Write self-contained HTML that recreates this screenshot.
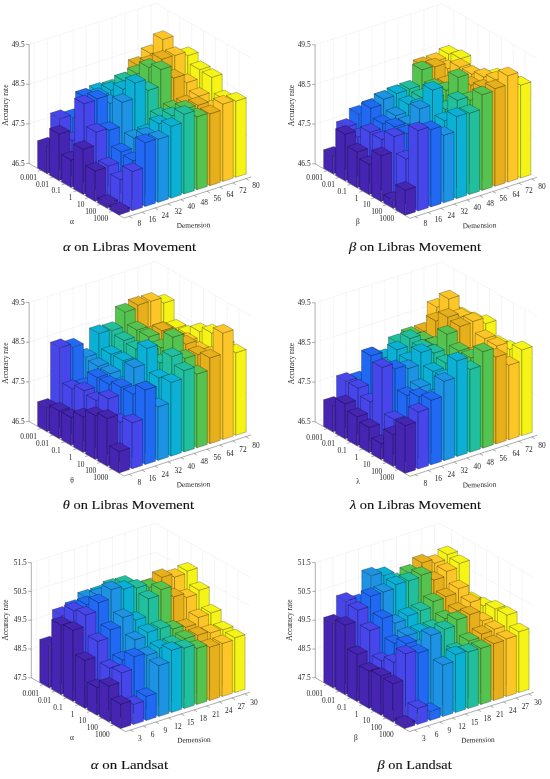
<!DOCTYPE html>
<html><head><meta charset="utf-8"><title>Parameter sensitivity</title>
<style>
html,body{margin:0;padding:0;background:#fff;}
body{width:550px;height:779px;overflow:hidden;position:relative;}
svg{position:absolute;left:0;top:0;}
.cap{position:absolute;font-family:"Liberation Serif","DejaVu Serif",serif;font-size:12.6px;color:#1a1a1a;white-space:nowrap;line-height:1;transform-origin:0 0;}
.cap i{font-style:italic;}
</style></head><body>
<svg width="550" height="779" viewBox="0 0 550 779" font-family='"Liberation Serif", "DejaVu Serif", serif'>
<g>
<line x1="29.1" y1="163.5" x2="156.1" y2="122.5" stroke="#ebebeb" stroke-width="0.5"/>
<line x1="156.1" y1="122.5" x2="251" y2="177" stroke="#ebebeb" stroke-width="0.5"/>
<line x1="29.1" y1="123.83" x2="156.1" y2="82.83" stroke="#ebebeb" stroke-width="0.5"/>
<line x1="156.1" y1="82.83" x2="251" y2="137.33" stroke="#ebebeb" stroke-width="0.5"/>
<line x1="29.1" y1="84.16" x2="156.1" y2="43.16" stroke="#ebebeb" stroke-width="0.5"/>
<line x1="156.1" y1="43.16" x2="251" y2="97.66" stroke="#ebebeb" stroke-width="0.5"/>
<line x1="29.1" y1="44.49" x2="156.1" y2="3.49" stroke="#ebebeb" stroke-width="0.5"/>
<line x1="156.1" y1="3.49" x2="251" y2="57.99" stroke="#ebebeb" stroke-width="0.5"/>
<line x1="34.28" y1="161.83" x2="34.28" y2="42.82" stroke="#ebebeb" stroke-width="0.5"/>
<line x1="47.24" y1="157.64" x2="47.24" y2="38.63" stroke="#ebebeb" stroke-width="0.5"/>
<line x1="60.2" y1="153.46" x2="60.2" y2="34.45" stroke="#ebebeb" stroke-width="0.5"/>
<line x1="73.16" y1="149.28" x2="73.16" y2="30.27" stroke="#ebebeb" stroke-width="0.5"/>
<line x1="86.12" y1="145.09" x2="86.12" y2="26.08" stroke="#ebebeb" stroke-width="0.5"/>
<line x1="99.08" y1="140.91" x2="99.08" y2="21.9" stroke="#ebebeb" stroke-width="0.5"/>
<line x1="112.04" y1="136.72" x2="112.04" y2="17.71" stroke="#ebebeb" stroke-width="0.5"/>
<line x1="125" y1="132.54" x2="125" y2="13.53" stroke="#ebebeb" stroke-width="0.5"/>
<line x1="137.96" y1="128.36" x2="137.96" y2="9.35" stroke="#ebebeb" stroke-width="0.5"/>
<line x1="150.92" y1="124.17" x2="150.92" y2="5.16" stroke="#ebebeb" stroke-width="0.5"/>
<line x1="167.96" y1="129.31" x2="167.96" y2="10.3" stroke="#ebebeb" stroke-width="0.5"/>
<line x1="179.82" y1="136.12" x2="179.82" y2="17.11" stroke="#ebebeb" stroke-width="0.5"/>
<line x1="191.69" y1="142.94" x2="191.69" y2="23.93" stroke="#ebebeb" stroke-width="0.5"/>
<line x1="203.55" y1="149.75" x2="203.55" y2="30.74" stroke="#ebebeb" stroke-width="0.5"/>
<line x1="215.41" y1="156.56" x2="215.41" y2="37.55" stroke="#ebebeb" stroke-width="0.5"/>
<line x1="227.28" y1="163.38" x2="227.28" y2="44.36" stroke="#ebebeb" stroke-width="0.5"/>
<line x1="239.14" y1="170.19" x2="239.14" y2="51.18" stroke="#ebebeb" stroke-width="0.5"/>
<line x1="34.28" y1="161.83" x2="129.18" y2="216.33" stroke="#ebebeb" stroke-width="0.5"/>
<line x1="47.24" y1="157.64" x2="142.14" y2="212.14" stroke="#ebebeb" stroke-width="0.5"/>
<line x1="60.2" y1="153.46" x2="155.1" y2="207.96" stroke="#ebebeb" stroke-width="0.5"/>
<line x1="73.16" y1="149.28" x2="168.06" y2="203.78" stroke="#ebebeb" stroke-width="0.5"/>
<line x1="86.12" y1="145.09" x2="181.02" y2="199.59" stroke="#ebebeb" stroke-width="0.5"/>
<line x1="99.08" y1="140.91" x2="193.98" y2="195.41" stroke="#ebebeb" stroke-width="0.5"/>
<line x1="112.04" y1="136.72" x2="206.94" y2="191.22" stroke="#ebebeb" stroke-width="0.5"/>
<line x1="125" y1="132.54" x2="219.9" y2="187.04" stroke="#ebebeb" stroke-width="0.5"/>
<line x1="137.96" y1="128.36" x2="232.86" y2="182.86" stroke="#ebebeb" stroke-width="0.5"/>
<line x1="150.92" y1="124.17" x2="245.82" y2="178.67" stroke="#ebebeb" stroke-width="0.5"/>
<line x1="40.96" y1="170.31" x2="167.96" y2="129.31" stroke="#ebebeb" stroke-width="0.5"/>
<line x1="52.83" y1="177.12" x2="179.82" y2="136.12" stroke="#ebebeb" stroke-width="0.5"/>
<line x1="64.69" y1="183.94" x2="191.69" y2="142.94" stroke="#ebebeb" stroke-width="0.5"/>
<line x1="76.55" y1="190.75" x2="203.55" y2="149.75" stroke="#ebebeb" stroke-width="0.5"/>
<line x1="88.41" y1="197.56" x2="215.41" y2="156.56" stroke="#ebebeb" stroke-width="0.5"/>
<line x1="100.28" y1="204.38" x2="227.28" y2="163.38" stroke="#ebebeb" stroke-width="0.5"/>
<line x1="112.14" y1="211.19" x2="239.14" y2="170.19" stroke="#ebebeb" stroke-width="0.5"/>
<line x1="29.1" y1="163.5" x2="29.1" y2="44.49" stroke="#6a6a6a" stroke-width="0.55"/>
<line x1="29.1" y1="163.5" x2="124" y2="218" stroke="#6a6a6a" stroke-width="0.55"/>
<line x1="124" y1="218" x2="251" y2="177" stroke="#6a6a6a" stroke-width="0.55"/>
<line x1="29.1" y1="163.5" x2="26.1" y2="163.5" stroke="#6a6a6a" stroke-width="0.55"/>
<line x1="29.1" y1="123.83" x2="26.1" y2="123.83" stroke="#6a6a6a" stroke-width="0.55"/>
<line x1="29.1" y1="84.16" x2="26.1" y2="84.16" stroke="#6a6a6a" stroke-width="0.55"/>
<line x1="29.1" y1="44.49" x2="26.1" y2="44.49" stroke="#6a6a6a" stroke-width="0.55"/>
<line x1="40.96" y1="170.31" x2="37.72" y2="171.36" stroke="#6a6a6a" stroke-width="0.55"/>
<line x1="52.83" y1="177.12" x2="49.59" y2="178.17" stroke="#6a6a6a" stroke-width="0.55"/>
<line x1="64.69" y1="183.94" x2="61.45" y2="184.98" stroke="#6a6a6a" stroke-width="0.55"/>
<line x1="76.55" y1="190.75" x2="73.31" y2="191.8" stroke="#6a6a6a" stroke-width="0.55"/>
<line x1="88.41" y1="197.56" x2="85.17" y2="198.61" stroke="#6a6a6a" stroke-width="0.55"/>
<line x1="100.28" y1="204.38" x2="97.04" y2="205.42" stroke="#6a6a6a" stroke-width="0.55"/>
<line x1="112.14" y1="211.19" x2="108.9" y2="212.23" stroke="#6a6a6a" stroke-width="0.55"/>
<line x1="129.18" y1="216.33" x2="132.15" y2="218.03" stroke="#6a6a6a" stroke-width="0.55"/>
<line x1="142.14" y1="212.14" x2="145.11" y2="213.85" stroke="#6a6a6a" stroke-width="0.55"/>
<line x1="155.1" y1="207.96" x2="158.07" y2="209.66" stroke="#6a6a6a" stroke-width="0.55"/>
<line x1="168.06" y1="203.78" x2="171.03" y2="205.48" stroke="#6a6a6a" stroke-width="0.55"/>
<line x1="181.02" y1="199.59" x2="183.99" y2="201.29" stroke="#6a6a6a" stroke-width="0.55"/>
<line x1="193.98" y1="195.41" x2="196.95" y2="197.11" stroke="#6a6a6a" stroke-width="0.55"/>
<line x1="206.94" y1="191.22" x2="209.9" y2="192.93" stroke="#6a6a6a" stroke-width="0.55"/>
<line x1="219.9" y1="187.04" x2="222.86" y2="188.74" stroke="#6a6a6a" stroke-width="0.55"/>
<line x1="232.86" y1="182.86" x2="235.82" y2="184.56" stroke="#6a6a6a" stroke-width="0.55"/>
<line x1="245.82" y1="178.67" x2="248.78" y2="180.38" stroke="#6a6a6a" stroke-width="0.55"/>
<polygon points="154.19,130.4 163.8,135.92 163.8,52.61 154.19,47.09" fill="#f6f417" stroke="rgba(0,0,0,0.55)" stroke-width="0.45" stroke-linejoin="round"/>
<polygon points="163.8,135.92 174.16,132.57 174.16,49.26 163.8,52.61" fill="#f6f417" stroke="rgba(0,0,0,0.55)" stroke-width="0.45" stroke-linejoin="round"/>
<polygon points="154.19,47.09 163.8,52.61 174.16,49.26 164.56,43.75" fill="#f6f417" stroke="rgba(0,0,0,0.55)" stroke-width="0.45" stroke-linejoin="round"/>
<polygon points="166.2,137.3 175.8,142.81 175.8,61.49 166.2,55.97" fill="#f6f417" stroke="rgba(0,0,0,0.55)" stroke-width="0.45" stroke-linejoin="round"/>
<polygon points="175.8,142.81 186.17,139.46 186.17,58.14 175.8,61.49" fill="#f6f417" stroke="rgba(0,0,0,0.55)" stroke-width="0.45" stroke-linejoin="round"/>
<polygon points="166.2,55.97 175.8,61.49 186.17,58.14 176.57,52.63" fill="#f6f417" stroke="rgba(0,0,0,0.55)" stroke-width="0.45" stroke-linejoin="round"/>
<polygon points="178.2,144.19 187.81,149.71 187.81,55.69 178.2,50.17" fill="#f6f417" stroke="rgba(0,0,0,0.55)" stroke-width="0.45" stroke-linejoin="round"/>
<polygon points="187.81,149.71 198.17,146.36 198.17,52.34 187.81,55.69" fill="#f6f417" stroke="rgba(0,0,0,0.55)" stroke-width="0.45" stroke-linejoin="round"/>
<polygon points="178.2,50.17 187.81,55.69 198.17,52.34 188.57,46.83" fill="#f6f417" stroke="rgba(0,0,0,0.55)" stroke-width="0.45" stroke-linejoin="round"/>
<polygon points="190.21,151.08 199.81,156.6 199.81,69.72 190.21,64.21" fill="#f6f417" stroke="rgba(0,0,0,0.55)" stroke-width="0.45" stroke-linejoin="round"/>
<polygon points="199.81,156.6 210.18,153.25 210.18,66.38 199.81,69.72" fill="#f6f417" stroke="rgba(0,0,0,0.55)" stroke-width="0.45" stroke-linejoin="round"/>
<polygon points="190.21,64.21 199.81,69.72 210.18,66.38 200.58,60.86" fill="#f6f417" stroke="rgba(0,0,0,0.55)" stroke-width="0.45" stroke-linejoin="round"/>
<polygon points="202.21,157.98 211.82,163.49 211.82,77.41 202.21,71.89" fill="#f6f417" stroke="rgba(0,0,0,0.55)" stroke-width="0.45" stroke-linejoin="round"/>
<polygon points="211.82,163.49 222.18,160.15 222.18,74.06 211.82,77.41" fill="#f6f417" stroke="rgba(0,0,0,0.55)" stroke-width="0.45" stroke-linejoin="round"/>
<polygon points="202.21,71.89 211.82,77.41 222.18,74.06 212.58,68.55" fill="#f6f417" stroke="rgba(0,0,0,0.55)" stroke-width="0.45" stroke-linejoin="round"/>
<polygon points="214.22,164.87 223.82,170.39 223.82,98.98 214.22,93.47" fill="#f6f417" stroke="rgba(0,0,0,0.55)" stroke-width="0.45" stroke-linejoin="round"/>
<polygon points="223.82,170.39 234.19,167.04 234.19,95.64 223.82,98.98" fill="#f6f417" stroke="rgba(0,0,0,0.55)" stroke-width="0.45" stroke-linejoin="round"/>
<polygon points="214.22,93.47 223.82,98.98 234.19,95.64 224.58,90.12" fill="#f6f417" stroke="rgba(0,0,0,0.55)" stroke-width="0.45" stroke-linejoin="round"/>
<polygon points="226.22,171.77 235.83,177.28 235.83,101.12 226.22,95.6" fill="#f6f417" stroke="rgba(0,0,0,0.55)" stroke-width="0.45" stroke-linejoin="round"/>
<polygon points="235.83,177.28 246.19,173.94 246.19,97.77 235.83,101.12" fill="#f6f417" stroke="rgba(0,0,0,0.55)" stroke-width="0.45" stroke-linejoin="round"/>
<polygon points="226.22,95.6 235.83,101.12 246.19,97.77 236.59,92.25" fill="#f6f417" stroke="rgba(0,0,0,0.55)" stroke-width="0.45" stroke-linejoin="round"/>
<polygon points="141.23,134.59 150.84,140.1 150.84,53.62 141.23,48.1" fill="#fdc628" stroke="rgba(0,0,0,0.55)" stroke-width="0.45" stroke-linejoin="round"/>
<polygon points="150.84,140.1 161.21,136.75 161.21,50.27 150.84,53.62" fill="#fdc628" stroke="rgba(0,0,0,0.55)" stroke-width="0.45" stroke-linejoin="round"/>
<polygon points="141.23,48.1 150.84,53.62 161.21,50.27 151.6,44.76" fill="#fdc628" stroke="rgba(0,0,0,0.55)" stroke-width="0.45" stroke-linejoin="round"/>
<polygon points="153.24,141.48 162.84,147 162.84,39.49 153.24,33.97" fill="#fdc628" stroke="rgba(0,0,0,0.55)" stroke-width="0.45" stroke-linejoin="round"/>
<polygon points="162.84,147 173.21,143.65 173.21,36.14 162.84,39.49" fill="#fdc628" stroke="rgba(0,0,0,0.55)" stroke-width="0.45" stroke-linejoin="round"/>
<polygon points="153.24,33.97 162.84,39.49 173.21,36.14 163.61,30.63" fill="#fdc628" stroke="rgba(0,0,0,0.55)" stroke-width="0.45" stroke-linejoin="round"/>
<polygon points="165.24,148.37 174.85,153.89 174.85,55.51 165.24,49.99" fill="#fdc628" stroke="rgba(0,0,0,0.55)" stroke-width="0.45" stroke-linejoin="round"/>
<polygon points="174.85,153.89 185.21,150.54 185.21,52.16 174.85,55.51" fill="#fdc628" stroke="rgba(0,0,0,0.55)" stroke-width="0.45" stroke-linejoin="round"/>
<polygon points="165.24,49.99 174.85,55.51 185.21,52.16 175.61,46.65" fill="#fdc628" stroke="rgba(0,0,0,0.55)" stroke-width="0.45" stroke-linejoin="round"/>
<polygon points="177.25,155.27 186.85,160.78 186.85,82.63 177.25,77.12" fill="#fdc628" stroke="rgba(0,0,0,0.55)" stroke-width="0.45" stroke-linejoin="round"/>
<polygon points="186.85,160.78 197.22,157.44 197.22,79.29 186.85,82.63" fill="#fdc628" stroke="rgba(0,0,0,0.55)" stroke-width="0.45" stroke-linejoin="round"/>
<polygon points="177.25,77.12 186.85,82.63 197.22,79.29 187.62,73.77" fill="#fdc628" stroke="rgba(0,0,0,0.55)" stroke-width="0.45" stroke-linejoin="round"/>
<polygon points="189.25,162.16 198.86,167.68 198.86,96.27 189.25,90.76" fill="#fdc628" stroke="rgba(0,0,0,0.55)" stroke-width="0.45" stroke-linejoin="round"/>
<polygon points="198.86,167.68 209.22,164.33 209.22,92.92 198.86,96.27" fill="#fdc628" stroke="rgba(0,0,0,0.55)" stroke-width="0.45" stroke-linejoin="round"/>
<polygon points="189.25,90.76 198.86,96.27 209.22,92.92 199.62,87.41" fill="#fdc628" stroke="rgba(0,0,0,0.55)" stroke-width="0.45" stroke-linejoin="round"/>
<polygon points="201.26,169.06 210.86,174.57 210.86,109.12 201.26,103.6" fill="#fdc628" stroke="rgba(0,0,0,0.55)" stroke-width="0.45" stroke-linejoin="round"/>
<polygon points="210.86,174.57 221.23,171.23 221.23,105.77 210.86,109.12" fill="#fdc628" stroke="rgba(0,0,0,0.55)" stroke-width="0.45" stroke-linejoin="round"/>
<polygon points="201.26,103.6 210.86,109.12 221.23,105.77 211.63,100.25" fill="#fdc628" stroke="rgba(0,0,0,0.55)" stroke-width="0.45" stroke-linejoin="round"/>
<polygon points="213.26,175.95 222.87,181.47 222.87,104.11 213.26,98.59" fill="#fdc628" stroke="rgba(0,0,0,0.55)" stroke-width="0.45" stroke-linejoin="round"/>
<polygon points="222.87,181.47 233.23,178.12 233.23,100.76 222.87,104.11" fill="#fdc628" stroke="rgba(0,0,0,0.55)" stroke-width="0.45" stroke-linejoin="round"/>
<polygon points="213.26,98.59 222.87,104.11 233.23,100.76 223.63,95.25" fill="#fdc628" stroke="rgba(0,0,0,0.55)" stroke-width="0.45" stroke-linejoin="round"/>
<polygon points="128.27,138.77 137.88,144.28 137.88,65.34 128.27,59.83" fill="#e6af1c" stroke="rgba(0,0,0,0.55)" stroke-width="0.45" stroke-linejoin="round"/>
<polygon points="137.88,144.28 148.25,140.94 148.25,61.99 137.88,65.34" fill="#e6af1c" stroke="rgba(0,0,0,0.55)" stroke-width="0.45" stroke-linejoin="round"/>
<polygon points="128.27,59.83 137.88,65.34 148.25,61.99 138.64,56.48" fill="#e6af1c" stroke="rgba(0,0,0,0.55)" stroke-width="0.45" stroke-linejoin="round"/>
<polygon points="140.28,145.66 149.88,151.18 149.88,63.9 140.28,58.39" fill="#e6af1c" stroke="rgba(0,0,0,0.55)" stroke-width="0.45" stroke-linejoin="round"/>
<polygon points="149.88,151.18 160.25,147.83 160.25,60.56 149.88,63.9" fill="#e6af1c" stroke="rgba(0,0,0,0.55)" stroke-width="0.45" stroke-linejoin="round"/>
<polygon points="140.28,58.39 149.88,63.9 160.25,60.56 150.65,55.04" fill="#e6af1c" stroke="rgba(0,0,0,0.55)" stroke-width="0.45" stroke-linejoin="round"/>
<polygon points="152.28,152.56 161.89,158.07 161.89,59.29 152.28,53.78" fill="#e6af1c" stroke="rgba(0,0,0,0.55)" stroke-width="0.45" stroke-linejoin="round"/>
<polygon points="161.89,158.07 172.26,154.73 172.26,55.95 161.89,59.29" fill="#e6af1c" stroke="rgba(0,0,0,0.55)" stroke-width="0.45" stroke-linejoin="round"/>
<polygon points="152.28,53.78 161.89,59.29 172.26,55.95 162.65,50.43" fill="#e6af1c" stroke="rgba(0,0,0,0.55)" stroke-width="0.45" stroke-linejoin="round"/>
<polygon points="164.29,159.45 173.89,164.97 173.89,78.09 164.29,72.57" fill="#e6af1c" stroke="rgba(0,0,0,0.55)" stroke-width="0.45" stroke-linejoin="round"/>
<polygon points="173.89,164.97 184.26,161.62 184.26,74.74 173.89,78.09" fill="#e6af1c" stroke="rgba(0,0,0,0.55)" stroke-width="0.45" stroke-linejoin="round"/>
<polygon points="164.29,72.57 173.89,78.09 184.26,74.74 174.66,69.23" fill="#e6af1c" stroke="rgba(0,0,0,0.55)" stroke-width="0.45" stroke-linejoin="round"/>
<polygon points="176.29,166.35 185.9,171.86 185.9,104.03 176.29,98.51" fill="#e6af1c" stroke="rgba(0,0,0,0.55)" stroke-width="0.45" stroke-linejoin="round"/>
<polygon points="185.9,171.86 196.27,168.51 196.27,100.68 185.9,104.03" fill="#e6af1c" stroke="rgba(0,0,0,0.55)" stroke-width="0.45" stroke-linejoin="round"/>
<polygon points="176.29,98.51 185.9,104.03 196.27,100.68 186.66,95.16" fill="#e6af1c" stroke="rgba(0,0,0,0.55)" stroke-width="0.45" stroke-linejoin="round"/>
<polygon points="188.3,173.24 197.9,178.76 197.9,105.37 188.3,99.85" fill="#e6af1c" stroke="rgba(0,0,0,0.55)" stroke-width="0.45" stroke-linejoin="round"/>
<polygon points="197.9,178.76 208.27,175.41 208.27,102.02 197.9,105.37" fill="#e6af1c" stroke="rgba(0,0,0,0.55)" stroke-width="0.45" stroke-linejoin="round"/>
<polygon points="188.3,99.85 197.9,105.37 208.27,102.02 198.67,96.5" fill="#e6af1c" stroke="rgba(0,0,0,0.55)" stroke-width="0.45" stroke-linejoin="round"/>
<polygon points="200.3,180.13 209.91,185.65 209.91,113.85 200.3,108.33" fill="#e6af1c" stroke="rgba(0,0,0,0.55)" stroke-width="0.45" stroke-linejoin="round"/>
<polygon points="209.91,185.65 220.28,182.3 220.28,110.5 209.91,113.85" fill="#e6af1c" stroke="rgba(0,0,0,0.55)" stroke-width="0.45" stroke-linejoin="round"/>
<polygon points="200.3,108.33 209.91,113.85 220.28,110.5 210.67,104.98" fill="#e6af1c" stroke="rgba(0,0,0,0.55)" stroke-width="0.45" stroke-linejoin="round"/>
<polygon points="115.32,142.95 124.92,148.47 124.92,81.03 115.32,75.51" fill="#55c350" stroke="rgba(0,0,0,0.55)" stroke-width="0.45" stroke-linejoin="round"/>
<polygon points="124.92,148.47 135.29,145.12 135.29,77.68 124.92,81.03" fill="#55c350" stroke="rgba(0,0,0,0.55)" stroke-width="0.45" stroke-linejoin="round"/>
<polygon points="115.32,75.51 124.92,81.03 135.29,77.68 125.68,72.17" fill="#55c350" stroke="rgba(0,0,0,0.55)" stroke-width="0.45" stroke-linejoin="round"/>
<polygon points="127.32,149.85 136.92,155.36 136.92,73.64 127.32,68.13" fill="#55c350" stroke="rgba(0,0,0,0.55)" stroke-width="0.45" stroke-linejoin="round"/>
<polygon points="136.92,155.36 147.29,152.02 147.29,70.3 136.92,73.64" fill="#55c350" stroke="rgba(0,0,0,0.55)" stroke-width="0.45" stroke-linejoin="round"/>
<polygon points="127.32,68.13 136.92,73.64 147.29,70.3 137.69,64.78" fill="#55c350" stroke="rgba(0,0,0,0.55)" stroke-width="0.45" stroke-linejoin="round"/>
<polygon points="139.33,156.74 148.93,162.26 148.93,67.45 139.33,61.93" fill="#55c350" stroke="rgba(0,0,0,0.55)" stroke-width="0.45" stroke-linejoin="round"/>
<polygon points="148.93,162.26 159.3,158.91 159.3,64.1 148.93,67.45" fill="#55c350" stroke="rgba(0,0,0,0.55)" stroke-width="0.45" stroke-linejoin="round"/>
<polygon points="139.33,61.93 148.93,67.45 159.3,64.1 149.69,58.58" fill="#55c350" stroke="rgba(0,0,0,0.55)" stroke-width="0.45" stroke-linejoin="round"/>
<polygon points="151.33,163.64 160.93,169.15 160.93,69.58 151.33,64.06" fill="#55c350" stroke="rgba(0,0,0,0.55)" stroke-width="0.45" stroke-linejoin="round"/>
<polygon points="160.93,169.15 171.3,165.8 171.3,66.23 160.93,69.58" fill="#55c350" stroke="rgba(0,0,0,0.55)" stroke-width="0.45" stroke-linejoin="round"/>
<polygon points="151.33,64.06 160.93,69.58 171.3,66.23 161.7,60.72" fill="#55c350" stroke="rgba(0,0,0,0.55)" stroke-width="0.45" stroke-linejoin="round"/>
<polygon points="163.34,170.53 172.94,176.05 172.94,109 163.34,103.49" fill="#55c350" stroke="rgba(0,0,0,0.55)" stroke-width="0.45" stroke-linejoin="round"/>
<polygon points="172.94,176.05 183.31,172.7 183.31,105.66 172.94,109" fill="#55c350" stroke="rgba(0,0,0,0.55)" stroke-width="0.45" stroke-linejoin="round"/>
<polygon points="163.34,103.49 172.94,109 183.31,105.66 173.7,100.14" fill="#55c350" stroke="rgba(0,0,0,0.55)" stroke-width="0.45" stroke-linejoin="round"/>
<polygon points="175.34,177.42 184.94,182.94 184.94,109.15 175.34,103.64" fill="#55c350" stroke="rgba(0,0,0,0.55)" stroke-width="0.45" stroke-linejoin="round"/>
<polygon points="184.94,182.94 195.31,179.59 195.31,105.81 184.94,109.15" fill="#55c350" stroke="rgba(0,0,0,0.55)" stroke-width="0.45" stroke-linejoin="round"/>
<polygon points="175.34,103.64 184.94,109.15 195.31,105.81 185.71,100.29" fill="#55c350" stroke="rgba(0,0,0,0.55)" stroke-width="0.45" stroke-linejoin="round"/>
<polygon points="187.34,184.32 196.95,189.83 196.95,116.84 187.34,111.33" fill="#55c350" stroke="rgba(0,0,0,0.55)" stroke-width="0.45" stroke-linejoin="round"/>
<polygon points="196.95,189.83 207.32,186.49 207.32,113.49 196.95,116.84" fill="#55c350" stroke="rgba(0,0,0,0.55)" stroke-width="0.45" stroke-linejoin="round"/>
<polygon points="187.34,111.33 196.95,116.84 207.32,113.49 197.71,107.98" fill="#55c350" stroke="rgba(0,0,0,0.55)" stroke-width="0.45" stroke-linejoin="round"/>
<polygon points="102.36,147.14 111.96,152.65 111.96,87.99 102.36,82.47" fill="#22bf9e" stroke="rgba(0,0,0,0.55)" stroke-width="0.45" stroke-linejoin="round"/>
<polygon points="111.96,152.65 122.33,149.3 122.33,84.64 111.96,87.99" fill="#22bf9e" stroke="rgba(0,0,0,0.55)" stroke-width="0.45" stroke-linejoin="round"/>
<polygon points="102.36,82.47 111.96,87.99 122.33,84.64 112.72,79.13" fill="#22bf9e" stroke="rgba(0,0,0,0.55)" stroke-width="0.45" stroke-linejoin="round"/>
<polygon points="114.36,154.03 123.97,159.55 123.97,81 114.36,75.48" fill="#22bf9e" stroke="rgba(0,0,0,0.55)" stroke-width="0.45" stroke-linejoin="round"/>
<polygon points="123.97,159.55 134.33,156.2 134.33,77.65 123.97,81" fill="#22bf9e" stroke="rgba(0,0,0,0.55)" stroke-width="0.45" stroke-linejoin="round"/>
<polygon points="114.36,75.48 123.97,81 134.33,77.65 124.73,72.14" fill="#22bf9e" stroke="rgba(0,0,0,0.55)" stroke-width="0.45" stroke-linejoin="round"/>
<polygon points="126.37,160.92 135.97,166.44 135.97,87.1 126.37,81.58" fill="#22bf9e" stroke="rgba(0,0,0,0.55)" stroke-width="0.45" stroke-linejoin="round"/>
<polygon points="135.97,166.44 146.34,163.09 146.34,83.75 135.97,87.1" fill="#22bf9e" stroke="rgba(0,0,0,0.55)" stroke-width="0.45" stroke-linejoin="round"/>
<polygon points="126.37,81.58 135.97,87.1 146.34,83.75 136.73,78.24" fill="#22bf9e" stroke="rgba(0,0,0,0.55)" stroke-width="0.45" stroke-linejoin="round"/>
<polygon points="138.37,167.82 147.97,173.33 147.97,90.42 138.37,84.91" fill="#22bf9e" stroke="rgba(0,0,0,0.55)" stroke-width="0.45" stroke-linejoin="round"/>
<polygon points="147.97,173.33 158.34,169.99 158.34,87.08 147.97,90.42" fill="#22bf9e" stroke="rgba(0,0,0,0.55)" stroke-width="0.45" stroke-linejoin="round"/>
<polygon points="138.37,84.91 147.97,90.42 158.34,87.08 148.74,81.56" fill="#22bf9e" stroke="rgba(0,0,0,0.55)" stroke-width="0.45" stroke-linejoin="round"/>
<polygon points="150.38,174.71 159.98,180.23 159.98,116.36 150.38,110.84" fill="#22bf9e" stroke="rgba(0,0,0,0.55)" stroke-width="0.45" stroke-linejoin="round"/>
<polygon points="159.98,180.23 170.35,176.88 170.35,113.01 159.98,116.36" fill="#22bf9e" stroke="rgba(0,0,0,0.55)" stroke-width="0.45" stroke-linejoin="round"/>
<polygon points="150.38,110.84 159.98,116.36 170.35,113.01 160.74,107.5" fill="#22bf9e" stroke="rgba(0,0,0,0.55)" stroke-width="0.45" stroke-linejoin="round"/>
<polygon points="162.38,181.61 171.98,187.12 171.98,115.72 162.38,110.2" fill="#22bf9e" stroke="rgba(0,0,0,0.55)" stroke-width="0.45" stroke-linejoin="round"/>
<polygon points="171.98,187.12 182.35,183.78 182.35,112.37 171.98,115.72" fill="#22bf9e" stroke="rgba(0,0,0,0.55)" stroke-width="0.45" stroke-linejoin="round"/>
<polygon points="162.38,110.2 171.98,115.72 182.35,112.37 172.75,106.85" fill="#22bf9e" stroke="rgba(0,0,0,0.55)" stroke-width="0.45" stroke-linejoin="round"/>
<polygon points="174.39,188.5 183.99,194.02 183.99,114.28 174.39,108.77" fill="#22bf9e" stroke="rgba(0,0,0,0.55)" stroke-width="0.45" stroke-linejoin="round"/>
<polygon points="183.99,194.02 194.36,190.67 194.36,110.93 183.99,114.28" fill="#22bf9e" stroke="rgba(0,0,0,0.55)" stroke-width="0.45" stroke-linejoin="round"/>
<polygon points="174.39,108.77 183.99,114.28 194.36,110.93 184.75,105.42" fill="#22bf9e" stroke="rgba(0,0,0,0.55)" stroke-width="0.45" stroke-linejoin="round"/>
<polygon points="89.4,151.32 99,156.84 99,91.38 89.4,85.86" fill="#0bb0d4" stroke="rgba(0,0,0,0.55)" stroke-width="0.45" stroke-linejoin="round"/>
<polygon points="99,156.84 109.37,153.49 109.37,88.03 99,91.38" fill="#0bb0d4" stroke="rgba(0,0,0,0.55)" stroke-width="0.45" stroke-linejoin="round"/>
<polygon points="89.4,85.86 99,91.38 109.37,88.03 99.76,82.52" fill="#0bb0d4" stroke="rgba(0,0,0,0.55)" stroke-width="0.45" stroke-linejoin="round"/>
<polygon points="101.4,158.21 111.01,163.73 111.01,90.34 101.4,84.82" fill="#0bb0d4" stroke="rgba(0,0,0,0.55)" stroke-width="0.45" stroke-linejoin="round"/>
<polygon points="111.01,163.73 121.37,160.38 121.37,86.99 111.01,90.34" fill="#0bb0d4" stroke="rgba(0,0,0,0.55)" stroke-width="0.45" stroke-linejoin="round"/>
<polygon points="101.4,84.82 111.01,90.34 121.37,86.99 111.77,81.48" fill="#0bb0d4" stroke="rgba(0,0,0,0.55)" stroke-width="0.45" stroke-linejoin="round"/>
<polygon points="113.41,165.11 123.01,170.62 123.01,89.3 113.41,83.79" fill="#0bb0d4" stroke="rgba(0,0,0,0.55)" stroke-width="0.45" stroke-linejoin="round"/>
<polygon points="123.01,170.62 133.38,167.28 133.38,85.95 123.01,89.3" fill="#0bb0d4" stroke="rgba(0,0,0,0.55)" stroke-width="0.45" stroke-linejoin="round"/>
<polygon points="113.41,83.79 123.01,89.3 133.38,85.95 123.77,80.44" fill="#0bb0d4" stroke="rgba(0,0,0,0.55)" stroke-width="0.45" stroke-linejoin="round"/>
<polygon points="125.41,172 135.02,177.52 135.02,83.1 125.41,77.59" fill="#0bb0d4" stroke="rgba(0,0,0,0.55)" stroke-width="0.45" stroke-linejoin="round"/>
<polygon points="135.02,177.52 145.38,174.17 145.38,79.76 135.02,83.1" fill="#0bb0d4" stroke="rgba(0,0,0,0.55)" stroke-width="0.45" stroke-linejoin="round"/>
<polygon points="125.41,77.59 135.02,83.1 145.38,79.76 135.78,74.24" fill="#0bb0d4" stroke="rgba(0,0,0,0.55)" stroke-width="0.45" stroke-linejoin="round"/>
<polygon points="137.42,178.9 147.02,184.41 147.02,132.84 137.42,127.33" fill="#0bb0d4" stroke="rgba(0,0,0,0.55)" stroke-width="0.45" stroke-linejoin="round"/>
<polygon points="147.02,184.41 157.39,181.07 157.39,129.49 147.02,132.84" fill="#0bb0d4" stroke="rgba(0,0,0,0.55)" stroke-width="0.45" stroke-linejoin="round"/>
<polygon points="137.42,127.33 147.02,132.84 157.39,129.49 147.78,123.98" fill="#0bb0d4" stroke="rgba(0,0,0,0.55)" stroke-width="0.45" stroke-linejoin="round"/>
<polygon points="149.42,185.79 159.03,191.31 159.03,123.87 149.42,118.35" fill="#0bb0d4" stroke="rgba(0,0,0,0.55)" stroke-width="0.45" stroke-linejoin="round"/>
<polygon points="159.03,191.31 169.39,187.96 169.39,120.52 159.03,123.87" fill="#0bb0d4" stroke="rgba(0,0,0,0.55)" stroke-width="0.45" stroke-linejoin="round"/>
<polygon points="149.42,118.35 159.03,123.87 169.39,120.52 159.79,115.01" fill="#0bb0d4" stroke="rgba(0,0,0,0.55)" stroke-width="0.45" stroke-linejoin="round"/>
<polygon points="161.43,192.69 171.03,198.2 171.03,126.4 161.43,120.88" fill="#0bb0d4" stroke="rgba(0,0,0,0.55)" stroke-width="0.45" stroke-linejoin="round"/>
<polygon points="171.03,198.2 181.4,194.85 181.4,123.05 171.03,126.4" fill="#0bb0d4" stroke="rgba(0,0,0,0.55)" stroke-width="0.45" stroke-linejoin="round"/>
<polygon points="161.43,120.88 171.03,126.4 181.4,123.05 171.79,117.54" fill="#0bb0d4" stroke="rgba(0,0,0,0.55)" stroke-width="0.45" stroke-linejoin="round"/>
<polygon points="76.44,155.5 86.04,161.02 86.04,97.55 76.44,92.03" fill="#1e93e4" stroke="rgba(0,0,0,0.55)" stroke-width="0.45" stroke-linejoin="round"/>
<polygon points="86.04,161.02 96.41,157.67 96.41,94.2 86.04,97.55" fill="#1e93e4" stroke="rgba(0,0,0,0.55)" stroke-width="0.45" stroke-linejoin="round"/>
<polygon points="76.44,92.03 86.04,97.55 96.41,94.2 86.81,88.68" fill="#1e93e4" stroke="rgba(0,0,0,0.55)" stroke-width="0.45" stroke-linejoin="round"/>
<polygon points="88.44,162.4 98.05,167.91 98.05,96.51 88.44,90.99" fill="#1e93e4" stroke="rgba(0,0,0,0.55)" stroke-width="0.45" stroke-linejoin="round"/>
<polygon points="98.05,167.91 108.41,164.57 108.41,93.16 98.05,96.51" fill="#1e93e4" stroke="rgba(0,0,0,0.55)" stroke-width="0.45" stroke-linejoin="round"/>
<polygon points="88.44,90.99 98.05,96.51 108.41,93.16 98.81,87.65" fill="#1e93e4" stroke="rgba(0,0,0,0.55)" stroke-width="0.45" stroke-linejoin="round"/>
<polygon points="100.45,169.29 110.05,174.81 110.05,103.4 100.45,97.89" fill="#1e93e4" stroke="rgba(0,0,0,0.55)" stroke-width="0.45" stroke-linejoin="round"/>
<polygon points="110.05,174.81 120.42,171.46 120.42,100.05 110.05,103.4" fill="#1e93e4" stroke="rgba(0,0,0,0.55)" stroke-width="0.45" stroke-linejoin="round"/>
<polygon points="100.45,97.89 110.05,103.4 120.42,100.05 110.82,94.54" fill="#1e93e4" stroke="rgba(0,0,0,0.55)" stroke-width="0.45" stroke-linejoin="round"/>
<polygon points="112.45,176.19 122.06,181.7 122.06,102.36 112.45,96.85" fill="#1e93e4" stroke="rgba(0,0,0,0.55)" stroke-width="0.45" stroke-linejoin="round"/>
<polygon points="122.06,181.7 132.42,178.35 132.42,99.01 122.06,102.36" fill="#1e93e4" stroke="rgba(0,0,0,0.55)" stroke-width="0.45" stroke-linejoin="round"/>
<polygon points="112.45,96.85 122.06,102.36 132.42,99.01 122.82,93.5" fill="#1e93e4" stroke="rgba(0,0,0,0.55)" stroke-width="0.45" stroke-linejoin="round"/>
<polygon points="124.46,183.08 134.06,188.6 134.06,138.22 124.46,132.7" fill="#1e93e4" stroke="rgba(0,0,0,0.55)" stroke-width="0.45" stroke-linejoin="round"/>
<polygon points="134.06,188.6 144.43,185.25 144.43,134.87 134.06,138.22" fill="#1e93e4" stroke="rgba(0,0,0,0.55)" stroke-width="0.45" stroke-linejoin="round"/>
<polygon points="124.46,132.7 134.06,138.22 144.43,134.87 134.82,129.35" fill="#1e93e4" stroke="rgba(0,0,0,0.55)" stroke-width="0.45" stroke-linejoin="round"/>
<polygon points="136.46,189.98 146.07,195.49 146.07,135.99 136.46,130.47" fill="#1e93e4" stroke="rgba(0,0,0,0.55)" stroke-width="0.45" stroke-linejoin="round"/>
<polygon points="146.07,195.49 156.43,192.14 156.43,132.64 146.07,135.99" fill="#1e93e4" stroke="rgba(0,0,0,0.55)" stroke-width="0.45" stroke-linejoin="round"/>
<polygon points="136.46,130.47 146.07,135.99 156.43,132.64 146.83,127.12" fill="#1e93e4" stroke="rgba(0,0,0,0.55)" stroke-width="0.45" stroke-linejoin="round"/>
<polygon points="148.47,196.87 158.07,202.38 158.07,139.31 148.47,133.79" fill="#1e93e4" stroke="rgba(0,0,0,0.55)" stroke-width="0.45" stroke-linejoin="round"/>
<polygon points="158.07,202.38 168.44,199.04 168.44,135.96 158.07,139.31" fill="#1e93e4" stroke="rgba(0,0,0,0.55)" stroke-width="0.45" stroke-linejoin="round"/>
<polygon points="148.47,133.79 158.07,139.31 168.44,135.96 158.83,130.45" fill="#1e93e4" stroke="rgba(0,0,0,0.55)" stroke-width="0.45" stroke-linejoin="round"/>
<polygon points="63.48,159.69 73.08,165.2 73.08,117.6 63.48,112.08" fill="#2168f3" stroke="rgba(0,0,0,0.55)" stroke-width="0.45" stroke-linejoin="round"/>
<polygon points="73.08,165.2 83.45,161.86 83.45,114.25 73.08,117.6" fill="#2168f3" stroke="rgba(0,0,0,0.55)" stroke-width="0.45" stroke-linejoin="round"/>
<polygon points="63.48,112.08 73.08,117.6 83.45,114.25 73.85,108.74" fill="#2168f3" stroke="rgba(0,0,0,0.55)" stroke-width="0.45" stroke-linejoin="round"/>
<polygon points="75.48,166.58 85.09,172.1 85.09,97.12 75.48,91.61" fill="#2168f3" stroke="rgba(0,0,0,0.55)" stroke-width="0.45" stroke-linejoin="round"/>
<polygon points="85.09,172.1 95.46,168.75 95.46,93.77 85.09,97.12" fill="#2168f3" stroke="rgba(0,0,0,0.55)" stroke-width="0.45" stroke-linejoin="round"/>
<polygon points="75.48,91.61 85.09,97.12 95.46,93.77 85.85,88.26" fill="#2168f3" stroke="rgba(0,0,0,0.55)" stroke-width="0.45" stroke-linejoin="round"/>
<polygon points="87.49,173.48 97.09,178.99 97.09,98.86 87.49,93.34" fill="#2168f3" stroke="rgba(0,0,0,0.55)" stroke-width="0.45" stroke-linejoin="round"/>
<polygon points="97.09,178.99 107.46,175.64 107.46,95.51 97.09,98.86" fill="#2168f3" stroke="rgba(0,0,0,0.55)" stroke-width="0.45" stroke-linejoin="round"/>
<polygon points="87.49,93.34 97.09,98.86 107.46,95.51 97.86,90" fill="#2168f3" stroke="rgba(0,0,0,0.55)" stroke-width="0.45" stroke-linejoin="round"/>
<polygon points="99.49,180.37 109.1,185.89 109.1,130.35 99.49,124.83" fill="#2168f3" stroke="rgba(0,0,0,0.55)" stroke-width="0.45" stroke-linejoin="round"/>
<polygon points="109.1,185.89 119.46,182.54 119.46,127 109.1,130.35" fill="#2168f3" stroke="rgba(0,0,0,0.55)" stroke-width="0.45" stroke-linejoin="round"/>
<polygon points="99.49,124.83 109.1,130.35 119.46,127 109.86,121.49" fill="#2168f3" stroke="rgba(0,0,0,0.55)" stroke-width="0.45" stroke-linejoin="round"/>
<polygon points="111.5,187.26 121.1,192.78 121.1,151.92 111.5,146.4" fill="#2168f3" stroke="rgba(0,0,0,0.55)" stroke-width="0.45" stroke-linejoin="round"/>
<polygon points="121.1,192.78 131.47,189.43 131.47,148.57 121.1,151.92" fill="#2168f3" stroke="rgba(0,0,0,0.55)" stroke-width="0.45" stroke-linejoin="round"/>
<polygon points="111.5,146.4 121.1,151.92 131.47,148.57 121.87,143.06" fill="#2168f3" stroke="rgba(0,0,0,0.55)" stroke-width="0.45" stroke-linejoin="round"/>
<polygon points="123.5,194.16 133.11,199.67 133.11,160.8 123.5,155.28" fill="#2168f3" stroke="rgba(0,0,0,0.55)" stroke-width="0.45" stroke-linejoin="round"/>
<polygon points="133.11,199.67 143.47,196.33 143.47,157.45 133.11,160.8" fill="#2168f3" stroke="rgba(0,0,0,0.55)" stroke-width="0.45" stroke-linejoin="round"/>
<polygon points="123.5,155.28 133.11,160.8 143.47,157.45 133.87,151.94" fill="#2168f3" stroke="rgba(0,0,0,0.55)" stroke-width="0.45" stroke-linejoin="round"/>
<polygon points="135.51,201.05 145.11,206.57 145.11,142.7 135.51,137.18" fill="#2168f3" stroke="rgba(0,0,0,0.55)" stroke-width="0.45" stroke-linejoin="round"/>
<polygon points="145.11,206.57 155.48,203.22 155.48,139.35 145.11,142.7" fill="#2168f3" stroke="rgba(0,0,0,0.55)" stroke-width="0.45" stroke-linejoin="round"/>
<polygon points="135.51,137.18 145.11,142.7 155.48,139.35 145.88,133.84" fill="#2168f3" stroke="rgba(0,0,0,0.55)" stroke-width="0.45" stroke-linejoin="round"/>
<polygon points="50.52,163.87 60.12,169.39 60.12,118.61 50.52,113.09" fill="#4746ea" stroke="rgba(0,0,0,0.55)" stroke-width="0.45" stroke-linejoin="round"/>
<polygon points="60.12,169.39 70.49,166.04 70.49,115.26 60.12,118.61" fill="#4746ea" stroke="rgba(0,0,0,0.55)" stroke-width="0.45" stroke-linejoin="round"/>
<polygon points="50.52,113.09 60.12,118.61 70.49,115.26 60.89,109.75" fill="#4746ea" stroke="rgba(0,0,0,0.55)" stroke-width="0.45" stroke-linejoin="round"/>
<polygon points="62.52,170.77 72.13,176.28 72.13,140.58 62.52,135.06" fill="#4746ea" stroke="rgba(0,0,0,0.55)" stroke-width="0.45" stroke-linejoin="round"/>
<polygon points="72.13,176.28 82.5,172.93 82.5,137.23 72.13,140.58" fill="#4746ea" stroke="rgba(0,0,0,0.55)" stroke-width="0.45" stroke-linejoin="round"/>
<polygon points="62.52,135.06 72.13,140.58 82.5,137.23 72.89,131.72" fill="#4746ea" stroke="rgba(0,0,0,0.55)" stroke-width="0.45" stroke-linejoin="round"/>
<polygon points="74.53,177.66 84.13,183.18 84.13,103.84 74.53,98.32" fill="#4746ea" stroke="rgba(0,0,0,0.55)" stroke-width="0.45" stroke-linejoin="round"/>
<polygon points="84.13,183.18 94.5,179.83 94.5,100.49 84.13,103.84" fill="#4746ea" stroke="rgba(0,0,0,0.55)" stroke-width="0.45" stroke-linejoin="round"/>
<polygon points="74.53,98.32 84.13,103.84 94.5,100.49 84.9,94.97" fill="#4746ea" stroke="rgba(0,0,0,0.55)" stroke-width="0.45" stroke-linejoin="round"/>
<polygon points="86.53,184.55 96.14,190.07 96.14,132.15 86.53,126.64" fill="#4746ea" stroke="rgba(0,0,0,0.55)" stroke-width="0.45" stroke-linejoin="round"/>
<polygon points="96.14,190.07 106.51,186.72 106.51,128.8 96.14,132.15" fill="#4746ea" stroke="rgba(0,0,0,0.55)" stroke-width="0.45" stroke-linejoin="round"/>
<polygon points="86.53,126.64 96.14,132.15 106.51,128.8 96.9,123.29" fill="#4746ea" stroke="rgba(0,0,0,0.55)" stroke-width="0.45" stroke-linejoin="round"/>
<polygon points="98.54,191.45 108.14,196.96 108.14,166.02 98.54,160.51" fill="#4746ea" stroke="rgba(0,0,0,0.55)" stroke-width="0.45" stroke-linejoin="round"/>
<polygon points="108.14,196.96 118.51,193.62 118.51,162.67 108.14,166.02" fill="#4746ea" stroke="rgba(0,0,0,0.55)" stroke-width="0.45" stroke-linejoin="round"/>
<polygon points="98.54,160.51 108.14,166.02 118.51,162.67 108.91,157.16" fill="#4746ea" stroke="rgba(0,0,0,0.55)" stroke-width="0.45" stroke-linejoin="round"/>
<polygon points="110.54,198.34 120.15,203.86 120.15,179.66 110.54,174.14" fill="#4746ea" stroke="rgba(0,0,0,0.55)" stroke-width="0.45" stroke-linejoin="round"/>
<polygon points="120.15,203.86 130.52,200.51 130.52,176.31 120.15,179.66" fill="#4746ea" stroke="rgba(0,0,0,0.55)" stroke-width="0.45" stroke-linejoin="round"/>
<polygon points="110.54,174.14 120.15,179.66 130.52,176.31 120.91,170.8" fill="#4746ea" stroke="rgba(0,0,0,0.55)" stroke-width="0.45" stroke-linejoin="round"/>
<polygon points="122.55,205.24 132.15,210.75 132.15,171.48 122.55,165.96" fill="#4746ea" stroke="rgba(0,0,0,0.55)" stroke-width="0.45" stroke-linejoin="round"/>
<polygon points="132.15,210.75 142.52,207.41 142.52,168.13 132.15,171.48" fill="#4746ea" stroke="rgba(0,0,0,0.55)" stroke-width="0.45" stroke-linejoin="round"/>
<polygon points="122.55,165.96 132.15,171.48 142.52,168.13 132.92,162.62" fill="#4746ea" stroke="rgba(0,0,0,0.55)" stroke-width="0.45" stroke-linejoin="round"/>
<polygon points="37.56,168.05 47.16,173.57 47.16,146.2 37.56,140.68" fill="#4525b2" stroke="rgba(0,0,0,0.55)" stroke-width="0.45" stroke-linejoin="round"/>
<polygon points="47.16,173.57 57.53,170.22 57.53,142.85 47.16,146.2" fill="#4525b2" stroke="rgba(0,0,0,0.55)" stroke-width="0.45" stroke-linejoin="round"/>
<polygon points="37.56,140.68 47.16,146.2 57.53,142.85 47.93,137.34" fill="#4525b2" stroke="rgba(0,0,0,0.55)" stroke-width="0.45" stroke-linejoin="round"/>
<polygon points="49.57,174.95 59.17,180.46 59.17,134.05 49.57,128.54" fill="#4525b2" stroke="rgba(0,0,0,0.55)" stroke-width="0.45" stroke-linejoin="round"/>
<polygon points="59.17,180.46 69.54,177.12 69.54,130.7 59.17,134.05" fill="#4525b2" stroke="rgba(0,0,0,0.55)" stroke-width="0.45" stroke-linejoin="round"/>
<polygon points="49.57,128.54 59.17,134.05 69.54,130.7 59.93,125.19" fill="#4525b2" stroke="rgba(0,0,0,0.55)" stroke-width="0.45" stroke-linejoin="round"/>
<polygon points="61.57,181.84 71.17,187.36 71.17,159.99 61.57,154.47" fill="#4525b2" stroke="rgba(0,0,0,0.55)" stroke-width="0.45" stroke-linejoin="round"/>
<polygon points="71.17,187.36 81.54,184.01 81.54,156.64 71.17,159.99" fill="#4525b2" stroke="rgba(0,0,0,0.55)" stroke-width="0.45" stroke-linejoin="round"/>
<polygon points="61.57,154.47 71.17,159.99 81.54,156.64 71.94,151.12" fill="#4525b2" stroke="rgba(0,0,0,0.55)" stroke-width="0.45" stroke-linejoin="round"/>
<polygon points="73.58,188.74 83.18,194.25 83.18,149.43 73.58,143.91" fill="#4525b2" stroke="rgba(0,0,0,0.55)" stroke-width="0.45" stroke-linejoin="round"/>
<polygon points="83.18,194.25 93.55,190.91 93.55,146.08 83.18,149.43" fill="#4525b2" stroke="rgba(0,0,0,0.55)" stroke-width="0.45" stroke-linejoin="round"/>
<polygon points="73.58,143.91 83.18,149.43 93.55,146.08 83.94,140.56" fill="#4525b2" stroke="rgba(0,0,0,0.55)" stroke-width="0.45" stroke-linejoin="round"/>
<polygon points="85.58,195.63 95.18,201.15 95.18,171 85.58,165.48" fill="#4525b2" stroke="rgba(0,0,0,0.55)" stroke-width="0.45" stroke-linejoin="round"/>
<polygon points="95.18,201.15 105.55,197.8 105.55,167.65 95.18,171" fill="#4525b2" stroke="rgba(0,0,0,0.55)" stroke-width="0.45" stroke-linejoin="round"/>
<polygon points="85.58,165.48 95.18,171 105.55,167.65 95.95,162.14" fill="#4525b2" stroke="rgba(0,0,0,0.55)" stroke-width="0.45" stroke-linejoin="round"/>
<polygon points="97.58,202.53 107.19,208.04 107.19,203.28 97.58,197.77" fill="#4525b2" stroke="rgba(0,0,0,0.55)" stroke-width="0.45" stroke-linejoin="round"/>
<polygon points="107.19,208.04 117.56,204.69 117.56,199.93 107.19,203.28" fill="#4525b2" stroke="rgba(0,0,0,0.55)" stroke-width="0.45" stroke-linejoin="round"/>
<polygon points="97.58,197.77 107.19,203.28 117.56,199.93 107.95,194.42" fill="#4525b2" stroke="rgba(0,0,0,0.55)" stroke-width="0.45" stroke-linejoin="round"/>
<polygon points="109.59,209.42 119.19,214.94 119.19,210.97 109.59,205.45" fill="#4525b2" stroke="rgba(0,0,0,0.55)" stroke-width="0.45" stroke-linejoin="round"/>
<polygon points="119.19,214.94 129.56,211.59 129.56,207.62 119.19,210.97" fill="#4525b2" stroke="rgba(0,0,0,0.55)" stroke-width="0.45" stroke-linejoin="round"/>
<polygon points="109.59,205.45 119.19,210.97 129.56,207.62 119.96,202.11" fill="#4525b2" stroke="rgba(0,0,0,0.55)" stroke-width="0.45" stroke-linejoin="round"/>
<text x="24.6" y="165.7" font-size="7.4" text-anchor="end" fill="#262626">46.5</text>
<text x="24.6" y="126.03" font-size="7.4" text-anchor="end" fill="#262626">47.5</text>
<text x="24.6" y="86.36" font-size="7.4" text-anchor="end" fill="#262626">48.5</text>
<text x="24.6" y="46.69" font-size="7.4" text-anchor="end" fill="#262626">49.5</text>
<text x="36.96" y="179.81" font-size="7.4" text-anchor="end" fill="#262626">0.001</text>
<text x="48.83" y="186.62" font-size="7.4" text-anchor="end" fill="#262626">0.01</text>
<text x="60.69" y="193.44" font-size="7.4" text-anchor="end" fill="#262626">0.1</text>
<text x="72.55" y="200.25" font-size="7.4" text-anchor="end" fill="#262626">1</text>
<text x="84.41" y="207.06" font-size="7.4" text-anchor="end" fill="#262626">10</text>
<text x="96.28" y="213.88" font-size="7.4" text-anchor="end" fill="#262626">100</text>
<text x="108.14" y="220.69" font-size="7.4" text-anchor="end" fill="#262626">1000</text>
<text x="139.38" y="226.13" font-size="7.4" text-anchor="middle" fill="#262626">8</text>
<text x="152.34" y="221.94" font-size="7.4" text-anchor="middle" fill="#262626">16</text>
<text x="165.3" y="217.76" font-size="7.4" text-anchor="middle" fill="#262626">24</text>
<text x="178.26" y="213.58" font-size="7.4" text-anchor="middle" fill="#262626">32</text>
<text x="191.22" y="209.39" font-size="7.4" text-anchor="middle" fill="#262626">40</text>
<text x="204.18" y="205.21" font-size="7.4" text-anchor="middle" fill="#262626">48</text>
<text x="217.14" y="201.02" font-size="7.4" text-anchor="middle" fill="#262626">56</text>
<text x="230.1" y="196.84" font-size="7.4" text-anchor="middle" fill="#262626">64</text>
<text x="243.06" y="192.66" font-size="7.4" text-anchor="middle" fill="#262626">72</text>
<text x="256.02" y="188.47" font-size="7.4" text-anchor="middle" fill="#262626">80</text>
<text x="7.6" y="105.2" font-size="7.4" text-anchor="middle" fill="#262626" transform="rotate(-90 7.6 105.2)">Accuracy rate</text>
<text x="193.6" y="227.6" font-size="7.4" text-anchor="middle" fill="#262626" transform="rotate(-1.5 193.6 227.6)">Demension</text>
<text x="72" y="223.5" font-size="7.4" text-anchor="middle" fill="#262626">α</text>
</g>
<g>
<line x1="315.1" y1="163.8" x2="442.1" y2="122.8" stroke="#ebebeb" stroke-width="0.5"/>
<line x1="442.1" y1="122.8" x2="537" y2="177.3" stroke="#ebebeb" stroke-width="0.5"/>
<line x1="315.1" y1="124.13" x2="442.1" y2="83.13" stroke="#ebebeb" stroke-width="0.5"/>
<line x1="442.1" y1="83.13" x2="537" y2="137.63" stroke="#ebebeb" stroke-width="0.5"/>
<line x1="315.1" y1="84.46" x2="442.1" y2="43.46" stroke="#ebebeb" stroke-width="0.5"/>
<line x1="442.1" y1="43.46" x2="537" y2="97.96" stroke="#ebebeb" stroke-width="0.5"/>
<line x1="315.1" y1="44.79" x2="442.1" y2="3.79" stroke="#ebebeb" stroke-width="0.5"/>
<line x1="442.1" y1="3.79" x2="537" y2="58.29" stroke="#ebebeb" stroke-width="0.5"/>
<line x1="320.28" y1="162.13" x2="320.28" y2="43.12" stroke="#ebebeb" stroke-width="0.5"/>
<line x1="333.24" y1="157.94" x2="333.24" y2="38.93" stroke="#ebebeb" stroke-width="0.5"/>
<line x1="346.2" y1="153.76" x2="346.2" y2="34.75" stroke="#ebebeb" stroke-width="0.5"/>
<line x1="359.16" y1="149.58" x2="359.16" y2="30.57" stroke="#ebebeb" stroke-width="0.5"/>
<line x1="372.12" y1="145.39" x2="372.12" y2="26.38" stroke="#ebebeb" stroke-width="0.5"/>
<line x1="385.08" y1="141.21" x2="385.08" y2="22.2" stroke="#ebebeb" stroke-width="0.5"/>
<line x1="398.04" y1="137.02" x2="398.04" y2="18.01" stroke="#ebebeb" stroke-width="0.5"/>
<line x1="411" y1="132.84" x2="411" y2="13.83" stroke="#ebebeb" stroke-width="0.5"/>
<line x1="423.96" y1="128.66" x2="423.96" y2="9.65" stroke="#ebebeb" stroke-width="0.5"/>
<line x1="436.92" y1="124.47" x2="436.92" y2="5.46" stroke="#ebebeb" stroke-width="0.5"/>
<line x1="453.96" y1="129.61" x2="453.96" y2="10.6" stroke="#ebebeb" stroke-width="0.5"/>
<line x1="465.83" y1="136.43" x2="465.83" y2="17.42" stroke="#ebebeb" stroke-width="0.5"/>
<line x1="477.69" y1="143.24" x2="477.69" y2="24.23" stroke="#ebebeb" stroke-width="0.5"/>
<line x1="489.55" y1="150.05" x2="489.55" y2="31.04" stroke="#ebebeb" stroke-width="0.5"/>
<line x1="501.41" y1="156.86" x2="501.41" y2="37.85" stroke="#ebebeb" stroke-width="0.5"/>
<line x1="513.28" y1="163.68" x2="513.28" y2="44.67" stroke="#ebebeb" stroke-width="0.5"/>
<line x1="525.14" y1="170.49" x2="525.14" y2="51.48" stroke="#ebebeb" stroke-width="0.5"/>
<line x1="320.28" y1="162.13" x2="415.18" y2="216.63" stroke="#ebebeb" stroke-width="0.5"/>
<line x1="333.24" y1="157.94" x2="428.14" y2="212.44" stroke="#ebebeb" stroke-width="0.5"/>
<line x1="346.2" y1="153.76" x2="441.1" y2="208.26" stroke="#ebebeb" stroke-width="0.5"/>
<line x1="359.16" y1="149.58" x2="454.06" y2="204.08" stroke="#ebebeb" stroke-width="0.5"/>
<line x1="372.12" y1="145.39" x2="467.02" y2="199.89" stroke="#ebebeb" stroke-width="0.5"/>
<line x1="385.08" y1="141.21" x2="479.98" y2="195.71" stroke="#ebebeb" stroke-width="0.5"/>
<line x1="398.04" y1="137.02" x2="492.94" y2="191.52" stroke="#ebebeb" stroke-width="0.5"/>
<line x1="411" y1="132.84" x2="505.9" y2="187.34" stroke="#ebebeb" stroke-width="0.5"/>
<line x1="423.96" y1="128.66" x2="518.86" y2="183.16" stroke="#ebebeb" stroke-width="0.5"/>
<line x1="436.92" y1="124.47" x2="531.82" y2="178.97" stroke="#ebebeb" stroke-width="0.5"/>
<line x1="326.96" y1="170.61" x2="453.96" y2="129.61" stroke="#ebebeb" stroke-width="0.5"/>
<line x1="338.83" y1="177.43" x2="465.83" y2="136.43" stroke="#ebebeb" stroke-width="0.5"/>
<line x1="350.69" y1="184.24" x2="477.69" y2="143.24" stroke="#ebebeb" stroke-width="0.5"/>
<line x1="362.55" y1="191.05" x2="489.55" y2="150.05" stroke="#ebebeb" stroke-width="0.5"/>
<line x1="374.41" y1="197.86" x2="501.41" y2="156.86" stroke="#ebebeb" stroke-width="0.5"/>
<line x1="386.28" y1="204.68" x2="513.28" y2="163.68" stroke="#ebebeb" stroke-width="0.5"/>
<line x1="398.14" y1="211.49" x2="525.14" y2="170.49" stroke="#ebebeb" stroke-width="0.5"/>
<line x1="315.1" y1="163.8" x2="315.1" y2="44.79" stroke="#6a6a6a" stroke-width="0.55"/>
<line x1="315.1" y1="163.8" x2="410" y2="218.3" stroke="#6a6a6a" stroke-width="0.55"/>
<line x1="410" y1="218.3" x2="537" y2="177.3" stroke="#6a6a6a" stroke-width="0.55"/>
<line x1="315.1" y1="163.8" x2="312.1" y2="163.8" stroke="#6a6a6a" stroke-width="0.55"/>
<line x1="315.1" y1="124.13" x2="312.1" y2="124.13" stroke="#6a6a6a" stroke-width="0.55"/>
<line x1="315.1" y1="84.46" x2="312.1" y2="84.46" stroke="#6a6a6a" stroke-width="0.55"/>
<line x1="315.1" y1="44.79" x2="312.1" y2="44.79" stroke="#6a6a6a" stroke-width="0.55"/>
<line x1="326.96" y1="170.61" x2="323.72" y2="171.66" stroke="#6a6a6a" stroke-width="0.55"/>
<line x1="338.83" y1="177.43" x2="335.59" y2="178.47" stroke="#6a6a6a" stroke-width="0.55"/>
<line x1="350.69" y1="184.24" x2="347.45" y2="185.28" stroke="#6a6a6a" stroke-width="0.55"/>
<line x1="362.55" y1="191.05" x2="359.31" y2="192.1" stroke="#6a6a6a" stroke-width="0.55"/>
<line x1="374.41" y1="197.86" x2="371.17" y2="198.91" stroke="#6a6a6a" stroke-width="0.55"/>
<line x1="386.28" y1="204.68" x2="383.04" y2="205.72" stroke="#6a6a6a" stroke-width="0.55"/>
<line x1="398.14" y1="211.49" x2="394.9" y2="212.53" stroke="#6a6a6a" stroke-width="0.55"/>
<line x1="415.18" y1="216.63" x2="418.15" y2="218.33" stroke="#6a6a6a" stroke-width="0.55"/>
<line x1="428.14" y1="212.44" x2="431.11" y2="214.15" stroke="#6a6a6a" stroke-width="0.55"/>
<line x1="441.1" y1="208.26" x2="444.07" y2="209.96" stroke="#6a6a6a" stroke-width="0.55"/>
<line x1="454.06" y1="204.08" x2="457.03" y2="205.78" stroke="#6a6a6a" stroke-width="0.55"/>
<line x1="467.02" y1="199.89" x2="469.99" y2="201.59" stroke="#6a6a6a" stroke-width="0.55"/>
<line x1="479.98" y1="195.71" x2="482.95" y2="197.41" stroke="#6a6a6a" stroke-width="0.55"/>
<line x1="492.94" y1="191.52" x2="495.9" y2="193.23" stroke="#6a6a6a" stroke-width="0.55"/>
<line x1="505.9" y1="187.34" x2="508.86" y2="189.04" stroke="#6a6a6a" stroke-width="0.55"/>
<line x1="518.86" y1="183.16" x2="521.82" y2="184.86" stroke="#6a6a6a" stroke-width="0.55"/>
<line x1="531.82" y1="178.97" x2="534.78" y2="180.68" stroke="#6a6a6a" stroke-width="0.55"/>
<polygon points="438.97,131.1 448.57,136.61 448.57,54.1 438.97,48.58" fill="#f6f417" stroke="rgba(0,0,0,0.55)" stroke-width="0.45" stroke-linejoin="round"/>
<polygon points="448.57,136.61 458.82,133.3 458.82,50.79 448.57,54.1" fill="#f6f417" stroke="rgba(0,0,0,0.55)" stroke-width="0.45" stroke-linejoin="round"/>
<polygon points="438.97,48.58 448.57,54.1 458.82,50.79 449.22,45.27" fill="#f6f417" stroke="rgba(0,0,0,0.55)" stroke-width="0.45" stroke-linejoin="round"/>
<polygon points="450.97,137.99 460.58,143.51 460.58,58.61 450.97,53.1" fill="#f6f417" stroke="rgba(0,0,0,0.55)" stroke-width="0.45" stroke-linejoin="round"/>
<polygon points="460.58,143.51 470.83,140.2 470.83,55.3 460.58,58.61" fill="#f6f417" stroke="rgba(0,0,0,0.55)" stroke-width="0.45" stroke-linejoin="round"/>
<polygon points="450.97,53.1 460.58,58.61 470.83,55.3 461.23,49.79" fill="#f6f417" stroke="rgba(0,0,0,0.55)" stroke-width="0.45" stroke-linejoin="round"/>
<polygon points="462.98,144.89 472.58,150.4 472.58,75.03 462.98,69.51" fill="#f6f417" stroke="rgba(0,0,0,0.55)" stroke-width="0.45" stroke-linejoin="round"/>
<polygon points="472.58,150.4 482.83,147.09 482.83,71.72 472.58,75.03" fill="#f6f417" stroke="rgba(0,0,0,0.55)" stroke-width="0.45" stroke-linejoin="round"/>
<polygon points="462.98,69.51 472.58,75.03 482.83,71.72 473.23,66.2" fill="#f6f417" stroke="rgba(0,0,0,0.55)" stroke-width="0.45" stroke-linejoin="round"/>
<polygon points="474.98,151.78 484.59,157.3 484.59,77.96 474.98,72.44" fill="#f6f417" stroke="rgba(0,0,0,0.55)" stroke-width="0.45" stroke-linejoin="round"/>
<polygon points="484.59,157.3 494.84,153.99 494.84,74.65 484.59,77.96" fill="#f6f417" stroke="rgba(0,0,0,0.55)" stroke-width="0.45" stroke-linejoin="round"/>
<polygon points="474.98,72.44 484.59,77.96 494.84,74.65 485.24,69.13" fill="#f6f417" stroke="rgba(0,0,0,0.55)" stroke-width="0.45" stroke-linejoin="round"/>
<polygon points="486.99,158.67 496.59,164.19 496.59,76.92 486.99,71.4" fill="#f6f417" stroke="rgba(0,0,0,0.55)" stroke-width="0.45" stroke-linejoin="round"/>
<polygon points="496.59,164.19 506.84,160.88 506.84,73.61 496.59,76.92" fill="#f6f417" stroke="rgba(0,0,0,0.55)" stroke-width="0.45" stroke-linejoin="round"/>
<polygon points="486.99,71.4 496.59,76.92 506.84,73.61 497.24,68.09" fill="#f6f417" stroke="rgba(0,0,0,0.55)" stroke-width="0.45" stroke-linejoin="round"/>
<polygon points="498.99,165.57 508.6,171.08 508.6,79.84 498.99,74.33" fill="#f6f417" stroke="rgba(0,0,0,0.55)" stroke-width="0.45" stroke-linejoin="round"/>
<polygon points="508.6,171.08 518.85,167.77 518.85,76.53 508.6,79.84" fill="#f6f417" stroke="rgba(0,0,0,0.55)" stroke-width="0.45" stroke-linejoin="round"/>
<polygon points="498.99,74.33 508.6,79.84 518.85,76.53 509.24,71.02" fill="#f6f417" stroke="rgba(0,0,0,0.55)" stroke-width="0.45" stroke-linejoin="round"/>
<polygon points="511,172.46 520.6,177.98 520.6,85.15 511,79.64" fill="#f6f417" stroke="rgba(0,0,0,0.55)" stroke-width="0.45" stroke-linejoin="round"/>
<polygon points="520.6,177.98 530.85,174.67 530.85,81.84 520.6,85.15" fill="#f6f417" stroke="rgba(0,0,0,0.55)" stroke-width="0.45" stroke-linejoin="round"/>
<polygon points="511,79.64 520.6,85.15 530.85,81.84 521.25,76.33" fill="#f6f417" stroke="rgba(0,0,0,0.55)" stroke-width="0.45" stroke-linejoin="round"/>
<polygon points="426.15,135.24 435.75,140.75 435.75,61.41 426.15,55.9" fill="#fdc628" stroke="rgba(0,0,0,0.55)" stroke-width="0.45" stroke-linejoin="round"/>
<polygon points="435.75,140.75 446.01,137.44 446.01,58.1 435.75,61.41" fill="#fdc628" stroke="rgba(0,0,0,0.55)" stroke-width="0.45" stroke-linejoin="round"/>
<polygon points="426.15,55.9 435.75,61.41 446.01,58.1 436.4,52.59" fill="#fdc628" stroke="rgba(0,0,0,0.55)" stroke-width="0.45" stroke-linejoin="round"/>
<polygon points="438.16,142.13 447.76,147.64 447.76,68.7 438.16,63.19" fill="#fdc628" stroke="rgba(0,0,0,0.55)" stroke-width="0.45" stroke-linejoin="round"/>
<polygon points="447.76,147.64 458.01,144.33 458.01,65.39 447.76,68.7" fill="#fdc628" stroke="rgba(0,0,0,0.55)" stroke-width="0.45" stroke-linejoin="round"/>
<polygon points="438.16,63.19 447.76,68.7 458.01,65.39 448.41,59.88" fill="#fdc628" stroke="rgba(0,0,0,0.55)" stroke-width="0.45" stroke-linejoin="round"/>
<polygon points="450.16,149.02 459.76,154.54 459.76,67.27 450.16,61.75" fill="#fdc628" stroke="rgba(0,0,0,0.55)" stroke-width="0.45" stroke-linejoin="round"/>
<polygon points="459.76,154.54 470.02,151.23 470.02,63.95 459.76,67.27" fill="#fdc628" stroke="rgba(0,0,0,0.55)" stroke-width="0.45" stroke-linejoin="round"/>
<polygon points="450.16,61.75 459.76,67.27 470.02,63.95 460.41,58.44" fill="#fdc628" stroke="rgba(0,0,0,0.55)" stroke-width="0.45" stroke-linejoin="round"/>
<polygon points="462.17,155.92 471.77,161.43 471.77,74.16 462.17,68.64" fill="#fdc628" stroke="rgba(0,0,0,0.55)" stroke-width="0.45" stroke-linejoin="round"/>
<polygon points="471.77,161.43 482.02,158.12 482.02,70.85 471.77,74.16" fill="#fdc628" stroke="rgba(0,0,0,0.55)" stroke-width="0.45" stroke-linejoin="round"/>
<polygon points="462.17,68.64 471.77,74.16 482.02,70.85 472.42,65.33" fill="#fdc628" stroke="rgba(0,0,0,0.55)" stroke-width="0.45" stroke-linejoin="round"/>
<polygon points="474.17,162.81 483.77,168.33 483.77,77.09 474.17,71.57" fill="#fdc628" stroke="rgba(0,0,0,0.55)" stroke-width="0.45" stroke-linejoin="round"/>
<polygon points="483.77,168.33 494.03,165.02 494.03,73.78 483.77,77.09" fill="#fdc628" stroke="rgba(0,0,0,0.55)" stroke-width="0.45" stroke-linejoin="round"/>
<polygon points="474.17,71.57 483.77,77.09 494.03,73.78 484.42,68.26" fill="#fdc628" stroke="rgba(0,0,0,0.55)" stroke-width="0.45" stroke-linejoin="round"/>
<polygon points="486.17,169.71 495.78,175.22 495.78,80.01 486.17,74.5" fill="#fdc628" stroke="rgba(0,0,0,0.55)" stroke-width="0.45" stroke-linejoin="round"/>
<polygon points="495.78,175.22 506.03,171.91 506.03,76.7 495.78,80.01" fill="#fdc628" stroke="rgba(0,0,0,0.55)" stroke-width="0.45" stroke-linejoin="round"/>
<polygon points="486.17,74.5 495.78,80.01 506.03,76.7 496.43,71.19" fill="#fdc628" stroke="rgba(0,0,0,0.55)" stroke-width="0.45" stroke-linejoin="round"/>
<polygon points="498.18,176.6 507.78,182.12 507.78,75.8 498.18,70.29" fill="#fdc628" stroke="rgba(0,0,0,0.55)" stroke-width="0.45" stroke-linejoin="round"/>
<polygon points="507.78,182.12 518.04,178.81 518.04,72.49 507.78,75.8" fill="#fdc628" stroke="rgba(0,0,0,0.55)" stroke-width="0.45" stroke-linejoin="round"/>
<polygon points="498.18,70.29 507.78,75.8 518.04,72.49 508.43,66.97" fill="#fdc628" stroke="rgba(0,0,0,0.55)" stroke-width="0.45" stroke-linejoin="round"/>
<polygon points="413.33,139.37 422.94,144.89 422.94,65.55 413.33,60.03" fill="#e6af1c" stroke="rgba(0,0,0,0.55)" stroke-width="0.45" stroke-linejoin="round"/>
<polygon points="422.94,144.89 433.19,141.58 433.19,62.24 422.94,65.55" fill="#e6af1c" stroke="rgba(0,0,0,0.55)" stroke-width="0.45" stroke-linejoin="round"/>
<polygon points="413.33,60.03 422.94,65.55 433.19,62.24 423.59,56.72" fill="#e6af1c" stroke="rgba(0,0,0,0.55)" stroke-width="0.45" stroke-linejoin="round"/>
<polygon points="425.34,146.27 434.94,151.78 434.94,66.89 425.34,61.37" fill="#e6af1c" stroke="rgba(0,0,0,0.55)" stroke-width="0.45" stroke-linejoin="round"/>
<polygon points="434.94,151.78 445.2,148.47 445.2,63.58 434.94,66.89" fill="#e6af1c" stroke="rgba(0,0,0,0.55)" stroke-width="0.45" stroke-linejoin="round"/>
<polygon points="425.34,61.37 434.94,66.89 445.2,63.58 435.59,58.06" fill="#e6af1c" stroke="rgba(0,0,0,0.55)" stroke-width="0.45" stroke-linejoin="round"/>
<polygon points="437.34,153.16 446.95,158.68 446.95,84.1 437.34,78.58" fill="#e6af1c" stroke="rgba(0,0,0,0.55)" stroke-width="0.45" stroke-linejoin="round"/>
<polygon points="446.95,158.68 457.2,155.37 457.2,80.79 446.95,84.1" fill="#e6af1c" stroke="rgba(0,0,0,0.55)" stroke-width="0.45" stroke-linejoin="round"/>
<polygon points="437.34,78.58 446.95,84.1 457.2,80.79 447.6,75.27" fill="#e6af1c" stroke="rgba(0,0,0,0.55)" stroke-width="0.45" stroke-linejoin="round"/>
<polygon points="449.35,160.06 458.95,165.57 458.95,82.26 449.35,76.75" fill="#e6af1c" stroke="rgba(0,0,0,0.55)" stroke-width="0.45" stroke-linejoin="round"/>
<polygon points="458.95,165.57 469.21,162.26 469.21,78.95 458.95,82.26" fill="#e6af1c" stroke="rgba(0,0,0,0.55)" stroke-width="0.45" stroke-linejoin="round"/>
<polygon points="449.35,76.75 458.95,82.26 469.21,78.95 459.6,73.44" fill="#e6af1c" stroke="rgba(0,0,0,0.55)" stroke-width="0.45" stroke-linejoin="round"/>
<polygon points="461.35,166.95 470.96,172.47 470.96,85.19 461.35,79.68" fill="#e6af1c" stroke="rgba(0,0,0,0.55)" stroke-width="0.45" stroke-linejoin="round"/>
<polygon points="470.96,172.47 481.21,169.16 481.21,81.88 470.96,85.19" fill="#e6af1c" stroke="rgba(0,0,0,0.55)" stroke-width="0.45" stroke-linejoin="round"/>
<polygon points="461.35,79.68 470.96,85.19 481.21,81.88 471.61,76.37" fill="#e6af1c" stroke="rgba(0,0,0,0.55)" stroke-width="0.45" stroke-linejoin="round"/>
<polygon points="473.36,173.84 482.96,179.36 482.96,88.12 473.36,82.6" fill="#e6af1c" stroke="rgba(0,0,0,0.55)" stroke-width="0.45" stroke-linejoin="round"/>
<polygon points="482.96,179.36 493.22,176.05 493.22,84.81 482.96,88.12" fill="#e6af1c" stroke="rgba(0,0,0,0.55)" stroke-width="0.45" stroke-linejoin="round"/>
<polygon points="473.36,82.6 482.96,88.12 493.22,84.81 483.61,79.29" fill="#e6af1c" stroke="rgba(0,0,0,0.55)" stroke-width="0.45" stroke-linejoin="round"/>
<polygon points="485.36,180.74 494.97,186.25 494.97,88.67 485.36,83.15" fill="#e6af1c" stroke="rgba(0,0,0,0.55)" stroke-width="0.45" stroke-linejoin="round"/>
<polygon points="494.97,186.25 505.22,182.94 505.22,85.36 494.97,88.67" fill="#e6af1c" stroke="rgba(0,0,0,0.55)" stroke-width="0.45" stroke-linejoin="round"/>
<polygon points="485.36,83.15 494.97,88.67 505.22,85.36 495.62,79.84" fill="#e6af1c" stroke="rgba(0,0,0,0.55)" stroke-width="0.45" stroke-linejoin="round"/>
<polygon points="400.52,143.51 410.12,149.03 410.12,91.5 400.52,85.99" fill="#55c350" stroke="rgba(0,0,0,0.55)" stroke-width="0.45" stroke-linejoin="round"/>
<polygon points="410.12,149.03 420.37,145.72 420.37,88.19 410.12,91.5" fill="#55c350" stroke="rgba(0,0,0,0.55)" stroke-width="0.45" stroke-linejoin="round"/>
<polygon points="400.52,85.99 410.12,91.5 420.37,88.19 410.77,82.68" fill="#55c350" stroke="rgba(0,0,0,0.55)" stroke-width="0.45" stroke-linejoin="round"/>
<polygon points="412.52,150.4 422.13,155.92 422.13,69.84 412.52,64.32" fill="#55c350" stroke="rgba(0,0,0,0.55)" stroke-width="0.45" stroke-linejoin="round"/>
<polygon points="422.13,155.92 432.38,152.61 432.38,66.53 422.13,69.84" fill="#55c350" stroke="rgba(0,0,0,0.55)" stroke-width="0.45" stroke-linejoin="round"/>
<polygon points="412.52,64.32 422.13,69.84 432.38,66.53 422.78,61.01" fill="#55c350" stroke="rgba(0,0,0,0.55)" stroke-width="0.45" stroke-linejoin="round"/>
<polygon points="424.53,157.3 434.13,162.81 434.13,87.44 424.53,81.93" fill="#55c350" stroke="rgba(0,0,0,0.55)" stroke-width="0.45" stroke-linejoin="round"/>
<polygon points="434.13,162.81 444.38,159.5 444.38,84.13 434.13,87.44" fill="#55c350" stroke="rgba(0,0,0,0.55)" stroke-width="0.45" stroke-linejoin="round"/>
<polygon points="424.53,81.93 434.13,87.44 444.38,84.13 434.78,78.62" fill="#55c350" stroke="rgba(0,0,0,0.55)" stroke-width="0.45" stroke-linejoin="round"/>
<polygon points="436.53,164.19 446.14,169.71 446.14,90.37 436.53,84.85" fill="#55c350" stroke="rgba(0,0,0,0.55)" stroke-width="0.45" stroke-linejoin="round"/>
<polygon points="446.14,169.71 456.39,166.4 456.39,87.06 446.14,90.37" fill="#55c350" stroke="rgba(0,0,0,0.55)" stroke-width="0.45" stroke-linejoin="round"/>
<polygon points="436.53,84.85 446.14,90.37 456.39,87.06 446.79,81.54" fill="#55c350" stroke="rgba(0,0,0,0.55)" stroke-width="0.45" stroke-linejoin="round"/>
<polygon points="448.54,171.09 458.14,176.6 458.14,77.43 448.54,71.91" fill="#55c350" stroke="rgba(0,0,0,0.55)" stroke-width="0.45" stroke-linejoin="round"/>
<polygon points="458.14,176.6 468.39,173.29 468.39,74.12 458.14,77.43" fill="#55c350" stroke="rgba(0,0,0,0.55)" stroke-width="0.45" stroke-linejoin="round"/>
<polygon points="448.54,71.91 458.14,77.43 468.39,74.12 458.79,68.6" fill="#55c350" stroke="rgba(0,0,0,0.55)" stroke-width="0.45" stroke-linejoin="round"/>
<polygon points="460.54,177.98 470.15,183.5 470.15,100.19 460.54,94.67" fill="#55c350" stroke="rgba(0,0,0,0.55)" stroke-width="0.45" stroke-linejoin="round"/>
<polygon points="470.15,183.5 480.4,180.19 480.4,96.88 470.15,100.19" fill="#55c350" stroke="rgba(0,0,0,0.55)" stroke-width="0.45" stroke-linejoin="round"/>
<polygon points="460.54,94.67 470.15,100.19 480.4,96.88 470.79,91.36" fill="#55c350" stroke="rgba(0,0,0,0.55)" stroke-width="0.45" stroke-linejoin="round"/>
<polygon points="472.55,184.88 482.15,190.39 482.15,94.79 472.55,89.27" fill="#55c350" stroke="rgba(0,0,0,0.55)" stroke-width="0.45" stroke-linejoin="round"/>
<polygon points="482.15,190.39 492.4,187.08 492.4,91.48 482.15,94.79" fill="#55c350" stroke="rgba(0,0,0,0.55)" stroke-width="0.45" stroke-linejoin="round"/>
<polygon points="472.55,89.27 482.15,94.79 492.4,91.48 482.8,85.96" fill="#55c350" stroke="rgba(0,0,0,0.55)" stroke-width="0.45" stroke-linejoin="round"/>
<polygon points="387.7,147.65 397.3,153.16 397.3,93.66 387.7,88.14" fill="#22bf9e" stroke="rgba(0,0,0,0.55)" stroke-width="0.45" stroke-linejoin="round"/>
<polygon points="397.3,153.16 407.56,149.85 407.56,90.35 397.3,93.66" fill="#22bf9e" stroke="rgba(0,0,0,0.55)" stroke-width="0.45" stroke-linejoin="round"/>
<polygon points="387.7,88.14 397.3,93.66 407.56,90.35 397.95,84.83" fill="#22bf9e" stroke="rgba(0,0,0,0.55)" stroke-width="0.45" stroke-linejoin="round"/>
<polygon points="399.71,154.54 409.31,160.06 409.31,89.05 399.71,83.53" fill="#22bf9e" stroke="rgba(0,0,0,0.55)" stroke-width="0.45" stroke-linejoin="round"/>
<polygon points="409.31,160.06 419.56,156.75 419.56,85.74 409.31,89.05" fill="#22bf9e" stroke="rgba(0,0,0,0.55)" stroke-width="0.45" stroke-linejoin="round"/>
<polygon points="399.71,83.53 409.31,89.05 419.56,85.74 409.96,80.22" fill="#22bf9e" stroke="rgba(0,0,0,0.55)" stroke-width="0.45" stroke-linejoin="round"/>
<polygon points="411.71,161.44 421.31,166.95 421.31,97.53 411.71,92.01" fill="#22bf9e" stroke="rgba(0,0,0,0.55)" stroke-width="0.45" stroke-linejoin="round"/>
<polygon points="421.31,166.95 431.57,163.64 431.57,94.22 421.31,97.53" fill="#22bf9e" stroke="rgba(0,0,0,0.55)" stroke-width="0.45" stroke-linejoin="round"/>
<polygon points="411.71,92.01 421.31,97.53 431.57,94.22 421.96,88.7" fill="#22bf9e" stroke="rgba(0,0,0,0.55)" stroke-width="0.45" stroke-linejoin="round"/>
<polygon points="423.72,168.33 433.32,173.85 433.32,98.47 423.72,92.96" fill="#22bf9e" stroke="rgba(0,0,0,0.55)" stroke-width="0.45" stroke-linejoin="round"/>
<polygon points="433.32,173.85 443.57,170.54 443.57,95.16 433.32,98.47" fill="#22bf9e" stroke="rgba(0,0,0,0.55)" stroke-width="0.45" stroke-linejoin="round"/>
<polygon points="423.72,92.96 433.32,98.47 443.57,95.16 433.97,89.65" fill="#22bf9e" stroke="rgba(0,0,0,0.55)" stroke-width="0.45" stroke-linejoin="round"/>
<polygon points="435.72,175.23 445.32,180.74 445.32,109.33 435.72,103.82" fill="#22bf9e" stroke="rgba(0,0,0,0.55)" stroke-width="0.45" stroke-linejoin="round"/>
<polygon points="445.32,180.74 455.58,177.43 455.58,106.02 445.32,109.33" fill="#22bf9e" stroke="rgba(0,0,0,0.55)" stroke-width="0.45" stroke-linejoin="round"/>
<polygon points="435.72,103.82 445.32,109.33 455.58,106.02 445.97,100.51" fill="#22bf9e" stroke="rgba(0,0,0,0.55)" stroke-width="0.45" stroke-linejoin="round"/>
<polygon points="447.72,182.12 457.33,187.63 457.33,100.36 447.72,94.85" fill="#22bf9e" stroke="rgba(0,0,0,0.55)" stroke-width="0.45" stroke-linejoin="round"/>
<polygon points="457.33,187.63 467.58,184.32 467.58,97.05 457.33,100.36" fill="#22bf9e" stroke="rgba(0,0,0,0.55)" stroke-width="0.45" stroke-linejoin="round"/>
<polygon points="447.72,94.85 457.33,100.36 467.58,97.05 457.98,91.54" fill="#22bf9e" stroke="rgba(0,0,0,0.55)" stroke-width="0.45" stroke-linejoin="round"/>
<polygon points="459.73,189.01 469.33,194.53 469.33,113.21 459.73,107.69" fill="#22bf9e" stroke="rgba(0,0,0,0.55)" stroke-width="0.45" stroke-linejoin="round"/>
<polygon points="469.33,194.53 479.59,191.22 479.59,109.9 469.33,113.21" fill="#22bf9e" stroke="rgba(0,0,0,0.55)" stroke-width="0.45" stroke-linejoin="round"/>
<polygon points="459.73,107.69 469.33,113.21 479.59,109.9 469.98,104.38" fill="#22bf9e" stroke="rgba(0,0,0,0.55)" stroke-width="0.45" stroke-linejoin="round"/>
<polygon points="374.88,151.79 384.49,157.3 384.49,99.38 374.88,93.87" fill="#0bb0d4" stroke="rgba(0,0,0,0.55)" stroke-width="0.45" stroke-linejoin="round"/>
<polygon points="384.49,157.3 394.74,153.99 394.74,96.07 384.49,99.38" fill="#0bb0d4" stroke="rgba(0,0,0,0.55)" stroke-width="0.45" stroke-linejoin="round"/>
<polygon points="374.88,93.87 384.49,99.38 394.74,96.07 385.14,90.56" fill="#0bb0d4" stroke="rgba(0,0,0,0.55)" stroke-width="0.45" stroke-linejoin="round"/>
<polygon points="386.89,158.68 396.49,164.2 396.49,93.58 386.89,88.07" fill="#0bb0d4" stroke="rgba(0,0,0,0.55)" stroke-width="0.45" stroke-linejoin="round"/>
<polygon points="396.49,164.2 406.75,160.89 406.75,90.27 396.49,93.58" fill="#0bb0d4" stroke="rgba(0,0,0,0.55)" stroke-width="0.45" stroke-linejoin="round"/>
<polygon points="386.89,88.07 396.49,93.58 406.75,90.27 397.14,84.76" fill="#0bb0d4" stroke="rgba(0,0,0,0.55)" stroke-width="0.45" stroke-linejoin="round"/>
<polygon points="398.89,165.57 408.5,171.09 408.5,104.44 398.89,98.93" fill="#0bb0d4" stroke="rgba(0,0,0,0.55)" stroke-width="0.45" stroke-linejoin="round"/>
<polygon points="408.5,171.09 418.75,167.78 418.75,101.13 408.5,104.44" fill="#0bb0d4" stroke="rgba(0,0,0,0.55)" stroke-width="0.45" stroke-linejoin="round"/>
<polygon points="398.89,98.93 408.5,104.44 418.75,101.13 409.15,95.62" fill="#0bb0d4" stroke="rgba(0,0,0,0.55)" stroke-width="0.45" stroke-linejoin="round"/>
<polygon points="410.9,172.47 420.5,177.98 420.5,106.58 410.9,101.06" fill="#0bb0d4" stroke="rgba(0,0,0,0.55)" stroke-width="0.45" stroke-linejoin="round"/>
<polygon points="420.5,177.98 430.76,174.67 430.76,103.27 420.5,106.58" fill="#0bb0d4" stroke="rgba(0,0,0,0.55)" stroke-width="0.45" stroke-linejoin="round"/>
<polygon points="410.9,101.06 420.5,106.58 430.76,103.27 421.15,97.75" fill="#0bb0d4" stroke="rgba(0,0,0,0.55)" stroke-width="0.45" stroke-linejoin="round"/>
<polygon points="422.9,179.36 432.51,184.88 432.51,90.07 422.9,84.55" fill="#0bb0d4" stroke="rgba(0,0,0,0.55)" stroke-width="0.45" stroke-linejoin="round"/>
<polygon points="432.51,184.88 442.76,181.57 442.76,86.76 432.51,90.07" fill="#0bb0d4" stroke="rgba(0,0,0,0.55)" stroke-width="0.45" stroke-linejoin="round"/>
<polygon points="422.9,84.55 432.51,90.07 442.76,86.76 433.16,81.24" fill="#0bb0d4" stroke="rgba(0,0,0,0.55)" stroke-width="0.45" stroke-linejoin="round"/>
<polygon points="434.91,186.26 444.51,191.77 444.51,120.76 434.91,115.25" fill="#0bb0d4" stroke="rgba(0,0,0,0.55)" stroke-width="0.45" stroke-linejoin="round"/>
<polygon points="444.51,191.77 454.77,188.46 454.77,117.45 444.51,120.76" fill="#0bb0d4" stroke="rgba(0,0,0,0.55)" stroke-width="0.45" stroke-linejoin="round"/>
<polygon points="434.91,115.25 444.51,120.76 454.77,117.45 445.16,111.94" fill="#0bb0d4" stroke="rgba(0,0,0,0.55)" stroke-width="0.45" stroke-linejoin="round"/>
<polygon points="446.91,193.15 456.52,198.67 456.52,116.55 446.91,111.03" fill="#0bb0d4" stroke="rgba(0,0,0,0.55)" stroke-width="0.45" stroke-linejoin="round"/>
<polygon points="456.52,198.67 466.77,195.36 466.77,113.24 456.52,116.55" fill="#0bb0d4" stroke="rgba(0,0,0,0.55)" stroke-width="0.45" stroke-linejoin="round"/>
<polygon points="446.91,111.03 456.52,116.55 466.77,113.24 457.17,107.72" fill="#0bb0d4" stroke="rgba(0,0,0,0.55)" stroke-width="0.45" stroke-linejoin="round"/>
<polygon points="362.07,155.92 371.67,161.44 371.67,107.09 362.07,101.58" fill="#1e93e4" stroke="rgba(0,0,0,0.55)" stroke-width="0.45" stroke-linejoin="round"/>
<polygon points="371.67,161.44 381.92,158.13 381.92,103.78 371.67,107.09" fill="#1e93e4" stroke="rgba(0,0,0,0.55)" stroke-width="0.45" stroke-linejoin="round"/>
<polygon points="362.07,101.58 371.67,107.09 381.92,103.78 372.32,98.27" fill="#1e93e4" stroke="rgba(0,0,0,0.55)" stroke-width="0.45" stroke-linejoin="round"/>
<polygon points="374.07,162.82 383.68,168.33 383.68,99.31 374.07,93.79" fill="#1e93e4" stroke="rgba(0,0,0,0.55)" stroke-width="0.45" stroke-linejoin="round"/>
<polygon points="383.68,168.33 393.93,165.02 393.93,96 383.68,99.31" fill="#1e93e4" stroke="rgba(0,0,0,0.55)" stroke-width="0.45" stroke-linejoin="round"/>
<polygon points="374.07,93.79 383.68,99.31 393.93,96 384.33,90.48" fill="#1e93e4" stroke="rgba(0,0,0,0.55)" stroke-width="0.45" stroke-linejoin="round"/>
<polygon points="386.08,169.71 395.68,175.23 395.68,115.72 386.08,110.21" fill="#1e93e4" stroke="rgba(0,0,0,0.55)" stroke-width="0.45" stroke-linejoin="round"/>
<polygon points="395.68,175.23 405.93,171.92 405.93,112.41 395.68,115.72" fill="#1e93e4" stroke="rgba(0,0,0,0.55)" stroke-width="0.45" stroke-linejoin="round"/>
<polygon points="386.08,110.21 395.68,115.72 405.93,112.41 396.33,106.9" fill="#1e93e4" stroke="rgba(0,0,0,0.55)" stroke-width="0.45" stroke-linejoin="round"/>
<polygon points="398.08,176.61 407.69,182.12 407.69,124.2 398.08,118.69" fill="#1e93e4" stroke="rgba(0,0,0,0.55)" stroke-width="0.45" stroke-linejoin="round"/>
<polygon points="407.69,182.12 417.94,178.81 417.94,120.89 407.69,124.2" fill="#1e93e4" stroke="rgba(0,0,0,0.55)" stroke-width="0.45" stroke-linejoin="round"/>
<polygon points="398.08,118.69 407.69,124.2 417.94,120.89 408.34,115.38" fill="#1e93e4" stroke="rgba(0,0,0,0.55)" stroke-width="0.45" stroke-linejoin="round"/>
<polygon points="410.09,183.5 419.69,189.02 419.69,108.88 410.09,103.37" fill="#1e93e4" stroke="rgba(0,0,0,0.55)" stroke-width="0.45" stroke-linejoin="round"/>
<polygon points="419.69,189.02 429.94,185.71 429.94,105.57 419.69,108.88" fill="#1e93e4" stroke="rgba(0,0,0,0.55)" stroke-width="0.45" stroke-linejoin="round"/>
<polygon points="410.09,103.37 419.69,108.88 429.94,105.57 420.34,100.06" fill="#1e93e4" stroke="rgba(0,0,0,0.55)" stroke-width="0.45" stroke-linejoin="round"/>
<polygon points="422.09,190.39 431.7,195.91 431.7,132.44 422.09,126.92" fill="#1e93e4" stroke="rgba(0,0,0,0.55)" stroke-width="0.45" stroke-linejoin="round"/>
<polygon points="431.7,195.91 441.95,192.6 441.95,129.13 431.7,132.44" fill="#1e93e4" stroke="rgba(0,0,0,0.55)" stroke-width="0.45" stroke-linejoin="round"/>
<polygon points="422.09,126.92 431.7,132.44 441.95,129.13 432.35,123.61" fill="#1e93e4" stroke="rgba(0,0,0,0.55)" stroke-width="0.45" stroke-linejoin="round"/>
<polygon points="434.1,197.29 443.7,202.8 443.7,135.37 434.1,129.85" fill="#1e93e4" stroke="rgba(0,0,0,0.55)" stroke-width="0.45" stroke-linejoin="round"/>
<polygon points="443.7,202.8 453.95,199.49 453.95,132.06 443.7,135.37" fill="#1e93e4" stroke="rgba(0,0,0,0.55)" stroke-width="0.45" stroke-linejoin="round"/>
<polygon points="434.1,129.85 443.7,135.37 453.95,132.06 444.35,126.54" fill="#1e93e4" stroke="rgba(0,0,0,0.55)" stroke-width="0.45" stroke-linejoin="round"/>
<polygon points="349.25,160.06 358.85,165.58 358.85,114.01 349.25,108.49" fill="#2168f3" stroke="rgba(0,0,0,0.55)" stroke-width="0.45" stroke-linejoin="round"/>
<polygon points="358.85,165.58 369.11,162.27 369.11,110.7 358.85,114.01" fill="#2168f3" stroke="rgba(0,0,0,0.55)" stroke-width="0.45" stroke-linejoin="round"/>
<polygon points="349.25,108.49 358.85,114.01 369.11,110.7 359.5,105.18" fill="#2168f3" stroke="rgba(0,0,0,0.55)" stroke-width="0.45" stroke-linejoin="round"/>
<polygon points="361.26,166.96 370.86,172.47 370.86,108.21 361.26,102.69" fill="#2168f3" stroke="rgba(0,0,0,0.55)" stroke-width="0.45" stroke-linejoin="round"/>
<polygon points="370.86,172.47 381.11,169.16 381.11,104.9 370.86,108.21" fill="#2168f3" stroke="rgba(0,0,0,0.55)" stroke-width="0.45" stroke-linejoin="round"/>
<polygon points="361.26,102.69 370.86,108.21 381.11,104.9 371.51,99.38" fill="#2168f3" stroke="rgba(0,0,0,0.55)" stroke-width="0.45" stroke-linejoin="round"/>
<polygon points="373.26,173.85 382.86,179.36 382.86,123.83 373.26,118.31" fill="#2168f3" stroke="rgba(0,0,0,0.55)" stroke-width="0.45" stroke-linejoin="round"/>
<polygon points="382.86,179.36 393.12,176.05 393.12,120.52 382.86,123.83" fill="#2168f3" stroke="rgba(0,0,0,0.55)" stroke-width="0.45" stroke-linejoin="round"/>
<polygon points="373.26,118.31 382.86,123.83 393.12,120.52 383.51,115" fill="#2168f3" stroke="rgba(0,0,0,0.55)" stroke-width="0.45" stroke-linejoin="round"/>
<polygon points="385.27,180.74 394.87,186.26 394.87,126.75 385.27,121.24" fill="#2168f3" stroke="rgba(0,0,0,0.55)" stroke-width="0.45" stroke-linejoin="round"/>
<polygon points="394.87,186.26 405.12,182.95 405.12,123.44 394.87,126.75" fill="#2168f3" stroke="rgba(0,0,0,0.55)" stroke-width="0.45" stroke-linejoin="round"/>
<polygon points="385.27,121.24 394.87,126.75 405.12,123.44 395.52,117.93" fill="#2168f3" stroke="rgba(0,0,0,0.55)" stroke-width="0.45" stroke-linejoin="round"/>
<polygon points="397.27,187.64 406.87,193.15 406.87,133.65 397.27,128.13" fill="#2168f3" stroke="rgba(0,0,0,0.55)" stroke-width="0.45" stroke-linejoin="round"/>
<polygon points="406.87,193.15 417.13,189.84 417.13,130.34 406.87,133.65" fill="#2168f3" stroke="rgba(0,0,0,0.55)" stroke-width="0.45" stroke-linejoin="round"/>
<polygon points="397.27,128.13 406.87,133.65 417.13,130.34 407.52,124.82" fill="#2168f3" stroke="rgba(0,0,0,0.55)" stroke-width="0.45" stroke-linejoin="round"/>
<polygon points="409.28,194.53 418.88,200.05 418.88,136.58 409.28,131.06" fill="#2168f3" stroke="rgba(0,0,0,0.55)" stroke-width="0.45" stroke-linejoin="round"/>
<polygon points="418.88,200.05 429.13,196.74 429.13,133.27 418.88,136.58" fill="#2168f3" stroke="rgba(0,0,0,0.55)" stroke-width="0.45" stroke-linejoin="round"/>
<polygon points="409.28,131.06 418.88,136.58 429.13,133.27 419.53,127.75" fill="#2168f3" stroke="rgba(0,0,0,0.55)" stroke-width="0.45" stroke-linejoin="round"/>
<polygon points="421.28,201.43 430.88,206.94 430.88,129.59 421.28,124.07" fill="#2168f3" stroke="rgba(0,0,0,0.55)" stroke-width="0.45" stroke-linejoin="round"/>
<polygon points="430.88,206.94 441.14,203.63 441.14,126.28 430.88,129.59" fill="#2168f3" stroke="rgba(0,0,0,0.55)" stroke-width="0.45" stroke-linejoin="round"/>
<polygon points="421.28,124.07 430.88,129.59 441.14,126.28 431.53,120.76" fill="#2168f3" stroke="rgba(0,0,0,0.55)" stroke-width="0.45" stroke-linejoin="round"/>
<polygon points="336.43,164.2 346.04,169.71 346.04,127.27 336.43,121.75" fill="#4746ea" stroke="rgba(0,0,0,0.55)" stroke-width="0.45" stroke-linejoin="round"/>
<polygon points="346.04,169.71 356.29,166.4 356.29,123.96 346.04,127.27" fill="#4746ea" stroke="rgba(0,0,0,0.55)" stroke-width="0.45" stroke-linejoin="round"/>
<polygon points="336.43,121.75 346.04,127.27 356.29,123.96 346.69,118.44" fill="#4746ea" stroke="rgba(0,0,0,0.55)" stroke-width="0.45" stroke-linejoin="round"/>
<polygon points="348.44,171.09 358.04,176.61 358.04,136.94 348.44,131.42" fill="#4746ea" stroke="rgba(0,0,0,0.55)" stroke-width="0.45" stroke-linejoin="round"/>
<polygon points="358.04,176.61 368.3,173.3 368.3,133.63 358.04,136.94" fill="#4746ea" stroke="rgba(0,0,0,0.55)" stroke-width="0.45" stroke-linejoin="round"/>
<polygon points="348.44,131.42 358.04,136.94 368.3,133.63 358.69,128.11" fill="#4746ea" stroke="rgba(0,0,0,0.55)" stroke-width="0.45" stroke-linejoin="round"/>
<polygon points="360.44,177.99 370.05,183.5 370.05,132.33 360.44,126.81" fill="#4746ea" stroke="rgba(0,0,0,0.55)" stroke-width="0.45" stroke-linejoin="round"/>
<polygon points="370.05,183.5 380.3,180.19 380.3,129.02 370.05,132.33" fill="#4746ea" stroke="rgba(0,0,0,0.55)" stroke-width="0.45" stroke-linejoin="round"/>
<polygon points="360.44,126.81 370.05,132.33 380.3,129.02 370.7,123.5" fill="#4746ea" stroke="rgba(0,0,0,0.55)" stroke-width="0.45" stroke-linejoin="round"/>
<polygon points="372.45,184.88 382.05,190.4 382.05,139.62 372.45,134.1" fill="#4746ea" stroke="rgba(0,0,0,0.55)" stroke-width="0.45" stroke-linejoin="round"/>
<polygon points="382.05,190.4 392.31,187.09 392.31,136.31 382.05,139.62" fill="#4746ea" stroke="rgba(0,0,0,0.55)" stroke-width="0.45" stroke-linejoin="round"/>
<polygon points="372.45,134.1 382.05,139.62 392.31,136.31 382.7,130.79" fill="#4746ea" stroke="rgba(0,0,0,0.55)" stroke-width="0.45" stroke-linejoin="round"/>
<polygon points="384.45,191.78 394.06,197.29 394.06,136.6 384.45,131.08" fill="#4746ea" stroke="rgba(0,0,0,0.55)" stroke-width="0.45" stroke-linejoin="round"/>
<polygon points="394.06,197.29 404.31,193.98 404.31,133.29 394.06,136.6" fill="#4746ea" stroke="rgba(0,0,0,0.55)" stroke-width="0.45" stroke-linejoin="round"/>
<polygon points="384.45,131.08 394.06,136.6 404.31,133.29 394.71,127.77" fill="#4746ea" stroke="rgba(0,0,0,0.55)" stroke-width="0.45" stroke-linejoin="round"/>
<polygon points="396.46,198.67 406.06,204.19 406.06,158.96 396.46,153.45" fill="#4746ea" stroke="rgba(0,0,0,0.55)" stroke-width="0.45" stroke-linejoin="round"/>
<polygon points="406.06,204.19 416.32,200.88 416.32,155.65 406.06,158.96" fill="#4746ea" stroke="rgba(0,0,0,0.55)" stroke-width="0.45" stroke-linejoin="round"/>
<polygon points="396.46,153.45 406.06,158.96 416.32,155.65 406.71,150.14" fill="#4746ea" stroke="rgba(0,0,0,0.55)" stroke-width="0.45" stroke-linejoin="round"/>
<polygon points="408.46,205.56 418.07,211.08 418.07,130.55 408.46,125.03" fill="#4746ea" stroke="rgba(0,0,0,0.55)" stroke-width="0.45" stroke-linejoin="round"/>
<polygon points="418.07,211.08 428.32,207.77 428.32,127.24 418.07,130.55" fill="#4746ea" stroke="rgba(0,0,0,0.55)" stroke-width="0.45" stroke-linejoin="round"/>
<polygon points="408.46,125.03 418.07,130.55 428.32,127.24 418.72,121.72" fill="#4746ea" stroke="rgba(0,0,0,0.55)" stroke-width="0.45" stroke-linejoin="round"/>
<polygon points="323.62,168.34 333.22,173.85 333.22,155.21 323.62,149.69" fill="#4525b2" stroke="rgba(0,0,0,0.55)" stroke-width="0.45" stroke-linejoin="round"/>
<polygon points="333.22,173.85 343.47,170.54 343.47,151.9 333.22,155.21" fill="#4525b2" stroke="rgba(0,0,0,0.55)" stroke-width="0.45" stroke-linejoin="round"/>
<polygon points="323.62,149.69 333.22,155.21 343.47,151.9 333.87,146.38" fill="#4525b2" stroke="rgba(0,0,0,0.55)" stroke-width="0.45" stroke-linejoin="round"/>
<polygon points="335.62,175.23 345.23,180.75 345.23,134.33 335.62,128.82" fill="#4525b2" stroke="rgba(0,0,0,0.55)" stroke-width="0.45" stroke-linejoin="round"/>
<polygon points="345.23,180.75 355.48,177.44 355.48,131.02 345.23,134.33" fill="#4525b2" stroke="rgba(0,0,0,0.55)" stroke-width="0.45" stroke-linejoin="round"/>
<polygon points="335.62,128.82 345.23,134.33 355.48,131.02 345.88,125.51" fill="#4525b2" stroke="rgba(0,0,0,0.55)" stroke-width="0.45" stroke-linejoin="round"/>
<polygon points="347.63,182.12 357.23,187.64 357.23,151.94 347.63,146.42" fill="#4525b2" stroke="rgba(0,0,0,0.55)" stroke-width="0.45" stroke-linejoin="round"/>
<polygon points="357.23,187.64 367.48,184.33 367.48,148.63 357.23,151.94" fill="#4525b2" stroke="rgba(0,0,0,0.55)" stroke-width="0.45" stroke-linejoin="round"/>
<polygon points="347.63,146.42 357.23,151.94 367.48,148.63 357.88,143.11" fill="#4525b2" stroke="rgba(0,0,0,0.55)" stroke-width="0.45" stroke-linejoin="round"/>
<polygon points="359.63,189.02 369.24,194.53 369.24,164.39 359.63,158.87" fill="#4525b2" stroke="rgba(0,0,0,0.55)" stroke-width="0.45" stroke-linejoin="round"/>
<polygon points="369.24,194.53 379.49,191.22 379.49,161.08 369.24,164.39" fill="#4525b2" stroke="rgba(0,0,0,0.55)" stroke-width="0.45" stroke-linejoin="round"/>
<polygon points="359.63,158.87 369.24,164.39 379.49,161.08 369.89,155.56" fill="#4525b2" stroke="rgba(0,0,0,0.55)" stroke-width="0.45" stroke-linejoin="round"/>
<polygon points="371.64,195.91 381.24,201.43 381.24,155.81 371.64,150.29" fill="#4525b2" stroke="rgba(0,0,0,0.55)" stroke-width="0.45" stroke-linejoin="round"/>
<polygon points="381.24,201.43 391.49,198.12 391.49,152.5 381.24,155.81" fill="#4525b2" stroke="rgba(0,0,0,0.55)" stroke-width="0.45" stroke-linejoin="round"/>
<polygon points="371.64,150.29 381.24,155.81 391.49,152.5 381.89,146.98" fill="#4525b2" stroke="rgba(0,0,0,0.55)" stroke-width="0.45" stroke-linejoin="round"/>
<polygon points="383.64,202.81 393.25,208.32 393.25,200.39 383.64,194.87" fill="#4525b2" stroke="rgba(0,0,0,0.55)" stroke-width="0.45" stroke-linejoin="round"/>
<polygon points="393.25,208.32 403.5,205.01 403.5,197.08 393.25,200.39" fill="#4525b2" stroke="rgba(0,0,0,0.55)" stroke-width="0.45" stroke-linejoin="round"/>
<polygon points="383.64,194.87 393.25,200.39 403.5,197.08 393.9,191.56" fill="#4525b2" stroke="rgba(0,0,0,0.55)" stroke-width="0.45" stroke-linejoin="round"/>
<polygon points="395.65,209.7 405.25,215.22 405.25,190.23 395.65,184.71" fill="#4525b2" stroke="rgba(0,0,0,0.55)" stroke-width="0.45" stroke-linejoin="round"/>
<polygon points="405.25,215.22 415.5,211.91 415.5,186.92 405.25,190.23" fill="#4525b2" stroke="rgba(0,0,0,0.55)" stroke-width="0.45" stroke-linejoin="round"/>
<polygon points="395.65,184.71 405.25,190.23 415.5,186.92 405.9,181.4" fill="#4525b2" stroke="rgba(0,0,0,0.55)" stroke-width="0.45" stroke-linejoin="round"/>
<text x="310.6" y="166" font-size="7.4" text-anchor="end" fill="#262626">46.5</text>
<text x="310.6" y="126.33" font-size="7.4" text-anchor="end" fill="#262626">47.5</text>
<text x="310.6" y="86.66" font-size="7.4" text-anchor="end" fill="#262626">48.5</text>
<text x="310.6" y="46.99" font-size="7.4" text-anchor="end" fill="#262626">49.5</text>
<text x="322.96" y="180.11" font-size="7.4" text-anchor="end" fill="#262626">0.001</text>
<text x="334.83" y="186.93" font-size="7.4" text-anchor="end" fill="#262626">0.01</text>
<text x="346.69" y="193.74" font-size="7.4" text-anchor="end" fill="#262626">0.1</text>
<text x="358.55" y="200.55" font-size="7.4" text-anchor="end" fill="#262626">1</text>
<text x="370.41" y="207.36" font-size="7.4" text-anchor="end" fill="#262626">10</text>
<text x="382.28" y="214.18" font-size="7.4" text-anchor="end" fill="#262626">100</text>
<text x="394.14" y="220.99" font-size="7.4" text-anchor="end" fill="#262626">1000</text>
<text x="425.38" y="226.43" font-size="7.4" text-anchor="middle" fill="#262626">8</text>
<text x="438.34" y="222.24" font-size="7.4" text-anchor="middle" fill="#262626">16</text>
<text x="451.3" y="218.06" font-size="7.4" text-anchor="middle" fill="#262626">24</text>
<text x="464.26" y="213.88" font-size="7.4" text-anchor="middle" fill="#262626">32</text>
<text x="477.22" y="209.69" font-size="7.4" text-anchor="middle" fill="#262626">40</text>
<text x="490.18" y="205.51" font-size="7.4" text-anchor="middle" fill="#262626">48</text>
<text x="503.14" y="201.32" font-size="7.4" text-anchor="middle" fill="#262626">56</text>
<text x="516.1" y="197.14" font-size="7.4" text-anchor="middle" fill="#262626">64</text>
<text x="529.06" y="192.96" font-size="7.4" text-anchor="middle" fill="#262626">72</text>
<text x="542.02" y="188.77" font-size="7.4" text-anchor="middle" fill="#262626">80</text>
<text x="293.6" y="105.5" font-size="7.4" text-anchor="middle" fill="#262626" transform="rotate(-90 293.6 105.5)">Accuracy rate</text>
<text x="479.6" y="227.9" font-size="7.4" text-anchor="middle" fill="#262626" transform="rotate(-1.5 479.6 227.9)">Demension</text>
<text x="358" y="223.8" font-size="7.4" text-anchor="middle" fill="#262626">β</text>
</g>
<g>
<line x1="29.1" y1="421.5" x2="156.1" y2="380.5" stroke="#ebebeb" stroke-width="0.5"/>
<line x1="156.1" y1="380.5" x2="251" y2="435" stroke="#ebebeb" stroke-width="0.5"/>
<line x1="29.1" y1="381.83" x2="156.1" y2="340.83" stroke="#ebebeb" stroke-width="0.5"/>
<line x1="156.1" y1="340.83" x2="251" y2="395.33" stroke="#ebebeb" stroke-width="0.5"/>
<line x1="29.1" y1="342.16" x2="156.1" y2="301.16" stroke="#ebebeb" stroke-width="0.5"/>
<line x1="156.1" y1="301.16" x2="251" y2="355.66" stroke="#ebebeb" stroke-width="0.5"/>
<line x1="29.1" y1="302.49" x2="156.1" y2="261.49" stroke="#ebebeb" stroke-width="0.5"/>
<line x1="156.1" y1="261.49" x2="251" y2="315.99" stroke="#ebebeb" stroke-width="0.5"/>
<line x1="34.28" y1="419.83" x2="34.28" y2="300.82" stroke="#ebebeb" stroke-width="0.5"/>
<line x1="47.24" y1="415.64" x2="47.24" y2="296.63" stroke="#ebebeb" stroke-width="0.5"/>
<line x1="60.2" y1="411.46" x2="60.2" y2="292.45" stroke="#ebebeb" stroke-width="0.5"/>
<line x1="73.16" y1="407.28" x2="73.16" y2="288.27" stroke="#ebebeb" stroke-width="0.5"/>
<line x1="86.12" y1="403.09" x2="86.12" y2="284.08" stroke="#ebebeb" stroke-width="0.5"/>
<line x1="99.08" y1="398.91" x2="99.08" y2="279.9" stroke="#ebebeb" stroke-width="0.5"/>
<line x1="112.04" y1="394.72" x2="112.04" y2="275.71" stroke="#ebebeb" stroke-width="0.5"/>
<line x1="125" y1="390.54" x2="125" y2="271.53" stroke="#ebebeb" stroke-width="0.5"/>
<line x1="137.96" y1="386.36" x2="137.96" y2="267.35" stroke="#ebebeb" stroke-width="0.5"/>
<line x1="150.92" y1="382.17" x2="150.92" y2="263.16" stroke="#ebebeb" stroke-width="0.5"/>
<line x1="167.96" y1="387.31" x2="167.96" y2="268.3" stroke="#ebebeb" stroke-width="0.5"/>
<line x1="179.82" y1="394.12" x2="179.82" y2="275.12" stroke="#ebebeb" stroke-width="0.5"/>
<line x1="191.69" y1="400.94" x2="191.69" y2="281.93" stroke="#ebebeb" stroke-width="0.5"/>
<line x1="203.55" y1="407.75" x2="203.55" y2="288.74" stroke="#ebebeb" stroke-width="0.5"/>
<line x1="215.41" y1="414.56" x2="215.41" y2="295.55" stroke="#ebebeb" stroke-width="0.5"/>
<line x1="227.28" y1="421.38" x2="227.28" y2="302.37" stroke="#ebebeb" stroke-width="0.5"/>
<line x1="239.14" y1="428.19" x2="239.14" y2="309.18" stroke="#ebebeb" stroke-width="0.5"/>
<line x1="34.28" y1="419.83" x2="129.18" y2="474.33" stroke="#ebebeb" stroke-width="0.5"/>
<line x1="47.24" y1="415.64" x2="142.14" y2="470.14" stroke="#ebebeb" stroke-width="0.5"/>
<line x1="60.2" y1="411.46" x2="155.1" y2="465.96" stroke="#ebebeb" stroke-width="0.5"/>
<line x1="73.16" y1="407.28" x2="168.06" y2="461.78" stroke="#ebebeb" stroke-width="0.5"/>
<line x1="86.12" y1="403.09" x2="181.02" y2="457.59" stroke="#ebebeb" stroke-width="0.5"/>
<line x1="99.08" y1="398.91" x2="193.98" y2="453.41" stroke="#ebebeb" stroke-width="0.5"/>
<line x1="112.04" y1="394.72" x2="206.94" y2="449.22" stroke="#ebebeb" stroke-width="0.5"/>
<line x1="125" y1="390.54" x2="219.9" y2="445.04" stroke="#ebebeb" stroke-width="0.5"/>
<line x1="137.96" y1="386.36" x2="232.86" y2="440.86" stroke="#ebebeb" stroke-width="0.5"/>
<line x1="150.92" y1="382.17" x2="245.82" y2="436.67" stroke="#ebebeb" stroke-width="0.5"/>
<line x1="40.96" y1="428.31" x2="167.96" y2="387.31" stroke="#ebebeb" stroke-width="0.5"/>
<line x1="52.83" y1="435.12" x2="179.82" y2="394.12" stroke="#ebebeb" stroke-width="0.5"/>
<line x1="64.69" y1="441.94" x2="191.69" y2="400.94" stroke="#ebebeb" stroke-width="0.5"/>
<line x1="76.55" y1="448.75" x2="203.55" y2="407.75" stroke="#ebebeb" stroke-width="0.5"/>
<line x1="88.41" y1="455.56" x2="215.41" y2="414.56" stroke="#ebebeb" stroke-width="0.5"/>
<line x1="100.28" y1="462.38" x2="227.28" y2="421.38" stroke="#ebebeb" stroke-width="0.5"/>
<line x1="112.14" y1="469.19" x2="239.14" y2="428.19" stroke="#ebebeb" stroke-width="0.5"/>
<line x1="29.1" y1="421.5" x2="29.1" y2="302.49" stroke="#6a6a6a" stroke-width="0.55"/>
<line x1="29.1" y1="421.5" x2="124" y2="476" stroke="#6a6a6a" stroke-width="0.55"/>
<line x1="124" y1="476" x2="251" y2="435" stroke="#6a6a6a" stroke-width="0.55"/>
<line x1="29.1" y1="421.5" x2="26.1" y2="421.5" stroke="#6a6a6a" stroke-width="0.55"/>
<line x1="29.1" y1="381.83" x2="26.1" y2="381.83" stroke="#6a6a6a" stroke-width="0.55"/>
<line x1="29.1" y1="342.16" x2="26.1" y2="342.16" stroke="#6a6a6a" stroke-width="0.55"/>
<line x1="29.1" y1="302.49" x2="26.1" y2="302.49" stroke="#6a6a6a" stroke-width="0.55"/>
<line x1="40.96" y1="428.31" x2="37.72" y2="429.36" stroke="#6a6a6a" stroke-width="0.55"/>
<line x1="52.83" y1="435.12" x2="49.59" y2="436.17" stroke="#6a6a6a" stroke-width="0.55"/>
<line x1="64.69" y1="441.94" x2="61.45" y2="442.98" stroke="#6a6a6a" stroke-width="0.55"/>
<line x1="76.55" y1="448.75" x2="73.31" y2="449.8" stroke="#6a6a6a" stroke-width="0.55"/>
<line x1="88.41" y1="455.56" x2="85.17" y2="456.61" stroke="#6a6a6a" stroke-width="0.55"/>
<line x1="100.28" y1="462.38" x2="97.04" y2="463.42" stroke="#6a6a6a" stroke-width="0.55"/>
<line x1="112.14" y1="469.19" x2="108.9" y2="470.23" stroke="#6a6a6a" stroke-width="0.55"/>
<line x1="129.18" y1="474.33" x2="132.15" y2="476.03" stroke="#6a6a6a" stroke-width="0.55"/>
<line x1="142.14" y1="470.14" x2="145.11" y2="471.85" stroke="#6a6a6a" stroke-width="0.55"/>
<line x1="155.1" y1="465.96" x2="158.07" y2="467.66" stroke="#6a6a6a" stroke-width="0.55"/>
<line x1="168.06" y1="461.78" x2="171.03" y2="463.48" stroke="#6a6a6a" stroke-width="0.55"/>
<line x1="181.02" y1="457.59" x2="183.99" y2="459.29" stroke="#6a6a6a" stroke-width="0.55"/>
<line x1="193.98" y1="453.41" x2="196.95" y2="455.11" stroke="#6a6a6a" stroke-width="0.55"/>
<line x1="206.94" y1="449.22" x2="209.9" y2="450.93" stroke="#6a6a6a" stroke-width="0.55"/>
<line x1="219.9" y1="445.04" x2="222.86" y2="446.74" stroke="#6a6a6a" stroke-width="0.55"/>
<line x1="232.86" y1="440.86" x2="235.82" y2="442.56" stroke="#6a6a6a" stroke-width="0.55"/>
<line x1="245.82" y1="436.67" x2="248.78" y2="438.38" stroke="#6a6a6a" stroke-width="0.55"/>
<polygon points="154.19,388.4 163.8,393.92 163.8,303.07 154.19,297.56" fill="#f6f417" stroke="rgba(0,0,0,0.55)" stroke-width="0.45" stroke-linejoin="round"/>
<polygon points="163.8,393.92 174.16,390.57 174.16,299.73 163.8,303.07" fill="#f6f417" stroke="rgba(0,0,0,0.55)" stroke-width="0.45" stroke-linejoin="round"/>
<polygon points="154.19,297.56 163.8,303.07 174.16,299.73 164.56,294.21" fill="#f6f417" stroke="rgba(0,0,0,0.55)" stroke-width="0.45" stroke-linejoin="round"/>
<polygon points="166.2,395.3 175.8,400.81 175.8,328.22 166.2,322.7" fill="#f6f417" stroke="rgba(0,0,0,0.55)" stroke-width="0.45" stroke-linejoin="round"/>
<polygon points="175.8,400.81 186.17,397.46 186.17,324.87 175.8,328.22" fill="#f6f417" stroke="rgba(0,0,0,0.55)" stroke-width="0.45" stroke-linejoin="round"/>
<polygon points="166.2,322.7 175.8,328.22 186.17,324.87 176.57,319.35" fill="#f6f417" stroke="rgba(0,0,0,0.55)" stroke-width="0.45" stroke-linejoin="round"/>
<polygon points="178.2,402.19 187.81,407.71 187.81,334.32 178.2,328.8" fill="#f6f417" stroke="rgba(0,0,0,0.55)" stroke-width="0.45" stroke-linejoin="round"/>
<polygon points="187.81,407.71 198.17,404.36 198.17,330.97 187.81,334.32" fill="#f6f417" stroke="rgba(0,0,0,0.55)" stroke-width="0.45" stroke-linejoin="round"/>
<polygon points="178.2,328.8 187.81,334.32 198.17,330.97 188.57,325.45" fill="#f6f417" stroke="rgba(0,0,0,0.55)" stroke-width="0.45" stroke-linejoin="round"/>
<polygon points="190.21,409.08 199.81,414.6 199.81,331.69 190.21,326.17" fill="#f6f417" stroke="rgba(0,0,0,0.55)" stroke-width="0.45" stroke-linejoin="round"/>
<polygon points="199.81,414.6 210.18,411.25 210.18,328.34 199.81,331.69" fill="#f6f417" stroke="rgba(0,0,0,0.55)" stroke-width="0.45" stroke-linejoin="round"/>
<polygon points="190.21,326.17 199.81,331.69 210.18,328.34 200.58,322.83" fill="#f6f417" stroke="rgba(0,0,0,0.55)" stroke-width="0.45" stroke-linejoin="round"/>
<polygon points="202.21,415.98 211.82,421.49 211.82,333.03 202.21,327.51" fill="#f6f417" stroke="rgba(0,0,0,0.55)" stroke-width="0.45" stroke-linejoin="round"/>
<polygon points="211.82,421.49 222.18,418.15 222.18,329.68 211.82,333.03" fill="#f6f417" stroke="rgba(0,0,0,0.55)" stroke-width="0.45" stroke-linejoin="round"/>
<polygon points="202.21,327.51 211.82,333.03 222.18,329.68 212.58,324.17" fill="#f6f417" stroke="rgba(0,0,0,0.55)" stroke-width="0.45" stroke-linejoin="round"/>
<polygon points="214.22,422.87 223.82,428.39 223.82,345.08 214.22,339.57" fill="#f6f417" stroke="rgba(0,0,0,0.55)" stroke-width="0.45" stroke-linejoin="round"/>
<polygon points="223.82,428.39 234.19,425.04 234.19,341.73 223.82,345.08" fill="#f6f417" stroke="rgba(0,0,0,0.55)" stroke-width="0.45" stroke-linejoin="round"/>
<polygon points="214.22,339.57 223.82,345.08 234.19,341.73 224.58,336.22" fill="#f6f417" stroke="rgba(0,0,0,0.55)" stroke-width="0.45" stroke-linejoin="round"/>
<polygon points="226.22,429.77 235.83,435.28 235.83,352.77 226.22,347.25" fill="#f6f417" stroke="rgba(0,0,0,0.55)" stroke-width="0.45" stroke-linejoin="round"/>
<polygon points="235.83,435.28 246.19,431.94 246.19,349.42 235.83,352.77" fill="#f6f417" stroke="rgba(0,0,0,0.55)" stroke-width="0.45" stroke-linejoin="round"/>
<polygon points="226.22,347.25 235.83,352.77 246.19,349.42 236.59,343.91" fill="#f6f417" stroke="rgba(0,0,0,0.55)" stroke-width="0.45" stroke-linejoin="round"/>
<polygon points="141.23,392.59 150.84,398.1 150.84,301.31 141.23,295.79" fill="#fdc628" stroke="rgba(0,0,0,0.55)" stroke-width="0.45" stroke-linejoin="round"/>
<polygon points="150.84,398.1 161.21,394.75 161.21,297.96 150.84,301.31" fill="#fdc628" stroke="rgba(0,0,0,0.55)" stroke-width="0.45" stroke-linejoin="round"/>
<polygon points="141.23,295.79 150.84,301.31 161.21,297.96 151.6,292.44" fill="#fdc628" stroke="rgba(0,0,0,0.55)" stroke-width="0.45" stroke-linejoin="round"/>
<polygon points="153.24,399.48 162.84,405 162.84,330.42 153.24,324.9" fill="#fdc628" stroke="rgba(0,0,0,0.55)" stroke-width="0.45" stroke-linejoin="round"/>
<polygon points="162.84,405 173.21,401.65 173.21,327.07 162.84,330.42" fill="#fdc628" stroke="rgba(0,0,0,0.55)" stroke-width="0.45" stroke-linejoin="round"/>
<polygon points="153.24,324.9 162.84,330.42 173.21,327.07 163.61,321.55" fill="#fdc628" stroke="rgba(0,0,0,0.55)" stroke-width="0.45" stroke-linejoin="round"/>
<polygon points="165.24,406.37 174.85,411.89 174.85,338.5 165.24,332.98" fill="#fdc628" stroke="rgba(0,0,0,0.55)" stroke-width="0.45" stroke-linejoin="round"/>
<polygon points="174.85,411.89 185.21,408.54 185.21,335.15 174.85,338.5" fill="#fdc628" stroke="rgba(0,0,0,0.55)" stroke-width="0.45" stroke-linejoin="round"/>
<polygon points="165.24,332.98 174.85,338.5 185.21,335.15 175.61,329.64" fill="#fdc628" stroke="rgba(0,0,0,0.55)" stroke-width="0.45" stroke-linejoin="round"/>
<polygon points="177.25,413.27 186.85,418.78 186.85,341.43 177.25,335.91" fill="#fdc628" stroke="rgba(0,0,0,0.55)" stroke-width="0.45" stroke-linejoin="round"/>
<polygon points="186.85,418.78 197.22,415.44 197.22,338.08 186.85,341.43" fill="#fdc628" stroke="rgba(0,0,0,0.55)" stroke-width="0.45" stroke-linejoin="round"/>
<polygon points="177.25,335.91 186.85,341.43 197.22,338.08 187.62,332.56" fill="#fdc628" stroke="rgba(0,0,0,0.55)" stroke-width="0.45" stroke-linejoin="round"/>
<polygon points="189.25,420.16 198.86,425.68 198.86,350.3 189.25,344.79" fill="#fdc628" stroke="rgba(0,0,0,0.55)" stroke-width="0.45" stroke-linejoin="round"/>
<polygon points="198.86,425.68 209.22,422.33 209.22,346.96 198.86,350.3" fill="#fdc628" stroke="rgba(0,0,0,0.55)" stroke-width="0.45" stroke-linejoin="round"/>
<polygon points="189.25,344.79 198.86,350.3 209.22,346.96 199.62,341.44" fill="#fdc628" stroke="rgba(0,0,0,0.55)" stroke-width="0.45" stroke-linejoin="round"/>
<polygon points="201.26,427.06 210.86,432.57 210.86,355.22 201.26,349.7" fill="#fdc628" stroke="rgba(0,0,0,0.55)" stroke-width="0.45" stroke-linejoin="round"/>
<polygon points="210.86,432.57 221.23,429.23 221.23,351.87 210.86,355.22" fill="#fdc628" stroke="rgba(0,0,0,0.55)" stroke-width="0.45" stroke-linejoin="round"/>
<polygon points="201.26,349.7 210.86,355.22 221.23,351.87 211.63,346.35" fill="#fdc628" stroke="rgba(0,0,0,0.55)" stroke-width="0.45" stroke-linejoin="round"/>
<polygon points="213.26,433.95 222.87,439.47 222.87,333.15 213.26,327.64" fill="#fdc628" stroke="rgba(0,0,0,0.55)" stroke-width="0.45" stroke-linejoin="round"/>
<polygon points="222.87,439.47 233.23,436.12 233.23,329.8 222.87,333.15" fill="#fdc628" stroke="rgba(0,0,0,0.55)" stroke-width="0.45" stroke-linejoin="round"/>
<polygon points="213.26,327.64 222.87,333.15 233.23,329.8 223.63,324.29" fill="#fdc628" stroke="rgba(0,0,0,0.55)" stroke-width="0.45" stroke-linejoin="round"/>
<polygon points="128.27,396.77 137.88,402.28 137.88,305.09 128.27,299.58" fill="#e6af1c" stroke="rgba(0,0,0,0.55)" stroke-width="0.45" stroke-linejoin="round"/>
<polygon points="137.88,402.28 148.25,398.94 148.25,301.75 137.88,305.09" fill="#e6af1c" stroke="rgba(0,0,0,0.55)" stroke-width="0.45" stroke-linejoin="round"/>
<polygon points="128.27,299.58 137.88,305.09 148.25,301.75 138.64,296.23" fill="#e6af1c" stroke="rgba(0,0,0,0.55)" stroke-width="0.45" stroke-linejoin="round"/>
<polygon points="140.28,403.66 149.88,409.18 149.88,335.39 140.28,329.88" fill="#e6af1c" stroke="rgba(0,0,0,0.55)" stroke-width="0.45" stroke-linejoin="round"/>
<polygon points="149.88,409.18 160.25,405.83 160.25,332.05 149.88,335.39" fill="#e6af1c" stroke="rgba(0,0,0,0.55)" stroke-width="0.45" stroke-linejoin="round"/>
<polygon points="140.28,329.88 149.88,335.39 160.25,332.05 150.65,326.53" fill="#e6af1c" stroke="rgba(0,0,0,0.55)" stroke-width="0.45" stroke-linejoin="round"/>
<polygon points="152.28,410.56 161.89,416.07 161.89,330.78 152.28,325.27" fill="#e6af1c" stroke="rgba(0,0,0,0.55)" stroke-width="0.45" stroke-linejoin="round"/>
<polygon points="161.89,416.07 172.26,412.73 172.26,327.44 161.89,330.78" fill="#e6af1c" stroke="rgba(0,0,0,0.55)" stroke-width="0.45" stroke-linejoin="round"/>
<polygon points="152.28,325.27 161.89,330.78 172.26,327.44 162.65,321.92" fill="#e6af1c" stroke="rgba(0,0,0,0.55)" stroke-width="0.45" stroke-linejoin="round"/>
<polygon points="164.29,417.45 173.89,422.97 173.89,337.28 164.29,331.76" fill="#e6af1c" stroke="rgba(0,0,0,0.55)" stroke-width="0.45" stroke-linejoin="round"/>
<polygon points="173.89,422.97 184.26,419.62 184.26,333.93 173.89,337.28" fill="#e6af1c" stroke="rgba(0,0,0,0.55)" stroke-width="0.45" stroke-linejoin="round"/>
<polygon points="164.29,331.76 173.89,337.28 184.26,333.93 174.66,328.42" fill="#e6af1c" stroke="rgba(0,0,0,0.55)" stroke-width="0.45" stroke-linejoin="round"/>
<polygon points="176.29,424.35 185.9,429.86 185.9,344.17 176.29,338.66" fill="#e6af1c" stroke="rgba(0,0,0,0.55)" stroke-width="0.45" stroke-linejoin="round"/>
<polygon points="185.9,429.86 196.27,426.51 196.27,340.83 185.9,344.17" fill="#e6af1c" stroke="rgba(0,0,0,0.55)" stroke-width="0.45" stroke-linejoin="round"/>
<polygon points="176.29,338.66 185.9,344.17 196.27,340.83 186.66,335.31" fill="#e6af1c" stroke="rgba(0,0,0,0.55)" stroke-width="0.45" stroke-linejoin="round"/>
<polygon points="188.3,431.24 197.9,436.76 197.9,354.64 188.3,349.12" fill="#e6af1c" stroke="rgba(0,0,0,0.55)" stroke-width="0.45" stroke-linejoin="round"/>
<polygon points="197.9,436.76 208.27,433.41 208.27,351.29 197.9,354.64" fill="#e6af1c" stroke="rgba(0,0,0,0.55)" stroke-width="0.45" stroke-linejoin="round"/>
<polygon points="188.3,349.12 197.9,354.64 208.27,351.29 198.67,345.78" fill="#e6af1c" stroke="rgba(0,0,0,0.55)" stroke-width="0.45" stroke-linejoin="round"/>
<polygon points="200.3,438.13 209.91,443.65 209.91,357.96 200.3,352.45" fill="#e6af1c" stroke="rgba(0,0,0,0.55)" stroke-width="0.45" stroke-linejoin="round"/>
<polygon points="209.91,443.65 220.28,440.3 220.28,354.62 209.91,357.96" fill="#e6af1c" stroke="rgba(0,0,0,0.55)" stroke-width="0.45" stroke-linejoin="round"/>
<polygon points="200.3,352.45 209.91,357.96 220.28,354.62 210.67,349.1" fill="#e6af1c" stroke="rgba(0,0,0,0.55)" stroke-width="0.45" stroke-linejoin="round"/>
<polygon points="115.32,400.95 124.92,406.47 124.92,312.05 115.32,306.54" fill="#55c350" stroke="rgba(0,0,0,0.55)" stroke-width="0.45" stroke-linejoin="round"/>
<polygon points="124.92,406.47 135.29,403.12 135.29,308.71 124.92,312.05" fill="#55c350" stroke="rgba(0,0,0,0.55)" stroke-width="0.45" stroke-linejoin="round"/>
<polygon points="115.32,306.54 124.92,312.05 135.29,308.71 125.68,303.19" fill="#55c350" stroke="rgba(0,0,0,0.55)" stroke-width="0.45" stroke-linejoin="round"/>
<polygon points="127.32,407.85 136.92,413.36 136.92,330.06 127.32,324.54" fill="#55c350" stroke="rgba(0,0,0,0.55)" stroke-width="0.45" stroke-linejoin="round"/>
<polygon points="136.92,413.36 147.29,410.02 147.29,326.71 136.92,330.06" fill="#55c350" stroke="rgba(0,0,0,0.55)" stroke-width="0.45" stroke-linejoin="round"/>
<polygon points="127.32,324.54 136.92,330.06 147.29,326.71 137.69,321.19" fill="#55c350" stroke="rgba(0,0,0,0.55)" stroke-width="0.45" stroke-linejoin="round"/>
<polygon points="139.33,414.74 148.93,420.26 148.93,336.95 139.33,331.43" fill="#55c350" stroke="rgba(0,0,0,0.55)" stroke-width="0.45" stroke-linejoin="round"/>
<polygon points="148.93,420.26 159.3,416.91 159.3,333.6 148.93,336.95" fill="#55c350" stroke="rgba(0,0,0,0.55)" stroke-width="0.45" stroke-linejoin="round"/>
<polygon points="139.33,331.43 148.93,336.95 159.3,333.6 149.69,328.09" fill="#55c350" stroke="rgba(0,0,0,0.55)" stroke-width="0.45" stroke-linejoin="round"/>
<polygon points="151.33,421.64 160.93,427.15 160.93,347.81 151.33,342.3" fill="#55c350" stroke="rgba(0,0,0,0.55)" stroke-width="0.45" stroke-linejoin="round"/>
<polygon points="160.93,427.15 171.3,423.8 171.3,344.46 160.93,347.81" fill="#55c350" stroke="rgba(0,0,0,0.55)" stroke-width="0.45" stroke-linejoin="round"/>
<polygon points="151.33,342.3 160.93,347.81 171.3,344.46 161.7,338.95" fill="#55c350" stroke="rgba(0,0,0,0.55)" stroke-width="0.45" stroke-linejoin="round"/>
<polygon points="163.34,428.53 172.94,434.05 172.94,337.25 163.34,331.73" fill="#55c350" stroke="rgba(0,0,0,0.55)" stroke-width="0.45" stroke-linejoin="round"/>
<polygon points="172.94,434.05 183.31,430.7 183.31,333.9 172.94,337.25" fill="#55c350" stroke="rgba(0,0,0,0.55)" stroke-width="0.45" stroke-linejoin="round"/>
<polygon points="163.34,331.73 172.94,337.25 183.31,333.9 173.7,328.39" fill="#55c350" stroke="rgba(0,0,0,0.55)" stroke-width="0.45" stroke-linejoin="round"/>
<polygon points="175.34,435.42 184.94,440.94 184.94,358.43 175.34,352.91" fill="#55c350" stroke="rgba(0,0,0,0.55)" stroke-width="0.45" stroke-linejoin="round"/>
<polygon points="184.94,440.94 195.31,437.59 195.31,355.08 184.94,358.43" fill="#55c350" stroke="rgba(0,0,0,0.55)" stroke-width="0.45" stroke-linejoin="round"/>
<polygon points="175.34,352.91 184.94,358.43 195.31,355.08 185.71,349.56" fill="#55c350" stroke="rgba(0,0,0,0.55)" stroke-width="0.45" stroke-linejoin="round"/>
<polygon points="187.34,442.32 196.95,447.83 196.95,374.05 187.34,368.53" fill="#55c350" stroke="rgba(0,0,0,0.55)" stroke-width="0.45" stroke-linejoin="round"/>
<polygon points="196.95,447.83 207.32,444.49 207.32,370.7 196.95,374.05" fill="#55c350" stroke="rgba(0,0,0,0.55)" stroke-width="0.45" stroke-linejoin="round"/>
<polygon points="187.34,368.53 196.95,374.05 207.32,370.7 197.71,365.19" fill="#55c350" stroke="rgba(0,0,0,0.55)" stroke-width="0.45" stroke-linejoin="round"/>
<polygon points="102.36,405.14 111.96,410.65 111.96,330.52 102.36,325" fill="#22bf9e" stroke="rgba(0,0,0,0.55)" stroke-width="0.45" stroke-linejoin="round"/>
<polygon points="111.96,410.65 122.33,407.3 122.33,327.17 111.96,330.52" fill="#22bf9e" stroke="rgba(0,0,0,0.55)" stroke-width="0.45" stroke-linejoin="round"/>
<polygon points="102.36,325 111.96,330.52 122.33,327.17 112.72,321.66" fill="#22bf9e" stroke="rgba(0,0,0,0.55)" stroke-width="0.45" stroke-linejoin="round"/>
<polygon points="114.36,412.03 123.97,417.55 123.97,340.59 114.36,335.07" fill="#22bf9e" stroke="rgba(0,0,0,0.55)" stroke-width="0.45" stroke-linejoin="round"/>
<polygon points="123.97,417.55 134.33,414.2 134.33,337.24 123.97,340.59" fill="#22bf9e" stroke="rgba(0,0,0,0.55)" stroke-width="0.45" stroke-linejoin="round"/>
<polygon points="114.36,335.07 123.97,340.59 134.33,337.24 124.73,331.72" fill="#22bf9e" stroke="rgba(0,0,0,0.55)" stroke-width="0.45" stroke-linejoin="round"/>
<polygon points="126.37,418.92 135.97,424.44 135.97,349.07 126.37,343.55" fill="#22bf9e" stroke="rgba(0,0,0,0.55)" stroke-width="0.45" stroke-linejoin="round"/>
<polygon points="135.97,424.44 146.34,421.09 146.34,345.72 135.97,349.07" fill="#22bf9e" stroke="rgba(0,0,0,0.55)" stroke-width="0.45" stroke-linejoin="round"/>
<polygon points="126.37,343.55 135.97,349.07 146.34,345.72 136.73,340.2" fill="#22bf9e" stroke="rgba(0,0,0,0.55)" stroke-width="0.45" stroke-linejoin="round"/>
<polygon points="138.37,425.82 147.97,431.33 147.97,351.99 138.37,346.48" fill="#22bf9e" stroke="rgba(0,0,0,0.55)" stroke-width="0.45" stroke-linejoin="round"/>
<polygon points="147.97,431.33 158.34,427.99 158.34,348.65 147.97,351.99" fill="#22bf9e" stroke="rgba(0,0,0,0.55)" stroke-width="0.45" stroke-linejoin="round"/>
<polygon points="138.37,346.48 147.97,351.99 158.34,348.65 148.74,343.13" fill="#22bf9e" stroke="rgba(0,0,0,0.55)" stroke-width="0.45" stroke-linejoin="round"/>
<polygon points="150.38,432.71 159.98,438.23 159.98,362.86 150.38,357.34" fill="#22bf9e" stroke="rgba(0,0,0,0.55)" stroke-width="0.45" stroke-linejoin="round"/>
<polygon points="159.98,438.23 170.35,434.88 170.35,359.51 159.98,362.86" fill="#22bf9e" stroke="rgba(0,0,0,0.55)" stroke-width="0.45" stroke-linejoin="round"/>
<polygon points="150.38,357.34 159.98,362.86 170.35,359.51 160.74,353.99" fill="#22bf9e" stroke="rgba(0,0,0,0.55)" stroke-width="0.45" stroke-linejoin="round"/>
<polygon points="162.38,439.61 171.98,445.12 171.98,356.66 162.38,351.14" fill="#22bf9e" stroke="rgba(0,0,0,0.55)" stroke-width="0.45" stroke-linejoin="round"/>
<polygon points="171.98,445.12 182.35,441.78 182.35,353.31 171.98,356.66" fill="#22bf9e" stroke="rgba(0,0,0,0.55)" stroke-width="0.45" stroke-linejoin="round"/>
<polygon points="162.38,351.14 171.98,356.66 182.35,353.31 172.75,347.8" fill="#22bf9e" stroke="rgba(0,0,0,0.55)" stroke-width="0.45" stroke-linejoin="round"/>
<polygon points="174.39,446.5 183.99,452.02 183.99,370.69 174.39,365.18" fill="#22bf9e" stroke="rgba(0,0,0,0.55)" stroke-width="0.45" stroke-linejoin="round"/>
<polygon points="183.99,452.02 194.36,448.67 194.36,367.35 183.99,370.69" fill="#22bf9e" stroke="rgba(0,0,0,0.55)" stroke-width="0.45" stroke-linejoin="round"/>
<polygon points="174.39,365.18 183.99,370.69 194.36,367.35 184.75,361.83" fill="#22bf9e" stroke="rgba(0,0,0,0.55)" stroke-width="0.45" stroke-linejoin="round"/>
<polygon points="89.4,409.32 99,414.84 99,333.51 89.4,328" fill="#0bb0d4" stroke="rgba(0,0,0,0.55)" stroke-width="0.45" stroke-linejoin="round"/>
<polygon points="99,414.84 109.37,411.49 109.37,330.17 99,333.51" fill="#0bb0d4" stroke="rgba(0,0,0,0.55)" stroke-width="0.45" stroke-linejoin="round"/>
<polygon points="89.4,328 99,333.51 109.37,330.17 99.76,324.65" fill="#0bb0d4" stroke="rgba(0,0,0,0.55)" stroke-width="0.45" stroke-linejoin="round"/>
<polygon points="101.4,416.21 111.01,421.73 111.01,354.29 101.4,348.78" fill="#0bb0d4" stroke="rgba(0,0,0,0.55)" stroke-width="0.45" stroke-linejoin="round"/>
<polygon points="111.01,421.73 121.37,418.38 121.37,350.94 111.01,354.29" fill="#0bb0d4" stroke="rgba(0,0,0,0.55)" stroke-width="0.45" stroke-linejoin="round"/>
<polygon points="101.4,348.78 111.01,354.29 121.37,350.94 111.77,345.43" fill="#0bb0d4" stroke="rgba(0,0,0,0.55)" stroke-width="0.45" stroke-linejoin="round"/>
<polygon points="113.41,423.11 123.01,428.62 123.01,360.79 113.41,355.27" fill="#0bb0d4" stroke="rgba(0,0,0,0.55)" stroke-width="0.45" stroke-linejoin="round"/>
<polygon points="123.01,428.62 133.38,425.28 133.38,357.44 123.01,360.79" fill="#0bb0d4" stroke="rgba(0,0,0,0.55)" stroke-width="0.45" stroke-linejoin="round"/>
<polygon points="113.41,355.27 123.01,360.79 133.38,357.44 123.77,351.93" fill="#0bb0d4" stroke="rgba(0,0,0,0.55)" stroke-width="0.45" stroke-linejoin="round"/>
<polygon points="125.41,430 135.02,435.52 135.02,367.29 125.41,361.77" fill="#0bb0d4" stroke="rgba(0,0,0,0.55)" stroke-width="0.45" stroke-linejoin="round"/>
<polygon points="135.02,435.52 145.38,432.17 145.38,363.94 135.02,367.29" fill="#0bb0d4" stroke="rgba(0,0,0,0.55)" stroke-width="0.45" stroke-linejoin="round"/>
<polygon points="125.41,361.77 135.02,367.29 145.38,363.94 135.78,358.42" fill="#0bb0d4" stroke="rgba(0,0,0,0.55)" stroke-width="0.45" stroke-linejoin="round"/>
<polygon points="137.42,436.9 147.02,442.41 147.02,348.39 137.42,342.88" fill="#0bb0d4" stroke="rgba(0,0,0,0.55)" stroke-width="0.45" stroke-linejoin="round"/>
<polygon points="147.02,442.41 157.39,439.07 157.39,345.05 147.02,348.39" fill="#0bb0d4" stroke="rgba(0,0,0,0.55)" stroke-width="0.45" stroke-linejoin="round"/>
<polygon points="137.42,342.88 147.02,348.39 157.39,345.05 147.78,339.53" fill="#0bb0d4" stroke="rgba(0,0,0,0.55)" stroke-width="0.45" stroke-linejoin="round"/>
<polygon points="149.42,443.79 159.03,449.31 159.03,377.9 149.42,372.39" fill="#0bb0d4" stroke="rgba(0,0,0,0.55)" stroke-width="0.45" stroke-linejoin="round"/>
<polygon points="159.03,449.31 169.39,445.96 169.39,374.55 159.03,377.9" fill="#0bb0d4" stroke="rgba(0,0,0,0.55)" stroke-width="0.45" stroke-linejoin="round"/>
<polygon points="149.42,372.39 159.03,377.9 169.39,374.55 159.79,369.04" fill="#0bb0d4" stroke="rgba(0,0,0,0.55)" stroke-width="0.45" stroke-linejoin="round"/>
<polygon points="161.43,450.69 171.03,456.2 171.03,382.41 161.43,376.9" fill="#0bb0d4" stroke="rgba(0,0,0,0.55)" stroke-width="0.45" stroke-linejoin="round"/>
<polygon points="171.03,456.2 181.4,452.85 181.4,379.07 171.03,382.41" fill="#0bb0d4" stroke="rgba(0,0,0,0.55)" stroke-width="0.45" stroke-linejoin="round"/>
<polygon points="161.43,376.9 171.03,382.41 181.4,379.07 171.79,373.55" fill="#0bb0d4" stroke="rgba(0,0,0,0.55)" stroke-width="0.45" stroke-linejoin="round"/>
<polygon points="76.44,413.5 86.04,419.02 86.04,357.13 76.44,351.62" fill="#1e93e4" stroke="rgba(0,0,0,0.55)" stroke-width="0.45" stroke-linejoin="round"/>
<polygon points="86.04,419.02 96.41,415.67 96.41,353.79 86.04,357.13" fill="#1e93e4" stroke="rgba(0,0,0,0.55)" stroke-width="0.45" stroke-linejoin="round"/>
<polygon points="76.44,351.62 86.04,357.13 96.41,353.79 86.81,348.27" fill="#1e93e4" stroke="rgba(0,0,0,0.55)" stroke-width="0.45" stroke-linejoin="round"/>
<polygon points="88.44,420.4 98.05,425.91 98.05,366.41 88.44,360.89" fill="#1e93e4" stroke="rgba(0,0,0,0.55)" stroke-width="0.45" stroke-linejoin="round"/>
<polygon points="98.05,425.91 108.41,422.57 108.41,363.06 98.05,366.41" fill="#1e93e4" stroke="rgba(0,0,0,0.55)" stroke-width="0.45" stroke-linejoin="round"/>
<polygon points="88.44,360.89 98.05,366.41 108.41,363.06 98.81,357.55" fill="#1e93e4" stroke="rgba(0,0,0,0.55)" stroke-width="0.45" stroke-linejoin="round"/>
<polygon points="100.45,427.29 110.05,432.81 110.05,373.7 100.45,368.18" fill="#1e93e4" stroke="rgba(0,0,0,0.55)" stroke-width="0.45" stroke-linejoin="round"/>
<polygon points="110.05,432.81 120.42,429.46 120.42,370.35 110.05,373.7" fill="#1e93e4" stroke="rgba(0,0,0,0.55)" stroke-width="0.45" stroke-linejoin="round"/>
<polygon points="100.45,368.18 110.05,373.7 120.42,370.35 110.82,364.84" fill="#1e93e4" stroke="rgba(0,0,0,0.55)" stroke-width="0.45" stroke-linejoin="round"/>
<polygon points="112.45,434.19 122.06,439.7 122.06,385.35 112.45,379.84" fill="#1e93e4" stroke="rgba(0,0,0,0.55)" stroke-width="0.45" stroke-linejoin="round"/>
<polygon points="122.06,439.7 132.42,436.35 132.42,382.01 122.06,385.35" fill="#1e93e4" stroke="rgba(0,0,0,0.55)" stroke-width="0.45" stroke-linejoin="round"/>
<polygon points="112.45,379.84 122.06,385.35 132.42,382.01 122.82,376.49" fill="#1e93e4" stroke="rgba(0,0,0,0.55)" stroke-width="0.45" stroke-linejoin="round"/>
<polygon points="124.46,441.08 134.06,446.6 134.06,367.65 124.46,362.14" fill="#1e93e4" stroke="rgba(0,0,0,0.55)" stroke-width="0.45" stroke-linejoin="round"/>
<polygon points="134.06,446.6 144.43,443.25 144.43,364.31 134.06,367.65" fill="#1e93e4" stroke="rgba(0,0,0,0.55)" stroke-width="0.45" stroke-linejoin="round"/>
<polygon points="124.46,362.14 134.06,367.65 144.43,364.31 134.82,358.79" fill="#1e93e4" stroke="rgba(0,0,0,0.55)" stroke-width="0.45" stroke-linejoin="round"/>
<polygon points="136.46,447.98 146.07,453.49 146.07,390.02 136.46,384.5" fill="#1e93e4" stroke="rgba(0,0,0,0.55)" stroke-width="0.45" stroke-linejoin="round"/>
<polygon points="146.07,453.49 156.43,450.14 156.43,386.67 146.07,390.02" fill="#1e93e4" stroke="rgba(0,0,0,0.55)" stroke-width="0.45" stroke-linejoin="round"/>
<polygon points="136.46,384.5 146.07,390.02 156.43,386.67 146.83,381.16" fill="#1e93e4" stroke="rgba(0,0,0,0.55)" stroke-width="0.45" stroke-linejoin="round"/>
<polygon points="148.47,454.87 158.07,460.38 158.07,406.83 148.47,401.31" fill="#1e93e4" stroke="rgba(0,0,0,0.55)" stroke-width="0.45" stroke-linejoin="round"/>
<polygon points="158.07,460.38 168.44,457.04 168.44,403.48 158.07,406.83" fill="#1e93e4" stroke="rgba(0,0,0,0.55)" stroke-width="0.45" stroke-linejoin="round"/>
<polygon points="148.47,401.31 158.07,406.83 168.44,403.48 158.83,397.97" fill="#1e93e4" stroke="rgba(0,0,0,0.55)" stroke-width="0.45" stroke-linejoin="round"/>
<polygon points="63.48,417.69 73.08,423.2 73.08,347.04 63.48,341.52" fill="#2168f3" stroke="rgba(0,0,0,0.55)" stroke-width="0.45" stroke-linejoin="round"/>
<polygon points="73.08,423.2 83.45,419.86 83.45,343.69 73.08,347.04" fill="#2168f3" stroke="rgba(0,0,0,0.55)" stroke-width="0.45" stroke-linejoin="round"/>
<polygon points="63.48,341.52 73.08,347.04 83.45,343.69 73.85,338.17" fill="#2168f3" stroke="rgba(0,0,0,0.55)" stroke-width="0.45" stroke-linejoin="round"/>
<polygon points="75.48,424.58 85.09,430.1 85.09,386.46 75.48,380.94" fill="#2168f3" stroke="rgba(0,0,0,0.55)" stroke-width="0.45" stroke-linejoin="round"/>
<polygon points="85.09,430.1 95.46,426.75 95.46,383.11 85.09,386.46" fill="#2168f3" stroke="rgba(0,0,0,0.55)" stroke-width="0.45" stroke-linejoin="round"/>
<polygon points="75.48,380.94 85.09,386.46 95.46,383.11 85.85,377.6" fill="#2168f3" stroke="rgba(0,0,0,0.55)" stroke-width="0.45" stroke-linejoin="round"/>
<polygon points="87.49,431.48 97.09,436.99 97.09,377.49 87.49,371.97" fill="#2168f3" stroke="rgba(0,0,0,0.55)" stroke-width="0.45" stroke-linejoin="round"/>
<polygon points="97.09,436.99 107.46,433.64 107.46,374.14 97.09,377.49" fill="#2168f3" stroke="rgba(0,0,0,0.55)" stroke-width="0.45" stroke-linejoin="round"/>
<polygon points="87.49,371.97 97.09,377.49 107.46,374.14 97.86,368.62" fill="#2168f3" stroke="rgba(0,0,0,0.55)" stroke-width="0.45" stroke-linejoin="round"/>
<polygon points="99.49,438.37 109.1,443.89 109.1,384.38 99.49,378.87" fill="#2168f3" stroke="rgba(0,0,0,0.55)" stroke-width="0.45" stroke-linejoin="round"/>
<polygon points="109.1,443.89 119.46,440.54 119.46,381.03 109.1,384.38" fill="#2168f3" stroke="rgba(0,0,0,0.55)" stroke-width="0.45" stroke-linejoin="round"/>
<polygon points="99.49,378.87 109.1,384.38 119.46,381.03 109.86,375.52" fill="#2168f3" stroke="rgba(0,0,0,0.55)" stroke-width="0.45" stroke-linejoin="round"/>
<polygon points="111.5,445.26 121.1,450.78 121.1,387.31 111.5,381.79" fill="#2168f3" stroke="rgba(0,0,0,0.55)" stroke-width="0.45" stroke-linejoin="round"/>
<polygon points="121.1,450.78 131.47,447.43 131.47,383.96 121.1,387.31" fill="#2168f3" stroke="rgba(0,0,0,0.55)" stroke-width="0.45" stroke-linejoin="round"/>
<polygon points="111.5,381.79 121.1,387.31 131.47,383.96 121.87,378.45" fill="#2168f3" stroke="rgba(0,0,0,0.55)" stroke-width="0.45" stroke-linejoin="round"/>
<polygon points="123.5,452.16 133.11,457.67 133.11,394.2 123.5,388.69" fill="#2168f3" stroke="rgba(0,0,0,0.55)" stroke-width="0.45" stroke-linejoin="round"/>
<polygon points="133.11,457.67 143.47,454.33 143.47,390.86 133.11,394.2" fill="#2168f3" stroke="rgba(0,0,0,0.55)" stroke-width="0.45" stroke-linejoin="round"/>
<polygon points="123.5,388.69 133.11,394.2 143.47,390.86 133.87,385.34" fill="#2168f3" stroke="rgba(0,0,0,0.55)" stroke-width="0.45" stroke-linejoin="round"/>
<polygon points="135.51,459.05 145.11,464.57 145.11,389.99 135.51,384.47" fill="#2168f3" stroke="rgba(0,0,0,0.55)" stroke-width="0.45" stroke-linejoin="round"/>
<polygon points="145.11,464.57 155.48,461.22 155.48,386.64 145.11,389.99" fill="#2168f3" stroke="rgba(0,0,0,0.55)" stroke-width="0.45" stroke-linejoin="round"/>
<polygon points="135.51,384.47 145.11,389.99 155.48,386.64 145.88,381.13" fill="#2168f3" stroke="rgba(0,0,0,0.55)" stroke-width="0.45" stroke-linejoin="round"/>
<polygon points="50.52,421.87 60.12,427.39 60.12,347.65 50.52,342.13" fill="#4746ea" stroke="rgba(0,0,0,0.55)" stroke-width="0.45" stroke-linejoin="round"/>
<polygon points="60.12,427.39 70.49,424.04 70.49,344.3 60.12,347.65" fill="#4746ea" stroke="rgba(0,0,0,0.55)" stroke-width="0.45" stroke-linejoin="round"/>
<polygon points="50.52,342.13 60.12,347.65 70.49,344.3 60.89,338.79" fill="#4746ea" stroke="rgba(0,0,0,0.55)" stroke-width="0.45" stroke-linejoin="round"/>
<polygon points="62.52,428.77 72.13,434.28 72.13,388.66 62.52,383.14" fill="#4746ea" stroke="rgba(0,0,0,0.55)" stroke-width="0.45" stroke-linejoin="round"/>
<polygon points="72.13,434.28 82.5,430.93 82.5,385.31 72.13,388.66" fill="#4746ea" stroke="rgba(0,0,0,0.55)" stroke-width="0.45" stroke-linejoin="round"/>
<polygon points="62.52,383.14 72.13,388.66 82.5,385.31 72.89,379.8" fill="#4746ea" stroke="rgba(0,0,0,0.55)" stroke-width="0.45" stroke-linejoin="round"/>
<polygon points="74.53,435.66 84.13,441.18 84.13,390.79 74.53,385.28" fill="#4746ea" stroke="rgba(0,0,0,0.55)" stroke-width="0.45" stroke-linejoin="round"/>
<polygon points="84.13,441.18 94.5,437.83 94.5,387.45 84.13,390.79" fill="#4746ea" stroke="rgba(0,0,0,0.55)" stroke-width="0.45" stroke-linejoin="round"/>
<polygon points="74.53,385.28 84.13,390.79 94.5,387.45 84.9,381.93" fill="#4746ea" stroke="rgba(0,0,0,0.55)" stroke-width="0.45" stroke-linejoin="round"/>
<polygon points="86.53,442.55 96.14,448.07 96.14,400.47 86.53,394.95" fill="#4746ea" stroke="rgba(0,0,0,0.55)" stroke-width="0.45" stroke-linejoin="round"/>
<polygon points="96.14,448.07 106.51,444.72 106.51,397.12 96.14,400.47" fill="#4746ea" stroke="rgba(0,0,0,0.55)" stroke-width="0.45" stroke-linejoin="round"/>
<polygon points="86.53,394.95 96.14,400.47 106.51,397.12 96.9,391.6" fill="#4746ea" stroke="rgba(0,0,0,0.55)" stroke-width="0.45" stroke-linejoin="round"/>
<polygon points="98.54,449.45 108.14,454.96 108.14,398.63 98.54,393.12" fill="#4746ea" stroke="rgba(0,0,0,0.55)" stroke-width="0.45" stroke-linejoin="round"/>
<polygon points="108.14,454.96 118.51,451.62 118.51,395.29 108.14,398.63" fill="#4746ea" stroke="rgba(0,0,0,0.55)" stroke-width="0.45" stroke-linejoin="round"/>
<polygon points="98.54,393.12 108.14,398.63 118.51,395.29 108.91,389.77" fill="#4746ea" stroke="rgba(0,0,0,0.55)" stroke-width="0.45" stroke-linejoin="round"/>
<polygon points="110.54,456.34 120.15,461.86 120.15,422.19 110.54,416.67" fill="#4746ea" stroke="rgba(0,0,0,0.55)" stroke-width="0.45" stroke-linejoin="round"/>
<polygon points="120.15,461.86 130.52,458.51 130.52,418.84 120.15,422.19" fill="#4746ea" stroke="rgba(0,0,0,0.55)" stroke-width="0.45" stroke-linejoin="round"/>
<polygon points="110.54,416.67 120.15,422.19 130.52,418.84 120.91,413.33" fill="#4746ea" stroke="rgba(0,0,0,0.55)" stroke-width="0.45" stroke-linejoin="round"/>
<polygon points="122.55,463.24 132.15,468.75 132.15,422.73 122.55,417.22" fill="#4746ea" stroke="rgba(0,0,0,0.55)" stroke-width="0.45" stroke-linejoin="round"/>
<polygon points="132.15,468.75 142.52,465.41 142.52,419.39 132.15,422.73" fill="#4746ea" stroke="rgba(0,0,0,0.55)" stroke-width="0.45" stroke-linejoin="round"/>
<polygon points="122.55,417.22 132.15,422.73 142.52,419.39 132.92,413.87" fill="#4746ea" stroke="rgba(0,0,0,0.55)" stroke-width="0.45" stroke-linejoin="round"/>
<polygon points="37.56,426.05 47.16,431.57 47.16,407.37 37.56,401.86" fill="#4525b2" stroke="rgba(0,0,0,0.55)" stroke-width="0.45" stroke-linejoin="round"/>
<polygon points="47.16,431.57 57.53,428.22 57.53,404.02 47.16,407.37" fill="#4525b2" stroke="rgba(0,0,0,0.55)" stroke-width="0.45" stroke-linejoin="round"/>
<polygon points="37.56,401.86 47.16,407.37 57.53,404.02 47.93,398.51" fill="#4525b2" stroke="rgba(0,0,0,0.55)" stroke-width="0.45" stroke-linejoin="round"/>
<polygon points="49.57,432.95 59.17,438.46 59.17,411.09 49.57,405.58" fill="#4525b2" stroke="rgba(0,0,0,0.55)" stroke-width="0.45" stroke-linejoin="round"/>
<polygon points="59.17,438.46 69.54,435.12 69.54,407.75 59.17,411.09" fill="#4525b2" stroke="rgba(0,0,0,0.55)" stroke-width="0.45" stroke-linejoin="round"/>
<polygon points="49.57,405.58 59.17,411.09 69.54,407.75 59.93,402.23" fill="#4525b2" stroke="rgba(0,0,0,0.55)" stroke-width="0.45" stroke-linejoin="round"/>
<polygon points="61.57,439.84 71.17,445.36 71.17,417.59 61.57,412.07" fill="#4525b2" stroke="rgba(0,0,0,0.55)" stroke-width="0.45" stroke-linejoin="round"/>
<polygon points="71.17,445.36 81.54,442.01 81.54,414.24 71.17,417.59" fill="#4525b2" stroke="rgba(0,0,0,0.55)" stroke-width="0.45" stroke-linejoin="round"/>
<polygon points="61.57,412.07 71.17,417.59 81.54,414.24 71.94,408.73" fill="#4525b2" stroke="rgba(0,0,0,0.55)" stroke-width="0.45" stroke-linejoin="round"/>
<polygon points="73.58,446.74 83.18,452.25 83.18,416.95 73.58,411.43" fill="#4525b2" stroke="rgba(0,0,0,0.55)" stroke-width="0.45" stroke-linejoin="round"/>
<polygon points="83.18,452.25 93.55,448.91 93.55,413.6 83.18,416.95" fill="#4525b2" stroke="rgba(0,0,0,0.55)" stroke-width="0.45" stroke-linejoin="round"/>
<polygon points="73.58,411.43 83.18,416.95 93.55,413.6 83.94,408.08" fill="#4525b2" stroke="rgba(0,0,0,0.55)" stroke-width="0.45" stroke-linejoin="round"/>
<polygon points="85.58,453.63 95.18,459.15 95.18,415.51 85.58,409.99" fill="#4525b2" stroke="rgba(0,0,0,0.55)" stroke-width="0.45" stroke-linejoin="round"/>
<polygon points="95.18,459.15 105.55,455.8 105.55,412.16 95.18,415.51" fill="#4525b2" stroke="rgba(0,0,0,0.55)" stroke-width="0.45" stroke-linejoin="round"/>
<polygon points="85.58,409.99 95.18,415.51 105.55,412.16 95.95,406.65" fill="#4525b2" stroke="rgba(0,0,0,0.55)" stroke-width="0.45" stroke-linejoin="round"/>
<polygon points="97.58,460.53 107.19,466.04 107.19,418.44 97.58,412.92" fill="#4525b2" stroke="rgba(0,0,0,0.55)" stroke-width="0.45" stroke-linejoin="round"/>
<polygon points="107.19,466.04 117.56,462.69 117.56,415.09 107.19,418.44" fill="#4525b2" stroke="rgba(0,0,0,0.55)" stroke-width="0.45" stroke-linejoin="round"/>
<polygon points="97.58,412.92 107.19,418.44 117.56,415.09 107.95,409.58" fill="#4525b2" stroke="rgba(0,0,0,0.55)" stroke-width="0.45" stroke-linejoin="round"/>
<polygon points="109.59,467.42 119.19,472.94 119.19,451.51 109.59,446" fill="#4525b2" stroke="rgba(0,0,0,0.55)" stroke-width="0.45" stroke-linejoin="round"/>
<polygon points="119.19,472.94 129.56,469.59 129.56,448.17 119.19,451.51" fill="#4525b2" stroke="rgba(0,0,0,0.55)" stroke-width="0.45" stroke-linejoin="round"/>
<polygon points="109.59,446 119.19,451.51 129.56,448.17 119.96,442.65" fill="#4525b2" stroke="rgba(0,0,0,0.55)" stroke-width="0.45" stroke-linejoin="round"/>
<text x="24.6" y="423.7" font-size="7.4" text-anchor="end" fill="#262626">46.5</text>
<text x="24.6" y="384.03" font-size="7.4" text-anchor="end" fill="#262626">47.5</text>
<text x="24.6" y="344.36" font-size="7.4" text-anchor="end" fill="#262626">48.5</text>
<text x="24.6" y="304.69" font-size="7.4" text-anchor="end" fill="#262626">49.5</text>
<text x="36.96" y="439.31" font-size="7.4" text-anchor="end" fill="#262626">0.001</text>
<text x="48.83" y="446.12" font-size="7.4" text-anchor="end" fill="#262626">0.01</text>
<text x="60.69" y="452.94" font-size="7.4" text-anchor="end" fill="#262626">0.1</text>
<text x="72.55" y="459.75" font-size="7.4" text-anchor="end" fill="#262626">1</text>
<text x="84.41" y="466.56" font-size="7.4" text-anchor="end" fill="#262626">10</text>
<text x="96.28" y="473.38" font-size="7.4" text-anchor="end" fill="#262626">100</text>
<text x="108.14" y="480.19" font-size="7.4" text-anchor="end" fill="#262626">1000</text>
<text x="139.38" y="485.33" font-size="7.4" text-anchor="middle" fill="#262626">8</text>
<text x="152.34" y="481.14" font-size="7.4" text-anchor="middle" fill="#262626">16</text>
<text x="165.3" y="476.96" font-size="7.4" text-anchor="middle" fill="#262626">24</text>
<text x="178.26" y="472.78" font-size="7.4" text-anchor="middle" fill="#262626">32</text>
<text x="191.22" y="468.59" font-size="7.4" text-anchor="middle" fill="#262626">40</text>
<text x="204.18" y="464.41" font-size="7.4" text-anchor="middle" fill="#262626">48</text>
<text x="217.14" y="460.22" font-size="7.4" text-anchor="middle" fill="#262626">56</text>
<text x="230.1" y="456.04" font-size="7.4" text-anchor="middle" fill="#262626">64</text>
<text x="243.06" y="451.86" font-size="7.4" text-anchor="middle" fill="#262626">72</text>
<text x="256.02" y="447.67" font-size="7.4" text-anchor="middle" fill="#262626">80</text>
<text x="7.6" y="363.2" font-size="7.4" text-anchor="middle" fill="#262626" transform="rotate(-90 7.6 363.2)">Accuracy rate</text>
<text x="193.6" y="486.8" font-size="7.4" text-anchor="middle" fill="#262626" transform="rotate(-1.5 193.6 486.8)">Demension</text>
<text x="72" y="483.3" font-size="7.4" text-anchor="middle" fill="#262626">θ</text>
</g>
<g>
<line x1="315.1" y1="421.8" x2="442.1" y2="380.8" stroke="#ebebeb" stroke-width="0.5"/>
<line x1="442.1" y1="380.8" x2="537" y2="435.3" stroke="#ebebeb" stroke-width="0.5"/>
<line x1="315.1" y1="382.13" x2="442.1" y2="341.13" stroke="#ebebeb" stroke-width="0.5"/>
<line x1="442.1" y1="341.13" x2="537" y2="395.63" stroke="#ebebeb" stroke-width="0.5"/>
<line x1="315.1" y1="342.46" x2="442.1" y2="301.46" stroke="#ebebeb" stroke-width="0.5"/>
<line x1="442.1" y1="301.46" x2="537" y2="355.96" stroke="#ebebeb" stroke-width="0.5"/>
<line x1="315.1" y1="302.79" x2="442.1" y2="261.79" stroke="#ebebeb" stroke-width="0.5"/>
<line x1="442.1" y1="261.79" x2="537" y2="316.29" stroke="#ebebeb" stroke-width="0.5"/>
<line x1="320.28" y1="420.13" x2="320.28" y2="301.12" stroke="#ebebeb" stroke-width="0.5"/>
<line x1="333.24" y1="415.94" x2="333.24" y2="296.93" stroke="#ebebeb" stroke-width="0.5"/>
<line x1="346.2" y1="411.76" x2="346.2" y2="292.75" stroke="#ebebeb" stroke-width="0.5"/>
<line x1="359.16" y1="407.58" x2="359.16" y2="288.57" stroke="#ebebeb" stroke-width="0.5"/>
<line x1="372.12" y1="403.39" x2="372.12" y2="284.38" stroke="#ebebeb" stroke-width="0.5"/>
<line x1="385.08" y1="399.21" x2="385.08" y2="280.2" stroke="#ebebeb" stroke-width="0.5"/>
<line x1="398.04" y1="395.02" x2="398.04" y2="276.01" stroke="#ebebeb" stroke-width="0.5"/>
<line x1="411" y1="390.84" x2="411" y2="271.83" stroke="#ebebeb" stroke-width="0.5"/>
<line x1="423.96" y1="386.66" x2="423.96" y2="267.65" stroke="#ebebeb" stroke-width="0.5"/>
<line x1="436.92" y1="382.47" x2="436.92" y2="263.46" stroke="#ebebeb" stroke-width="0.5"/>
<line x1="453.96" y1="387.61" x2="453.96" y2="268.6" stroke="#ebebeb" stroke-width="0.5"/>
<line x1="465.83" y1="394.43" x2="465.83" y2="275.42" stroke="#ebebeb" stroke-width="0.5"/>
<line x1="477.69" y1="401.24" x2="477.69" y2="282.23" stroke="#ebebeb" stroke-width="0.5"/>
<line x1="489.55" y1="408.05" x2="489.55" y2="289.04" stroke="#ebebeb" stroke-width="0.5"/>
<line x1="501.41" y1="414.86" x2="501.41" y2="295.85" stroke="#ebebeb" stroke-width="0.5"/>
<line x1="513.28" y1="421.68" x2="513.28" y2="302.67" stroke="#ebebeb" stroke-width="0.5"/>
<line x1="525.14" y1="428.49" x2="525.14" y2="309.48" stroke="#ebebeb" stroke-width="0.5"/>
<line x1="320.28" y1="420.13" x2="415.18" y2="474.63" stroke="#ebebeb" stroke-width="0.5"/>
<line x1="333.24" y1="415.94" x2="428.14" y2="470.44" stroke="#ebebeb" stroke-width="0.5"/>
<line x1="346.2" y1="411.76" x2="441.1" y2="466.26" stroke="#ebebeb" stroke-width="0.5"/>
<line x1="359.16" y1="407.58" x2="454.06" y2="462.08" stroke="#ebebeb" stroke-width="0.5"/>
<line x1="372.12" y1="403.39" x2="467.02" y2="457.89" stroke="#ebebeb" stroke-width="0.5"/>
<line x1="385.08" y1="399.21" x2="479.98" y2="453.71" stroke="#ebebeb" stroke-width="0.5"/>
<line x1="398.04" y1="395.02" x2="492.94" y2="449.52" stroke="#ebebeb" stroke-width="0.5"/>
<line x1="411" y1="390.84" x2="505.9" y2="445.34" stroke="#ebebeb" stroke-width="0.5"/>
<line x1="423.96" y1="386.66" x2="518.86" y2="441.16" stroke="#ebebeb" stroke-width="0.5"/>
<line x1="436.92" y1="382.47" x2="531.82" y2="436.97" stroke="#ebebeb" stroke-width="0.5"/>
<line x1="326.96" y1="428.61" x2="453.96" y2="387.61" stroke="#ebebeb" stroke-width="0.5"/>
<line x1="338.83" y1="435.43" x2="465.83" y2="394.43" stroke="#ebebeb" stroke-width="0.5"/>
<line x1="350.69" y1="442.24" x2="477.69" y2="401.24" stroke="#ebebeb" stroke-width="0.5"/>
<line x1="362.55" y1="449.05" x2="489.55" y2="408.05" stroke="#ebebeb" stroke-width="0.5"/>
<line x1="374.41" y1="455.86" x2="501.41" y2="414.86" stroke="#ebebeb" stroke-width="0.5"/>
<line x1="386.28" y1="462.68" x2="513.28" y2="421.68" stroke="#ebebeb" stroke-width="0.5"/>
<line x1="398.14" y1="469.49" x2="525.14" y2="428.49" stroke="#ebebeb" stroke-width="0.5"/>
<line x1="315.1" y1="421.8" x2="315.1" y2="302.79" stroke="#6a6a6a" stroke-width="0.55"/>
<line x1="315.1" y1="421.8" x2="410" y2="476.3" stroke="#6a6a6a" stroke-width="0.55"/>
<line x1="410" y1="476.3" x2="537" y2="435.3" stroke="#6a6a6a" stroke-width="0.55"/>
<line x1="315.1" y1="421.8" x2="312.1" y2="421.8" stroke="#6a6a6a" stroke-width="0.55"/>
<line x1="315.1" y1="382.13" x2="312.1" y2="382.13" stroke="#6a6a6a" stroke-width="0.55"/>
<line x1="315.1" y1="342.46" x2="312.1" y2="342.46" stroke="#6a6a6a" stroke-width="0.55"/>
<line x1="315.1" y1="302.79" x2="312.1" y2="302.79" stroke="#6a6a6a" stroke-width="0.55"/>
<line x1="326.96" y1="428.61" x2="323.72" y2="429.66" stroke="#6a6a6a" stroke-width="0.55"/>
<line x1="338.83" y1="435.43" x2="335.59" y2="436.47" stroke="#6a6a6a" stroke-width="0.55"/>
<line x1="350.69" y1="442.24" x2="347.45" y2="443.28" stroke="#6a6a6a" stroke-width="0.55"/>
<line x1="362.55" y1="449.05" x2="359.31" y2="450.1" stroke="#6a6a6a" stroke-width="0.55"/>
<line x1="374.41" y1="455.86" x2="371.17" y2="456.91" stroke="#6a6a6a" stroke-width="0.55"/>
<line x1="386.28" y1="462.68" x2="383.04" y2="463.72" stroke="#6a6a6a" stroke-width="0.55"/>
<line x1="398.14" y1="469.49" x2="394.9" y2="470.53" stroke="#6a6a6a" stroke-width="0.55"/>
<line x1="415.18" y1="474.63" x2="418.15" y2="476.33" stroke="#6a6a6a" stroke-width="0.55"/>
<line x1="428.14" y1="470.44" x2="431.11" y2="472.15" stroke="#6a6a6a" stroke-width="0.55"/>
<line x1="441.1" y1="466.26" x2="444.07" y2="467.96" stroke="#6a6a6a" stroke-width="0.55"/>
<line x1="454.06" y1="462.08" x2="457.03" y2="463.78" stroke="#6a6a6a" stroke-width="0.55"/>
<line x1="467.02" y1="457.89" x2="469.99" y2="459.59" stroke="#6a6a6a" stroke-width="0.55"/>
<line x1="479.98" y1="453.71" x2="482.95" y2="455.41" stroke="#6a6a6a" stroke-width="0.55"/>
<line x1="492.94" y1="449.52" x2="495.9" y2="451.23" stroke="#6a6a6a" stroke-width="0.55"/>
<line x1="505.9" y1="445.34" x2="508.86" y2="447.04" stroke="#6a6a6a" stroke-width="0.55"/>
<line x1="518.86" y1="441.16" x2="521.82" y2="442.86" stroke="#6a6a6a" stroke-width="0.55"/>
<line x1="531.82" y1="436.97" x2="534.78" y2="438.68" stroke="#6a6a6a" stroke-width="0.55"/>
<polygon points="440.19,388.7 449.8,394.22 449.8,310.91 440.19,305.39" fill="#f6f417" stroke="rgba(0,0,0,0.55)" stroke-width="0.45" stroke-linejoin="round"/>
<polygon points="449.8,394.22 460.16,390.87 460.16,307.56 449.8,310.91" fill="#f6f417" stroke="rgba(0,0,0,0.55)" stroke-width="0.45" stroke-linejoin="round"/>
<polygon points="440.19,305.39 449.8,310.91 460.16,307.56 450.56,302.05" fill="#f6f417" stroke="rgba(0,0,0,0.55)" stroke-width="0.45" stroke-linejoin="round"/>
<polygon points="452.2,395.6 461.8,401.11 461.8,316.22 452.2,310.7" fill="#f6f417" stroke="rgba(0,0,0,0.55)" stroke-width="0.45" stroke-linejoin="round"/>
<polygon points="461.8,401.11 472.17,397.76 472.17,312.87 461.8,316.22" fill="#f6f417" stroke="rgba(0,0,0,0.55)" stroke-width="0.45" stroke-linejoin="round"/>
<polygon points="452.2,310.7 461.8,316.22 472.17,312.87 462.57,307.36" fill="#f6f417" stroke="rgba(0,0,0,0.55)" stroke-width="0.45" stroke-linejoin="round"/>
<polygon points="464.2,402.49 473.81,408.01 473.81,320.73 464.2,315.22" fill="#f6f417" stroke="rgba(0,0,0,0.55)" stroke-width="0.45" stroke-linejoin="round"/>
<polygon points="473.81,408.01 484.17,404.66 484.17,317.38 473.81,320.73" fill="#f6f417" stroke="rgba(0,0,0,0.55)" stroke-width="0.45" stroke-linejoin="round"/>
<polygon points="464.2,315.22 473.81,320.73 484.17,317.38 474.57,311.87" fill="#f6f417" stroke="rgba(0,0,0,0.55)" stroke-width="0.45" stroke-linejoin="round"/>
<polygon points="476.21,409.38 485.81,414.9 485.81,323.66 476.21,318.14" fill="#f6f417" stroke="rgba(0,0,0,0.55)" stroke-width="0.45" stroke-linejoin="round"/>
<polygon points="485.81,414.9 496.18,411.55 496.18,320.31 485.81,323.66" fill="#f6f417" stroke="rgba(0,0,0,0.55)" stroke-width="0.45" stroke-linejoin="round"/>
<polygon points="476.21,318.14 485.81,323.66 496.18,320.31 486.58,314.8" fill="#f6f417" stroke="rgba(0,0,0,0.55)" stroke-width="0.45" stroke-linejoin="round"/>
<polygon points="488.21,416.28 497.82,421.79 497.82,344.44 488.21,338.92" fill="#f6f417" stroke="rgba(0,0,0,0.55)" stroke-width="0.45" stroke-linejoin="round"/>
<polygon points="497.82,421.79 508.18,418.45 508.18,341.09 497.82,344.44" fill="#f6f417" stroke="rgba(0,0,0,0.55)" stroke-width="0.45" stroke-linejoin="round"/>
<polygon points="488.21,338.92 497.82,344.44 508.18,341.09 498.58,335.58" fill="#f6f417" stroke="rgba(0,0,0,0.55)" stroke-width="0.45" stroke-linejoin="round"/>
<polygon points="500.22,423.17 509.82,428.69 509.82,349.35 500.22,343.83" fill="#f6f417" stroke="rgba(0,0,0,0.55)" stroke-width="0.45" stroke-linejoin="round"/>
<polygon points="509.82,428.69 520.19,425.34 520.19,346 509.82,349.35" fill="#f6f417" stroke="rgba(0,0,0,0.55)" stroke-width="0.45" stroke-linejoin="round"/>
<polygon points="500.22,343.83 509.82,349.35 520.19,346 510.58,340.49" fill="#f6f417" stroke="rgba(0,0,0,0.55)" stroke-width="0.45" stroke-linejoin="round"/>
<polygon points="512.22,430.07 521.83,435.58 521.83,349.9 512.22,344.38" fill="#f6f417" stroke="rgba(0,0,0,0.55)" stroke-width="0.45" stroke-linejoin="round"/>
<polygon points="521.83,435.58 532.19,432.24 532.19,346.55 521.83,349.9" fill="#f6f417" stroke="rgba(0,0,0,0.55)" stroke-width="0.45" stroke-linejoin="round"/>
<polygon points="512.22,344.38 521.83,349.9 532.19,346.55 522.59,341.03" fill="#f6f417" stroke="rgba(0,0,0,0.55)" stroke-width="0.45" stroke-linejoin="round"/>
<polygon points="427.23,392.89 436.84,398.4 436.84,307.16 427.23,301.64" fill="#fdc628" stroke="rgba(0,0,0,0.55)" stroke-width="0.45" stroke-linejoin="round"/>
<polygon points="436.84,398.4 447.21,395.05 447.21,303.81 436.84,307.16" fill="#fdc628" stroke="rgba(0,0,0,0.55)" stroke-width="0.45" stroke-linejoin="round"/>
<polygon points="427.23,301.64 436.84,307.16 447.21,303.81 437.6,298.3" fill="#fdc628" stroke="rgba(0,0,0,0.55)" stroke-width="0.45" stroke-linejoin="round"/>
<polygon points="439.24,399.78 448.84,405.3 448.84,298.98 439.24,293.46" fill="#fdc628" stroke="rgba(0,0,0,0.55)" stroke-width="0.45" stroke-linejoin="round"/>
<polygon points="448.84,405.3 459.21,401.95 459.21,295.63 448.84,298.98" fill="#fdc628" stroke="rgba(0,0,0,0.55)" stroke-width="0.45" stroke-linejoin="round"/>
<polygon points="439.24,293.46 448.84,298.98 459.21,295.63 449.61,290.12" fill="#fdc628" stroke="rgba(0,0,0,0.55)" stroke-width="0.45" stroke-linejoin="round"/>
<polygon points="451.24,406.67 460.85,412.19 460.85,316.98 451.24,311.47" fill="#fdc628" stroke="rgba(0,0,0,0.55)" stroke-width="0.45" stroke-linejoin="round"/>
<polygon points="460.85,412.19 471.21,408.84 471.21,313.63 460.85,316.98" fill="#fdc628" stroke="rgba(0,0,0,0.55)" stroke-width="0.45" stroke-linejoin="round"/>
<polygon points="451.24,311.47 460.85,316.98 471.21,313.63 461.61,308.12" fill="#fdc628" stroke="rgba(0,0,0,0.55)" stroke-width="0.45" stroke-linejoin="round"/>
<polygon points="463.25,413.57 472.85,419.08 472.85,321.5 463.25,315.98" fill="#fdc628" stroke="rgba(0,0,0,0.55)" stroke-width="0.45" stroke-linejoin="round"/>
<polygon points="472.85,419.08 483.22,415.74 483.22,318.15 472.85,321.5" fill="#fdc628" stroke="rgba(0,0,0,0.55)" stroke-width="0.45" stroke-linejoin="round"/>
<polygon points="463.25,315.98 472.85,321.5 483.22,318.15 473.62,312.63" fill="#fdc628" stroke="rgba(0,0,0,0.55)" stroke-width="0.45" stroke-linejoin="round"/>
<polygon points="475.25,420.46 484.86,425.98 484.86,338.7 475.25,333.19" fill="#fdc628" stroke="rgba(0,0,0,0.55)" stroke-width="0.45" stroke-linejoin="round"/>
<polygon points="484.86,425.98 495.22,422.63 495.22,335.36 484.86,338.7" fill="#fdc628" stroke="rgba(0,0,0,0.55)" stroke-width="0.45" stroke-linejoin="round"/>
<polygon points="475.25,333.19 484.86,338.7 495.22,335.36 485.62,329.84" fill="#fdc628" stroke="rgba(0,0,0,0.55)" stroke-width="0.45" stroke-linejoin="round"/>
<polygon points="487.26,427.36 496.86,432.87 496.86,345.99 487.26,340.48" fill="#fdc628" stroke="rgba(0,0,0,0.55)" stroke-width="0.45" stroke-linejoin="round"/>
<polygon points="496.86,432.87 507.23,429.53 507.23,342.65 496.86,345.99" fill="#fdc628" stroke="rgba(0,0,0,0.55)" stroke-width="0.45" stroke-linejoin="round"/>
<polygon points="487.26,340.48 496.86,345.99 507.23,342.65 497.63,337.13" fill="#fdc628" stroke="rgba(0,0,0,0.55)" stroke-width="0.45" stroke-linejoin="round"/>
<polygon points="499.26,434.25 508.87,439.77 508.87,365.19 499.26,359.67" fill="#fdc628" stroke="rgba(0,0,0,0.55)" stroke-width="0.45" stroke-linejoin="round"/>
<polygon points="508.87,439.77 519.23,436.42 519.23,361.84 508.87,365.19" fill="#fdc628" stroke="rgba(0,0,0,0.55)" stroke-width="0.45" stroke-linejoin="round"/>
<polygon points="499.26,359.67 508.87,365.19 519.23,361.84 509.63,356.32" fill="#fdc628" stroke="rgba(0,0,0,0.55)" stroke-width="0.45" stroke-linejoin="round"/>
<polygon points="414.27,397.07 423.88,402.58 423.88,331.18 414.27,325.66" fill="#e6af1c" stroke="rgba(0,0,0,0.55)" stroke-width="0.45" stroke-linejoin="round"/>
<polygon points="423.88,402.58 434.25,399.24 434.25,327.83 423.88,331.18" fill="#e6af1c" stroke="rgba(0,0,0,0.55)" stroke-width="0.45" stroke-linejoin="round"/>
<polygon points="414.27,325.66 423.88,331.18 434.25,327.83 424.64,322.32" fill="#e6af1c" stroke="rgba(0,0,0,0.55)" stroke-width="0.45" stroke-linejoin="round"/>
<polygon points="426.28,403.96 435.88,409.48 435.88,321.01 426.28,315.5" fill="#e6af1c" stroke="rgba(0,0,0,0.55)" stroke-width="0.45" stroke-linejoin="round"/>
<polygon points="435.88,409.48 446.25,406.13 446.25,317.67 435.88,321.01" fill="#e6af1c" stroke="rgba(0,0,0,0.55)" stroke-width="0.45" stroke-linejoin="round"/>
<polygon points="426.28,315.5 435.88,321.01 446.25,317.67 436.65,312.15" fill="#e6af1c" stroke="rgba(0,0,0,0.55)" stroke-width="0.45" stroke-linejoin="round"/>
<polygon points="438.28,410.86 447.89,416.37 447.89,317.2 438.28,311.68" fill="#e6af1c" stroke="rgba(0,0,0,0.55)" stroke-width="0.45" stroke-linejoin="round"/>
<polygon points="447.89,416.37 458.26,413.03 458.26,313.85 447.89,317.2" fill="#e6af1c" stroke="rgba(0,0,0,0.55)" stroke-width="0.45" stroke-linejoin="round"/>
<polygon points="438.28,311.68 447.89,317.2 458.26,313.85 448.65,308.34" fill="#e6af1c" stroke="rgba(0,0,0,0.55)" stroke-width="0.45" stroke-linejoin="round"/>
<polygon points="450.29,417.75 459.89,423.27 459.89,326.47 450.29,320.96" fill="#e6af1c" stroke="rgba(0,0,0,0.55)" stroke-width="0.45" stroke-linejoin="round"/>
<polygon points="459.89,423.27 470.26,419.92 470.26,323.13 459.89,326.47" fill="#e6af1c" stroke="rgba(0,0,0,0.55)" stroke-width="0.45" stroke-linejoin="round"/>
<polygon points="450.29,320.96 459.89,326.47 470.26,323.13 460.66,317.61" fill="#e6af1c" stroke="rgba(0,0,0,0.55)" stroke-width="0.45" stroke-linejoin="round"/>
<polygon points="462.29,424.65 471.9,430.16 471.9,355.98 462.29,350.46" fill="#e6af1c" stroke="rgba(0,0,0,0.55)" stroke-width="0.45" stroke-linejoin="round"/>
<polygon points="471.9,430.16 482.27,426.81 482.27,352.63 471.9,355.98" fill="#e6af1c" stroke="rgba(0,0,0,0.55)" stroke-width="0.45" stroke-linejoin="round"/>
<polygon points="462.29,350.46 471.9,355.98 482.27,352.63 472.66,347.12" fill="#e6af1c" stroke="rgba(0,0,0,0.55)" stroke-width="0.45" stroke-linejoin="round"/>
<polygon points="474.3,431.54 483.9,437.06 483.9,357.72 474.3,352.2" fill="#e6af1c" stroke="rgba(0,0,0,0.55)" stroke-width="0.45" stroke-linejoin="round"/>
<polygon points="483.9,437.06 494.27,433.71 494.27,354.37 483.9,357.72" fill="#e6af1c" stroke="rgba(0,0,0,0.55)" stroke-width="0.45" stroke-linejoin="round"/>
<polygon points="474.3,352.2 483.9,357.72 494.27,354.37 484.67,348.85" fill="#e6af1c" stroke="rgba(0,0,0,0.55)" stroke-width="0.45" stroke-linejoin="round"/>
<polygon points="486.3,438.43 495.91,443.95 495.91,357.07 486.3,351.56" fill="#e6af1c" stroke="rgba(0,0,0,0.55)" stroke-width="0.45" stroke-linejoin="round"/>
<polygon points="495.91,443.95 506.28,440.6 506.28,353.73 495.91,357.07" fill="#e6af1c" stroke="rgba(0,0,0,0.55)" stroke-width="0.45" stroke-linejoin="round"/>
<polygon points="486.3,351.56 495.91,357.07 506.28,353.73 496.67,348.21" fill="#e6af1c" stroke="rgba(0,0,0,0.55)" stroke-width="0.45" stroke-linejoin="round"/>
<polygon points="401.32,401.25 410.92,406.77 410.92,335.36 401.32,329.85" fill="#55c350" stroke="rgba(0,0,0,0.55)" stroke-width="0.45" stroke-linejoin="round"/>
<polygon points="410.92,406.77 421.29,403.42 421.29,332.02 410.92,335.36" fill="#55c350" stroke="rgba(0,0,0,0.55)" stroke-width="0.45" stroke-linejoin="round"/>
<polygon points="401.32,329.85 410.92,335.36 421.29,332.02 411.68,326.5" fill="#55c350" stroke="rgba(0,0,0,0.55)" stroke-width="0.45" stroke-linejoin="round"/>
<polygon points="413.32,408.15 422.92,413.66 422.92,340.27 413.32,334.76" fill="#55c350" stroke="rgba(0,0,0,0.55)" stroke-width="0.45" stroke-linejoin="round"/>
<polygon points="422.92,413.66 433.29,410.32 433.29,336.93 422.92,340.27" fill="#55c350" stroke="rgba(0,0,0,0.55)" stroke-width="0.45" stroke-linejoin="round"/>
<polygon points="413.32,334.76 422.92,340.27 433.29,336.93 423.69,331.41" fill="#55c350" stroke="rgba(0,0,0,0.55)" stroke-width="0.45" stroke-linejoin="round"/>
<polygon points="425.33,415.04 434.93,420.56 434.93,345.18 425.33,339.67" fill="#55c350" stroke="rgba(0,0,0,0.55)" stroke-width="0.45" stroke-linejoin="round"/>
<polygon points="434.93,420.56 445.3,417.21 445.3,341.84 434.93,345.18" fill="#55c350" stroke="rgba(0,0,0,0.55)" stroke-width="0.45" stroke-linejoin="round"/>
<polygon points="425.33,339.67 434.93,345.18 445.3,341.84 435.69,336.32" fill="#55c350" stroke="rgba(0,0,0,0.55)" stroke-width="0.45" stroke-linejoin="round"/>
<polygon points="437.33,421.94 446.93,427.45 446.93,334.23 437.33,328.71" fill="#55c350" stroke="rgba(0,0,0,0.55)" stroke-width="0.45" stroke-linejoin="round"/>
<polygon points="446.93,427.45 457.3,424.1 457.3,330.88 446.93,334.23" fill="#55c350" stroke="rgba(0,0,0,0.55)" stroke-width="0.45" stroke-linejoin="round"/>
<polygon points="437.33,328.71 446.93,334.23 457.3,330.88 447.7,325.36" fill="#55c350" stroke="rgba(0,0,0,0.55)" stroke-width="0.45" stroke-linejoin="round"/>
<polygon points="449.34,428.83 458.94,434.35 458.94,351.04 449.34,345.52" fill="#55c350" stroke="rgba(0,0,0,0.55)" stroke-width="0.45" stroke-linejoin="round"/>
<polygon points="458.94,434.35 469.31,431 469.31,347.69 458.94,351.04" fill="#55c350" stroke="rgba(0,0,0,0.55)" stroke-width="0.45" stroke-linejoin="round"/>
<polygon points="449.34,345.52 458.94,351.04 469.31,347.69 459.7,342.18" fill="#55c350" stroke="rgba(0,0,0,0.55)" stroke-width="0.45" stroke-linejoin="round"/>
<polygon points="461.34,435.72 470.94,441.24 470.94,357.93 461.34,352.42" fill="#55c350" stroke="rgba(0,0,0,0.55)" stroke-width="0.45" stroke-linejoin="round"/>
<polygon points="470.94,441.24 481.31,437.89 481.31,354.59 470.94,357.93" fill="#55c350" stroke="rgba(0,0,0,0.55)" stroke-width="0.45" stroke-linejoin="round"/>
<polygon points="461.34,352.42 470.94,357.93 481.31,354.59 471.71,349.07" fill="#55c350" stroke="rgba(0,0,0,0.55)" stroke-width="0.45" stroke-linejoin="round"/>
<polygon points="473.34,442.62 482.95,448.13 482.95,351.74 473.34,346.22" fill="#55c350" stroke="rgba(0,0,0,0.55)" stroke-width="0.45" stroke-linejoin="round"/>
<polygon points="482.95,448.13 493.32,444.79 493.32,348.39 482.95,351.74" fill="#55c350" stroke="rgba(0,0,0,0.55)" stroke-width="0.45" stroke-linejoin="round"/>
<polygon points="473.34,346.22 482.95,351.74 493.32,348.39 483.71,342.87" fill="#55c350" stroke="rgba(0,0,0,0.55)" stroke-width="0.45" stroke-linejoin="round"/>
<polygon points="388.36,405.44 397.96,410.95 397.96,342.72 388.36,337.2" fill="#22bf9e" stroke="rgba(0,0,0,0.55)" stroke-width="0.45" stroke-linejoin="round"/>
<polygon points="397.96,410.95 408.33,407.6 408.33,339.37 397.96,342.72" fill="#22bf9e" stroke="rgba(0,0,0,0.55)" stroke-width="0.45" stroke-linejoin="round"/>
<polygon points="388.36,337.2 397.96,342.72 408.33,339.37 398.72,333.86" fill="#22bf9e" stroke="rgba(0,0,0,0.55)" stroke-width="0.45" stroke-linejoin="round"/>
<polygon points="400.36,412.33 409.97,417.85 409.97,338.51 400.36,332.99" fill="#22bf9e" stroke="rgba(0,0,0,0.55)" stroke-width="0.45" stroke-linejoin="round"/>
<polygon points="409.97,417.85 420.33,414.5 420.33,335.16 409.97,338.51" fill="#22bf9e" stroke="rgba(0,0,0,0.55)" stroke-width="0.45" stroke-linejoin="round"/>
<polygon points="400.36,332.99 409.97,338.51 420.33,335.16 410.73,329.64" fill="#22bf9e" stroke="rgba(0,0,0,0.55)" stroke-width="0.45" stroke-linejoin="round"/>
<polygon points="412.37,419.22 421.97,424.74 421.97,348.18 412.37,342.66" fill="#22bf9e" stroke="rgba(0,0,0,0.55)" stroke-width="0.45" stroke-linejoin="round"/>
<polygon points="421.97,424.74 432.34,421.39 432.34,344.83 421.97,348.18" fill="#22bf9e" stroke="rgba(0,0,0,0.55)" stroke-width="0.45" stroke-linejoin="round"/>
<polygon points="412.37,342.66 421.97,348.18 432.34,344.83 422.73,339.31" fill="#22bf9e" stroke="rgba(0,0,0,0.55)" stroke-width="0.45" stroke-linejoin="round"/>
<polygon points="424.37,426.12 433.97,431.63 433.97,353.09 424.37,347.57" fill="#22bf9e" stroke="rgba(0,0,0,0.55)" stroke-width="0.45" stroke-linejoin="round"/>
<polygon points="433.97,431.63 444.34,428.29 444.34,349.74 433.97,353.09" fill="#22bf9e" stroke="rgba(0,0,0,0.55)" stroke-width="0.45" stroke-linejoin="round"/>
<polygon points="424.37,347.57 433.97,353.09 444.34,349.74 434.74,344.23" fill="#22bf9e" stroke="rgba(0,0,0,0.55)" stroke-width="0.45" stroke-linejoin="round"/>
<polygon points="436.38,433.01 445.98,438.53 445.98,363.16 436.38,357.64" fill="#22bf9e" stroke="rgba(0,0,0,0.55)" stroke-width="0.45" stroke-linejoin="round"/>
<polygon points="445.98,438.53 456.35,435.18 456.35,359.81 445.98,363.16" fill="#22bf9e" stroke="rgba(0,0,0,0.55)" stroke-width="0.45" stroke-linejoin="round"/>
<polygon points="436.38,357.64 445.98,363.16 456.35,359.81 446.74,354.29" fill="#22bf9e" stroke="rgba(0,0,0,0.55)" stroke-width="0.45" stroke-linejoin="round"/>
<polygon points="448.38,439.91 457.98,445.42 457.98,370.05 448.38,364.53" fill="#22bf9e" stroke="rgba(0,0,0,0.55)" stroke-width="0.45" stroke-linejoin="round"/>
<polygon points="457.98,445.42 468.35,442.08 468.35,366.7 457.98,370.05" fill="#22bf9e" stroke="rgba(0,0,0,0.55)" stroke-width="0.45" stroke-linejoin="round"/>
<polygon points="448.38,364.53 457.98,370.05 468.35,366.7 458.75,361.19" fill="#22bf9e" stroke="rgba(0,0,0,0.55)" stroke-width="0.45" stroke-linejoin="round"/>
<polygon points="460.39,446.8 469.99,452.32 469.99,369.41 460.39,363.89" fill="#22bf9e" stroke="rgba(0,0,0,0.55)" stroke-width="0.45" stroke-linejoin="round"/>
<polygon points="469.99,452.32 480.36,448.97 480.36,366.06 469.99,369.41" fill="#22bf9e" stroke="rgba(0,0,0,0.55)" stroke-width="0.45" stroke-linejoin="round"/>
<polygon points="460.39,363.89 469.99,369.41 480.36,366.06 470.75,360.54" fill="#22bf9e" stroke="rgba(0,0,0,0.55)" stroke-width="0.45" stroke-linejoin="round"/>
<polygon points="375.4,409.62 385,415.14 385,357.61 375.4,352.1" fill="#0bb0d4" stroke="rgba(0,0,0,0.55)" stroke-width="0.45" stroke-linejoin="round"/>
<polygon points="385,415.14 395.37,411.79 395.37,354.27 385,357.61" fill="#0bb0d4" stroke="rgba(0,0,0,0.55)" stroke-width="0.45" stroke-linejoin="round"/>
<polygon points="375.4,352.1 385,357.61 395.37,354.27 385.76,348.75" fill="#0bb0d4" stroke="rgba(0,0,0,0.55)" stroke-width="0.45" stroke-linejoin="round"/>
<polygon points="387.4,416.51 397.01,422.03 397.01,349.83 387.4,344.31" fill="#0bb0d4" stroke="rgba(0,0,0,0.55)" stroke-width="0.45" stroke-linejoin="round"/>
<polygon points="397.01,422.03 407.37,418.68 407.37,346.48 397.01,349.83" fill="#0bb0d4" stroke="rgba(0,0,0,0.55)" stroke-width="0.45" stroke-linejoin="round"/>
<polygon points="387.4,344.31 397.01,349.83 407.37,346.48 397.77,340.97" fill="#0bb0d4" stroke="rgba(0,0,0,0.55)" stroke-width="0.45" stroke-linejoin="round"/>
<polygon points="399.41,423.41 409.01,428.92 409.01,360.69 399.41,355.18" fill="#0bb0d4" stroke="rgba(0,0,0,0.55)" stroke-width="0.45" stroke-linejoin="round"/>
<polygon points="409.01,428.92 419.38,425.58 419.38,357.34 409.01,360.69" fill="#0bb0d4" stroke="rgba(0,0,0,0.55)" stroke-width="0.45" stroke-linejoin="round"/>
<polygon points="399.41,355.18 409.01,360.69 419.38,357.34 409.77,351.83" fill="#0bb0d4" stroke="rgba(0,0,0,0.55)" stroke-width="0.45" stroke-linejoin="round"/>
<polygon points="411.41,430.3 421.02,435.82 421.02,352.51 411.41,347" fill="#0bb0d4" stroke="rgba(0,0,0,0.55)" stroke-width="0.45" stroke-linejoin="round"/>
<polygon points="421.02,435.82 431.38,432.47 431.38,349.16 421.02,352.51" fill="#0bb0d4" stroke="rgba(0,0,0,0.55)" stroke-width="0.45" stroke-linejoin="round"/>
<polygon points="411.41,347 421.02,352.51 431.38,349.16 421.78,343.65" fill="#0bb0d4" stroke="rgba(0,0,0,0.55)" stroke-width="0.45" stroke-linejoin="round"/>
<polygon points="423.42,437.2 433.02,442.71 433.02,371.31 423.42,365.79" fill="#0bb0d4" stroke="rgba(0,0,0,0.55)" stroke-width="0.45" stroke-linejoin="round"/>
<polygon points="433.02,442.71 443.39,439.37 443.39,367.96 433.02,371.31" fill="#0bb0d4" stroke="rgba(0,0,0,0.55)" stroke-width="0.45" stroke-linejoin="round"/>
<polygon points="423.42,365.79 433.02,371.31 443.39,367.96 433.78,362.44" fill="#0bb0d4" stroke="rgba(0,0,0,0.55)" stroke-width="0.45" stroke-linejoin="round"/>
<polygon points="435.42,444.09 445.03,449.61 445.03,378.2 435.42,372.69" fill="#0bb0d4" stroke="rgba(0,0,0,0.55)" stroke-width="0.45" stroke-linejoin="round"/>
<polygon points="445.03,449.61 455.39,446.26 455.39,374.85 445.03,378.2" fill="#0bb0d4" stroke="rgba(0,0,0,0.55)" stroke-width="0.45" stroke-linejoin="round"/>
<polygon points="435.42,372.69 445.03,378.2 455.39,374.85 445.79,369.34" fill="#0bb0d4" stroke="rgba(0,0,0,0.55)" stroke-width="0.45" stroke-linejoin="round"/>
<polygon points="447.43,450.99 457.03,456.5 457.03,360.9 447.43,355.38" fill="#0bb0d4" stroke="rgba(0,0,0,0.55)" stroke-width="0.45" stroke-linejoin="round"/>
<polygon points="457.03,456.5 467.4,453.15 467.4,357.55 457.03,360.9" fill="#0bb0d4" stroke="rgba(0,0,0,0.55)" stroke-width="0.45" stroke-linejoin="round"/>
<polygon points="447.43,355.38 457.03,360.9 467.4,357.55 457.79,352.03" fill="#0bb0d4" stroke="rgba(0,0,0,0.55)" stroke-width="0.45" stroke-linejoin="round"/>
<polygon points="362.44,413.8 372.04,419.32 372.04,355.85 362.44,350.33" fill="#1e93e4" stroke="rgba(0,0,0,0.55)" stroke-width="0.45" stroke-linejoin="round"/>
<polygon points="372.04,419.32 382.41,415.97 382.41,352.5 372.04,355.85" fill="#1e93e4" stroke="rgba(0,0,0,0.55)" stroke-width="0.45" stroke-linejoin="round"/>
<polygon points="362.44,350.33 372.04,355.85 382.41,352.5 372.81,346.98" fill="#1e93e4" stroke="rgba(0,0,0,0.55)" stroke-width="0.45" stroke-linejoin="round"/>
<polygon points="374.44,420.7 384.05,426.21 384.05,366.71 374.44,361.19" fill="#1e93e4" stroke="rgba(0,0,0,0.55)" stroke-width="0.45" stroke-linejoin="round"/>
<polygon points="384.05,426.21 394.41,422.87 394.41,363.36 384.05,366.71" fill="#1e93e4" stroke="rgba(0,0,0,0.55)" stroke-width="0.45" stroke-linejoin="round"/>
<polygon points="374.44,361.19 384.05,366.71 394.41,363.36 384.81,357.85" fill="#1e93e4" stroke="rgba(0,0,0,0.55)" stroke-width="0.45" stroke-linejoin="round"/>
<polygon points="386.45,427.59 396.05,433.11 396.05,373.6 386.45,368.09" fill="#1e93e4" stroke="rgba(0,0,0,0.55)" stroke-width="0.45" stroke-linejoin="round"/>
<polygon points="396.05,433.11 406.42,429.76 406.42,370.26 396.05,373.6" fill="#1e93e4" stroke="rgba(0,0,0,0.55)" stroke-width="0.45" stroke-linejoin="round"/>
<polygon points="386.45,368.09 396.05,373.6 406.42,370.26 396.82,364.74" fill="#1e93e4" stroke="rgba(0,0,0,0.55)" stroke-width="0.45" stroke-linejoin="round"/>
<polygon points="398.45,434.49 408.06,440 408.06,368.6 398.45,363.08" fill="#1e93e4" stroke="rgba(0,0,0,0.55)" stroke-width="0.45" stroke-linejoin="round"/>
<polygon points="408.06,440 418.42,436.65 418.42,365.25 408.06,368.6" fill="#1e93e4" stroke="rgba(0,0,0,0.55)" stroke-width="0.45" stroke-linejoin="round"/>
<polygon points="398.45,363.08 408.06,368.6 418.42,365.25 408.82,359.73" fill="#1e93e4" stroke="rgba(0,0,0,0.55)" stroke-width="0.45" stroke-linejoin="round"/>
<polygon points="410.46,441.38 420.06,446.9 420.06,387.39 410.46,381.88" fill="#1e93e4" stroke="rgba(0,0,0,0.55)" stroke-width="0.45" stroke-linejoin="round"/>
<polygon points="420.06,446.9 430.43,443.55 430.43,384.04 420.06,387.39" fill="#1e93e4" stroke="rgba(0,0,0,0.55)" stroke-width="0.45" stroke-linejoin="round"/>
<polygon points="410.46,381.88 420.06,387.39 430.43,384.04 420.82,378.53" fill="#1e93e4" stroke="rgba(0,0,0,0.55)" stroke-width="0.45" stroke-linejoin="round"/>
<polygon points="422.46,448.28 432.07,453.79 432.07,398.25 422.46,392.74" fill="#1e93e4" stroke="rgba(0,0,0,0.55)" stroke-width="0.45" stroke-linejoin="round"/>
<polygon points="432.07,453.79 442.43,450.44 442.43,394.91 432.07,398.25" fill="#1e93e4" stroke="rgba(0,0,0,0.55)" stroke-width="0.45" stroke-linejoin="round"/>
<polygon points="422.46,392.74 432.07,398.25 442.43,394.91 432.83,389.39" fill="#1e93e4" stroke="rgba(0,0,0,0.55)" stroke-width="0.45" stroke-linejoin="round"/>
<polygon points="434.47,455.17 444.07,460.68 444.07,381.34 434.47,375.83" fill="#1e93e4" stroke="rgba(0,0,0,0.55)" stroke-width="0.45" stroke-linejoin="round"/>
<polygon points="444.07,460.68 454.44,457.34 454.44,378 444.07,381.34" fill="#1e93e4" stroke="rgba(0,0,0,0.55)" stroke-width="0.45" stroke-linejoin="round"/>
<polygon points="434.47,375.83 444.07,381.34 454.44,378 444.83,372.48" fill="#1e93e4" stroke="rgba(0,0,0,0.55)" stroke-width="0.45" stroke-linejoin="round"/>
<polygon points="349.48,417.99 359.08,423.5 359.08,379.87 349.48,374.35" fill="#2168f3" stroke="rgba(0,0,0,0.55)" stroke-width="0.45" stroke-linejoin="round"/>
<polygon points="359.08,423.5 369.45,420.16 369.45,376.52 359.08,379.87" fill="#2168f3" stroke="rgba(0,0,0,0.55)" stroke-width="0.45" stroke-linejoin="round"/>
<polygon points="349.48,374.35 359.08,379.87 369.45,376.52 359.85,371" fill="#2168f3" stroke="rgba(0,0,0,0.55)" stroke-width="0.45" stroke-linejoin="round"/>
<polygon points="361.48,424.88 371.09,430.4 371.09,355.82 361.48,350.3" fill="#2168f3" stroke="rgba(0,0,0,0.55)" stroke-width="0.45" stroke-linejoin="round"/>
<polygon points="371.09,430.4 381.46,427.05 381.46,352.47 371.09,355.82" fill="#2168f3" stroke="rgba(0,0,0,0.55)" stroke-width="0.45" stroke-linejoin="round"/>
<polygon points="361.48,350.3 371.09,355.82 381.46,352.47 371.85,346.96" fill="#2168f3" stroke="rgba(0,0,0,0.55)" stroke-width="0.45" stroke-linejoin="round"/>
<polygon points="373.49,431.78 383.09,437.29 383.09,377.79 373.49,372.27" fill="#2168f3" stroke="rgba(0,0,0,0.55)" stroke-width="0.45" stroke-linejoin="round"/>
<polygon points="383.09,437.29 393.46,433.94 393.46,374.44 383.09,377.79" fill="#2168f3" stroke="rgba(0,0,0,0.55)" stroke-width="0.45" stroke-linejoin="round"/>
<polygon points="373.49,372.27 383.09,377.79 393.46,374.44 383.86,368.92" fill="#2168f3" stroke="rgba(0,0,0,0.55)" stroke-width="0.45" stroke-linejoin="round"/>
<polygon points="385.49,438.67 395.1,444.19 395.1,368.81 385.49,363.3" fill="#2168f3" stroke="rgba(0,0,0,0.55)" stroke-width="0.45" stroke-linejoin="round"/>
<polygon points="395.1,444.19 405.46,440.84 405.46,365.47 395.1,368.81" fill="#2168f3" stroke="rgba(0,0,0,0.55)" stroke-width="0.45" stroke-linejoin="round"/>
<polygon points="385.49,363.3 395.1,368.81 405.46,365.47 395.86,359.95" fill="#2168f3" stroke="rgba(0,0,0,0.55)" stroke-width="0.45" stroke-linejoin="round"/>
<polygon points="397.5,445.56 407.1,451.08 407.1,395.54 397.5,390.03" fill="#2168f3" stroke="rgba(0,0,0,0.55)" stroke-width="0.45" stroke-linejoin="round"/>
<polygon points="407.1,451.08 417.47,447.73 417.47,392.19 407.1,395.54" fill="#2168f3" stroke="rgba(0,0,0,0.55)" stroke-width="0.45" stroke-linejoin="round"/>
<polygon points="397.5,390.03 407.1,395.54 417.47,392.19 407.87,386.68" fill="#2168f3" stroke="rgba(0,0,0,0.55)" stroke-width="0.45" stroke-linejoin="round"/>
<polygon points="409.5,452.46 419.11,457.97 419.11,396.88 409.5,391.37" fill="#2168f3" stroke="rgba(0,0,0,0.55)" stroke-width="0.45" stroke-linejoin="round"/>
<polygon points="419.11,457.97 429.47,454.63 429.47,393.54 419.11,396.88" fill="#2168f3" stroke="rgba(0,0,0,0.55)" stroke-width="0.45" stroke-linejoin="round"/>
<polygon points="409.5,391.37 419.11,396.88 429.47,393.54 419.87,388.02" fill="#2168f3" stroke="rgba(0,0,0,0.55)" stroke-width="0.45" stroke-linejoin="round"/>
<polygon points="421.51,459.35 431.11,464.87 431.11,400.21 421.51,394.69" fill="#2168f3" stroke="rgba(0,0,0,0.55)" stroke-width="0.45" stroke-linejoin="round"/>
<polygon points="431.11,464.87 441.48,461.52 441.48,396.86 431.11,400.21" fill="#2168f3" stroke="rgba(0,0,0,0.55)" stroke-width="0.45" stroke-linejoin="round"/>
<polygon points="421.51,394.69 431.11,400.21 441.48,396.86 431.88,391.34" fill="#2168f3" stroke="rgba(0,0,0,0.55)" stroke-width="0.45" stroke-linejoin="round"/>
<polygon points="336.52,422.17 346.12,427.69 346.12,381.27 336.52,375.76" fill="#4746ea" stroke="rgba(0,0,0,0.55)" stroke-width="0.45" stroke-linejoin="round"/>
<polygon points="346.12,427.69 356.49,424.34 356.49,377.93 346.12,381.27" fill="#4746ea" stroke="rgba(0,0,0,0.55)" stroke-width="0.45" stroke-linejoin="round"/>
<polygon points="336.52,375.76 346.12,381.27 356.49,377.93 346.89,372.41" fill="#4746ea" stroke="rgba(0,0,0,0.55)" stroke-width="0.45" stroke-linejoin="round"/>
<polygon points="348.52,429.07 358.13,434.58 358.13,388.17 348.52,382.65" fill="#4746ea" stroke="rgba(0,0,0,0.55)" stroke-width="0.45" stroke-linejoin="round"/>
<polygon points="358.13,434.58 368.5,431.23 368.5,384.82 358.13,388.17" fill="#4746ea" stroke="rgba(0,0,0,0.55)" stroke-width="0.45" stroke-linejoin="round"/>
<polygon points="348.52,382.65 358.13,388.17 368.5,384.82 358.89,379.3" fill="#4746ea" stroke="rgba(0,0,0,0.55)" stroke-width="0.45" stroke-linejoin="round"/>
<polygon points="360.53,435.96 370.13,441.48 370.13,401.81 360.53,396.29" fill="#4746ea" stroke="rgba(0,0,0,0.55)" stroke-width="0.45" stroke-linejoin="round"/>
<polygon points="370.13,441.48 380.5,438.13 380.5,398.46 370.13,401.81" fill="#4746ea" stroke="rgba(0,0,0,0.55)" stroke-width="0.45" stroke-linejoin="round"/>
<polygon points="360.53,396.29 370.13,401.81 380.5,398.46 370.9,392.94" fill="#4746ea" stroke="rgba(0,0,0,0.55)" stroke-width="0.45" stroke-linejoin="round"/>
<polygon points="372.53,442.85 382.14,448.37 382.14,367.44 372.53,361.93" fill="#4746ea" stroke="rgba(0,0,0,0.55)" stroke-width="0.45" stroke-linejoin="round"/>
<polygon points="382.14,448.37 392.51,445.02 392.51,364.1 382.14,367.44" fill="#4746ea" stroke="rgba(0,0,0,0.55)" stroke-width="0.45" stroke-linejoin="round"/>
<polygon points="372.53,361.93 382.14,367.44 392.51,364.1 382.9,358.58" fill="#4746ea" stroke="rgba(0,0,0,0.55)" stroke-width="0.45" stroke-linejoin="round"/>
<polygon points="384.54,449.75 394.14,455.26 394.14,419.56 384.54,414.05" fill="#4746ea" stroke="rgba(0,0,0,0.55)" stroke-width="0.45" stroke-linejoin="round"/>
<polygon points="394.14,455.26 404.51,451.92 404.51,416.21 394.14,419.56" fill="#4746ea" stroke="rgba(0,0,0,0.55)" stroke-width="0.45" stroke-linejoin="round"/>
<polygon points="384.54,414.05 394.14,419.56 404.51,416.21 394.91,410.7" fill="#4746ea" stroke="rgba(0,0,0,0.55)" stroke-width="0.45" stroke-linejoin="round"/>
<polygon points="396.54,456.64 406.15,462.16 406.15,430.42 396.54,424.91" fill="#4746ea" stroke="rgba(0,0,0,0.55)" stroke-width="0.45" stroke-linejoin="round"/>
<polygon points="406.15,462.16 416.52,458.81 416.52,427.07 406.15,430.42" fill="#4746ea" stroke="rgba(0,0,0,0.55)" stroke-width="0.45" stroke-linejoin="round"/>
<polygon points="396.54,424.91 406.15,430.42 416.52,427.07 406.91,421.56" fill="#4746ea" stroke="rgba(0,0,0,0.55)" stroke-width="0.45" stroke-linejoin="round"/>
<polygon points="408.55,463.54 418.15,469.05 418.15,411.93 408.55,406.41" fill="#4746ea" stroke="rgba(0,0,0,0.55)" stroke-width="0.45" stroke-linejoin="round"/>
<polygon points="418.15,469.05 428.52,465.71 428.52,408.58 418.15,411.93" fill="#4746ea" stroke="rgba(0,0,0,0.55)" stroke-width="0.45" stroke-linejoin="round"/>
<polygon points="408.55,406.41 418.15,411.93 428.52,408.58 418.92,403.06" fill="#4746ea" stroke="rgba(0,0,0,0.55)" stroke-width="0.45" stroke-linejoin="round"/>
<polygon points="323.56,426.35 333.16,431.87 333.16,405.29 323.56,399.78" fill="#4525b2" stroke="rgba(0,0,0,0.55)" stroke-width="0.45" stroke-linejoin="round"/>
<polygon points="333.16,431.87 343.53,428.52 343.53,401.94 333.16,405.29" fill="#4525b2" stroke="rgba(0,0,0,0.55)" stroke-width="0.45" stroke-linejoin="round"/>
<polygon points="323.56,399.78 333.16,405.29 343.53,401.94 333.93,396.43" fill="#4525b2" stroke="rgba(0,0,0,0.55)" stroke-width="0.45" stroke-linejoin="round"/>
<polygon points="335.57,433.25 345.17,438.76 345.17,403.85 335.57,398.34" fill="#4525b2" stroke="rgba(0,0,0,0.55)" stroke-width="0.45" stroke-linejoin="round"/>
<polygon points="345.17,438.76 355.54,435.42 355.54,400.51 345.17,403.85" fill="#4525b2" stroke="rgba(0,0,0,0.55)" stroke-width="0.45" stroke-linejoin="round"/>
<polygon points="335.57,398.34 345.17,403.85 355.54,400.51 345.93,394.99" fill="#4525b2" stroke="rgba(0,0,0,0.55)" stroke-width="0.45" stroke-linejoin="round"/>
<polygon points="347.57,440.14 357.17,445.66 357.17,416.7 347.57,411.18" fill="#4525b2" stroke="rgba(0,0,0,0.55)" stroke-width="0.45" stroke-linejoin="round"/>
<polygon points="357.17,445.66 367.54,442.31 367.54,413.35 357.17,416.7" fill="#4525b2" stroke="rgba(0,0,0,0.55)" stroke-width="0.45" stroke-linejoin="round"/>
<polygon points="347.57,411.18 357.17,416.7 367.54,413.35 357.94,407.84" fill="#4525b2" stroke="rgba(0,0,0,0.55)" stroke-width="0.45" stroke-linejoin="round"/>
<polygon points="359.58,447.04 369.18,452.55 369.18,427.56 359.58,422.05" fill="#4525b2" stroke="rgba(0,0,0,0.55)" stroke-width="0.45" stroke-linejoin="round"/>
<polygon points="369.18,452.55 379.55,449.21 379.55,424.21 369.18,427.56" fill="#4525b2" stroke="rgba(0,0,0,0.55)" stroke-width="0.45" stroke-linejoin="round"/>
<polygon points="359.58,422.05 369.18,427.56 379.55,424.21 369.94,418.7" fill="#4525b2" stroke="rgba(0,0,0,0.55)" stroke-width="0.45" stroke-linejoin="round"/>
<polygon points="371.58,453.93 381.18,459.45 381.18,443.58 371.58,438.06" fill="#4525b2" stroke="rgba(0,0,0,0.55)" stroke-width="0.45" stroke-linejoin="round"/>
<polygon points="381.18,459.45 391.55,456.1 391.55,440.23 381.18,443.58" fill="#4525b2" stroke="rgba(0,0,0,0.55)" stroke-width="0.45" stroke-linejoin="round"/>
<polygon points="371.58,438.06 381.18,443.58 391.55,440.23 381.95,434.72" fill="#4525b2" stroke="rgba(0,0,0,0.55)" stroke-width="0.45" stroke-linejoin="round"/>
<polygon points="383.58,460.83 393.19,466.34 393.19,434.61 383.58,429.09" fill="#4525b2" stroke="rgba(0,0,0,0.55)" stroke-width="0.45" stroke-linejoin="round"/>
<polygon points="393.19,466.34 403.56,462.99 403.56,431.26 393.19,434.61" fill="#4525b2" stroke="rgba(0,0,0,0.55)" stroke-width="0.45" stroke-linejoin="round"/>
<polygon points="383.58,429.09 393.19,434.61 403.56,431.26 393.95,425.74" fill="#4525b2" stroke="rgba(0,0,0,0.55)" stroke-width="0.45" stroke-linejoin="round"/>
<polygon points="395.59,467.72 405.19,473.24 405.19,425.63 395.59,420.12" fill="#4525b2" stroke="rgba(0,0,0,0.55)" stroke-width="0.45" stroke-linejoin="round"/>
<polygon points="405.19,473.24 415.56,469.89 415.56,422.28 405.19,425.63" fill="#4525b2" stroke="rgba(0,0,0,0.55)" stroke-width="0.45" stroke-linejoin="round"/>
<polygon points="395.59,420.12 405.19,425.63 415.56,422.28 405.96,416.77" fill="#4525b2" stroke="rgba(0,0,0,0.55)" stroke-width="0.45" stroke-linejoin="round"/>
<text x="310.6" y="424" font-size="7.4" text-anchor="end" fill="#262626">46.5</text>
<text x="310.6" y="384.33" font-size="7.4" text-anchor="end" fill="#262626">47.5</text>
<text x="310.6" y="344.66" font-size="7.4" text-anchor="end" fill="#262626">48.5</text>
<text x="310.6" y="304.99" font-size="7.4" text-anchor="end" fill="#262626">49.5</text>
<text x="322.96" y="439.61" font-size="7.4" text-anchor="end" fill="#262626">0.001</text>
<text x="334.83" y="446.43" font-size="7.4" text-anchor="end" fill="#262626">0.01</text>
<text x="346.69" y="453.24" font-size="7.4" text-anchor="end" fill="#262626">0.1</text>
<text x="358.55" y="460.05" font-size="7.4" text-anchor="end" fill="#262626">1</text>
<text x="370.41" y="466.86" font-size="7.4" text-anchor="end" fill="#262626">10</text>
<text x="382.28" y="473.68" font-size="7.4" text-anchor="end" fill="#262626">100</text>
<text x="394.14" y="480.49" font-size="7.4" text-anchor="end" fill="#262626">1000</text>
<text x="425.38" y="485.63" font-size="7.4" text-anchor="middle" fill="#262626">8</text>
<text x="438.34" y="481.44" font-size="7.4" text-anchor="middle" fill="#262626">16</text>
<text x="451.3" y="477.26" font-size="7.4" text-anchor="middle" fill="#262626">24</text>
<text x="464.26" y="473.08" font-size="7.4" text-anchor="middle" fill="#262626">32</text>
<text x="477.22" y="468.89" font-size="7.4" text-anchor="middle" fill="#262626">40</text>
<text x="490.18" y="464.71" font-size="7.4" text-anchor="middle" fill="#262626">48</text>
<text x="503.14" y="460.52" font-size="7.4" text-anchor="middle" fill="#262626">56</text>
<text x="516.1" y="456.34" font-size="7.4" text-anchor="middle" fill="#262626">64</text>
<text x="529.06" y="452.16" font-size="7.4" text-anchor="middle" fill="#262626">72</text>
<text x="542.02" y="447.97" font-size="7.4" text-anchor="middle" fill="#262626">80</text>
<text x="293.6" y="363.5" font-size="7.4" text-anchor="middle" fill="#262626" transform="rotate(-90 293.6 363.5)">Accuracy rate</text>
<text x="479.6" y="487.1" font-size="7.4" text-anchor="middle" fill="#262626" transform="rotate(-1.5 479.6 487.1)">Demension</text>
<text x="358" y="483.6" font-size="7.4" text-anchor="middle" fill="#262626">λ</text>
</g>
<g>
<line x1="31.3" y1="677.8" x2="155.6" y2="638.5" stroke="#ebebeb" stroke-width="0.5"/>
<line x1="155.6" y1="638.5" x2="249.8" y2="692.3" stroke="#ebebeb" stroke-width="0.5"/>
<line x1="31.3" y1="649" x2="155.6" y2="609.7" stroke="#ebebeb" stroke-width="0.5"/>
<line x1="155.6" y1="609.7" x2="249.8" y2="663.5" stroke="#ebebeb" stroke-width="0.5"/>
<line x1="31.3" y1="620.2" x2="155.6" y2="580.9" stroke="#ebebeb" stroke-width="0.5"/>
<line x1="155.6" y1="580.9" x2="249.8" y2="634.7" stroke="#ebebeb" stroke-width="0.5"/>
<line x1="31.3" y1="591.4" x2="155.6" y2="552.1" stroke="#ebebeb" stroke-width="0.5"/>
<line x1="155.6" y1="552.1" x2="249.8" y2="605.9" stroke="#ebebeb" stroke-width="0.5"/>
<line x1="31.3" y1="562.6" x2="155.6" y2="523.3" stroke="#ebebeb" stroke-width="0.5"/>
<line x1="155.6" y1="523.3" x2="249.8" y2="577.1" stroke="#ebebeb" stroke-width="0.5"/>
<line x1="36.37" y1="676.2" x2="36.37" y2="561" stroke="#ebebeb" stroke-width="0.5"/>
<line x1="49.06" y1="672.19" x2="49.06" y2="556.99" stroke="#ebebeb" stroke-width="0.5"/>
<line x1="61.74" y1="668.18" x2="61.74" y2="552.98" stroke="#ebebeb" stroke-width="0.5"/>
<line x1="74.42" y1="664.17" x2="74.42" y2="548.97" stroke="#ebebeb" stroke-width="0.5"/>
<line x1="87.11" y1="660.16" x2="87.11" y2="544.96" stroke="#ebebeb" stroke-width="0.5"/>
<line x1="99.79" y1="656.14" x2="99.79" y2="540.94" stroke="#ebebeb" stroke-width="0.5"/>
<line x1="112.48" y1="652.13" x2="112.48" y2="536.93" stroke="#ebebeb" stroke-width="0.5"/>
<line x1="125.16" y1="648.12" x2="125.16" y2="532.92" stroke="#ebebeb" stroke-width="0.5"/>
<line x1="137.84" y1="644.11" x2="137.84" y2="528.91" stroke="#ebebeb" stroke-width="0.5"/>
<line x1="150.53" y1="640.1" x2="150.53" y2="524.9" stroke="#ebebeb" stroke-width="0.5"/>
<line x1="167.38" y1="645.23" x2="167.38" y2="530.02" stroke="#ebebeb" stroke-width="0.5"/>
<line x1="179.15" y1="651.95" x2="179.15" y2="536.75" stroke="#ebebeb" stroke-width="0.5"/>
<line x1="190.93" y1="658.67" x2="190.93" y2="543.47" stroke="#ebebeb" stroke-width="0.5"/>
<line x1="202.7" y1="665.4" x2="202.7" y2="550.2" stroke="#ebebeb" stroke-width="0.5"/>
<line x1="214.47" y1="672.12" x2="214.47" y2="556.92" stroke="#ebebeb" stroke-width="0.5"/>
<line x1="226.25" y1="678.85" x2="226.25" y2="563.65" stroke="#ebebeb" stroke-width="0.5"/>
<line x1="238.02" y1="685.58" x2="238.02" y2="570.38" stroke="#ebebeb" stroke-width="0.5"/>
<line x1="36.37" y1="676.2" x2="130.57" y2="730" stroke="#ebebeb" stroke-width="0.5"/>
<line x1="49.06" y1="672.19" x2="143.26" y2="725.99" stroke="#ebebeb" stroke-width="0.5"/>
<line x1="61.74" y1="668.18" x2="155.94" y2="721.98" stroke="#ebebeb" stroke-width="0.5"/>
<line x1="74.42" y1="664.17" x2="168.62" y2="717.97" stroke="#ebebeb" stroke-width="0.5"/>
<line x1="87.11" y1="660.16" x2="181.31" y2="713.96" stroke="#ebebeb" stroke-width="0.5"/>
<line x1="99.79" y1="656.14" x2="193.99" y2="709.94" stroke="#ebebeb" stroke-width="0.5"/>
<line x1="112.48" y1="652.13" x2="206.68" y2="705.93" stroke="#ebebeb" stroke-width="0.5"/>
<line x1="125.16" y1="648.12" x2="219.36" y2="701.92" stroke="#ebebeb" stroke-width="0.5"/>
<line x1="137.84" y1="644.11" x2="232.04" y2="697.91" stroke="#ebebeb" stroke-width="0.5"/>
<line x1="150.53" y1="640.1" x2="244.73" y2="693.9" stroke="#ebebeb" stroke-width="0.5"/>
<line x1="43.08" y1="684.52" x2="167.38" y2="645.23" stroke="#ebebeb" stroke-width="0.5"/>
<line x1="54.85" y1="691.25" x2="179.15" y2="651.95" stroke="#ebebeb" stroke-width="0.5"/>
<line x1="66.62" y1="697.97" x2="190.93" y2="658.67" stroke="#ebebeb" stroke-width="0.5"/>
<line x1="78.4" y1="704.7" x2="202.7" y2="665.4" stroke="#ebebeb" stroke-width="0.5"/>
<line x1="90.17" y1="711.42" x2="214.47" y2="672.12" stroke="#ebebeb" stroke-width="0.5"/>
<line x1="101.95" y1="718.15" x2="226.25" y2="678.85" stroke="#ebebeb" stroke-width="0.5"/>
<line x1="113.72" y1="724.88" x2="238.02" y2="685.58" stroke="#ebebeb" stroke-width="0.5"/>
<line x1="31.3" y1="677.8" x2="31.3" y2="562.6" stroke="#6a6a6a" stroke-width="0.55"/>
<line x1="31.3" y1="677.8" x2="125.5" y2="731.6" stroke="#6a6a6a" stroke-width="0.55"/>
<line x1="125.5" y1="731.6" x2="249.8" y2="692.3" stroke="#6a6a6a" stroke-width="0.55"/>
<line x1="31.3" y1="677.8" x2="28.3" y2="677.8" stroke="#6a6a6a" stroke-width="0.55"/>
<line x1="31.3" y1="649" x2="28.3" y2="649" stroke="#6a6a6a" stroke-width="0.55"/>
<line x1="31.3" y1="620.2" x2="28.3" y2="620.2" stroke="#6a6a6a" stroke-width="0.55"/>
<line x1="31.3" y1="591.4" x2="28.3" y2="591.4" stroke="#6a6a6a" stroke-width="0.55"/>
<line x1="31.3" y1="562.6" x2="28.3" y2="562.6" stroke="#6a6a6a" stroke-width="0.55"/>
<line x1="43.08" y1="684.52" x2="39.9" y2="685.53" stroke="#6a6a6a" stroke-width="0.55"/>
<line x1="54.85" y1="691.25" x2="51.68" y2="692.25" stroke="#6a6a6a" stroke-width="0.55"/>
<line x1="66.62" y1="697.97" x2="63.45" y2="698.98" stroke="#6a6a6a" stroke-width="0.55"/>
<line x1="78.4" y1="704.7" x2="75.23" y2="705.7" stroke="#6a6a6a" stroke-width="0.55"/>
<line x1="90.17" y1="711.42" x2="87" y2="712.43" stroke="#6a6a6a" stroke-width="0.55"/>
<line x1="101.95" y1="718.15" x2="98.78" y2="719.15" stroke="#6a6a6a" stroke-width="0.55"/>
<line x1="113.72" y1="724.88" x2="110.55" y2="725.88" stroke="#6a6a6a" stroke-width="0.55"/>
<line x1="130.57" y1="730" x2="133.52" y2="731.68" stroke="#6a6a6a" stroke-width="0.55"/>
<line x1="143.26" y1="725.99" x2="146.2" y2="727.67" stroke="#6a6a6a" stroke-width="0.55"/>
<line x1="155.94" y1="721.98" x2="158.88" y2="723.66" stroke="#6a6a6a" stroke-width="0.55"/>
<line x1="168.62" y1="717.97" x2="171.57" y2="719.65" stroke="#6a6a6a" stroke-width="0.55"/>
<line x1="181.31" y1="713.96" x2="184.25" y2="715.64" stroke="#6a6a6a" stroke-width="0.55"/>
<line x1="193.99" y1="709.94" x2="196.94" y2="711.63" stroke="#6a6a6a" stroke-width="0.55"/>
<line x1="206.68" y1="705.93" x2="209.62" y2="707.62" stroke="#6a6a6a" stroke-width="0.55"/>
<line x1="219.36" y1="701.92" x2="222.3" y2="703.61" stroke="#6a6a6a" stroke-width="0.55"/>
<line x1="232.04" y1="697.91" x2="234.99" y2="699.6" stroke="#6a6a6a" stroke-width="0.55"/>
<line x1="244.73" y1="693.9" x2="247.67" y2="695.59" stroke="#6a6a6a" stroke-width="0.55"/>
<polygon points="153.86,646.21 163.39,651.66 163.39,579.66 153.86,574.21" fill="#f6f417" stroke="rgba(0,0,0,0.55)" stroke-width="0.45" stroke-linejoin="round"/>
<polygon points="163.39,651.66 173.54,648.45 173.54,576.45 163.39,579.66" fill="#f6f417" stroke="rgba(0,0,0,0.55)" stroke-width="0.45" stroke-linejoin="round"/>
<polygon points="153.86,574.21 163.39,579.66 173.54,576.45 164.01,571" fill="#f6f417" stroke="rgba(0,0,0,0.55)" stroke-width="0.45" stroke-linejoin="round"/>
<polygon points="165.78,653.02 175.31,658.46 175.31,583.58 165.78,578.14" fill="#f6f417" stroke="rgba(0,0,0,0.55)" stroke-width="0.45" stroke-linejoin="round"/>
<polygon points="175.31,658.46 185.46,655.25 185.46,580.37 175.31,583.58" fill="#f6f417" stroke="rgba(0,0,0,0.55)" stroke-width="0.45" stroke-linejoin="round"/>
<polygon points="165.78,578.14 175.31,583.58 185.46,580.37 175.92,574.93" fill="#f6f417" stroke="rgba(0,0,0,0.55)" stroke-width="0.45" stroke-linejoin="round"/>
<polygon points="177.69,659.82 187.23,665.27 187.23,571.09 177.69,565.65" fill="#f6f417" stroke="rgba(0,0,0,0.55)" stroke-width="0.45" stroke-linejoin="round"/>
<polygon points="187.23,665.27 197.37,662.06 197.37,567.88 187.23,571.09" fill="#f6f417" stroke="rgba(0,0,0,0.55)" stroke-width="0.45" stroke-linejoin="round"/>
<polygon points="177.69,565.65 187.23,571.09 197.37,567.88 187.84,562.44" fill="#f6f417" stroke="rgba(0,0,0,0.55)" stroke-width="0.45" stroke-linejoin="round"/>
<polygon points="189.61,666.63 199.14,672.07 199.14,590.28 189.61,584.84" fill="#f6f417" stroke="rgba(0,0,0,0.55)" stroke-width="0.45" stroke-linejoin="round"/>
<polygon points="199.14,672.07 209.29,668.86 209.29,587.07 199.14,590.28" fill="#f6f417" stroke="rgba(0,0,0,0.55)" stroke-width="0.45" stroke-linejoin="round"/>
<polygon points="189.61,584.84 199.14,590.28 209.29,587.07 199.76,581.63" fill="#f6f417" stroke="rgba(0,0,0,0.55)" stroke-width="0.45" stroke-linejoin="round"/>
<polygon points="201.53,673.43 211.06,678.88 211.06,612.93 201.53,607.48" fill="#f6f417" stroke="rgba(0,0,0,0.55)" stroke-width="0.45" stroke-linejoin="round"/>
<polygon points="211.06,678.88 221.21,675.67 221.21,609.72 211.06,612.93" fill="#f6f417" stroke="rgba(0,0,0,0.55)" stroke-width="0.45" stroke-linejoin="round"/>
<polygon points="201.53,607.48 211.06,612.93 221.21,609.72 211.67,604.27" fill="#f6f417" stroke="rgba(0,0,0,0.55)" stroke-width="0.45" stroke-linejoin="round"/>
<polygon points="213.44,680.24 222.98,685.68 222.98,629.81 213.44,624.37" fill="#f6f417" stroke="rgba(0,0,0,0.55)" stroke-width="0.45" stroke-linejoin="round"/>
<polygon points="222.98,685.68 233.12,682.48 233.12,626.6 222.98,629.81" fill="#f6f417" stroke="rgba(0,0,0,0.55)" stroke-width="0.45" stroke-linejoin="round"/>
<polygon points="213.44,624.37 222.98,629.81 233.12,626.6 223.59,621.16" fill="#f6f417" stroke="rgba(0,0,0,0.55)" stroke-width="0.45" stroke-linejoin="round"/>
<polygon points="225.36,687.05 234.89,692.49 234.89,637.77 225.36,632.33" fill="#f6f417" stroke="rgba(0,0,0,0.55)" stroke-width="0.45" stroke-linejoin="round"/>
<polygon points="234.89,692.49 245.04,689.28 245.04,634.56 234.89,637.77" fill="#f6f417" stroke="rgba(0,0,0,0.55)" stroke-width="0.45" stroke-linejoin="round"/>
<polygon points="225.36,632.33 234.89,637.77 245.04,634.56 235.51,629.12" fill="#f6f417" stroke="rgba(0,0,0,0.55)" stroke-width="0.45" stroke-linejoin="round"/>
<polygon points="141.18,650.22 150.71,655.67 150.71,586.55 141.18,581.1" fill="#fdc628" stroke="rgba(0,0,0,0.55)" stroke-width="0.45" stroke-linejoin="round"/>
<polygon points="150.71,655.67 160.86,652.46 160.86,583.34 150.71,586.55" fill="#fdc628" stroke="rgba(0,0,0,0.55)" stroke-width="0.45" stroke-linejoin="round"/>
<polygon points="141.18,581.1 150.71,586.55 160.86,583.34 151.32,577.89" fill="#fdc628" stroke="rgba(0,0,0,0.55)" stroke-width="0.45" stroke-linejoin="round"/>
<polygon points="153.09,657.03 162.63,662.47 162.63,590.47 153.09,585.03" fill="#fdc628" stroke="rgba(0,0,0,0.55)" stroke-width="0.45" stroke-linejoin="round"/>
<polygon points="162.63,662.47 172.77,659.26 172.77,587.26 162.63,590.47" fill="#fdc628" stroke="rgba(0,0,0,0.55)" stroke-width="0.45" stroke-linejoin="round"/>
<polygon points="153.09,585.03 162.63,590.47 172.77,587.26 163.24,581.82" fill="#fdc628" stroke="rgba(0,0,0,0.55)" stroke-width="0.45" stroke-linejoin="round"/>
<polygon points="165.01,663.83 174.54,669.28 174.54,577.12 165.01,571.67" fill="#fdc628" stroke="rgba(0,0,0,0.55)" stroke-width="0.45" stroke-linejoin="round"/>
<polygon points="174.54,669.28 184.69,666.07 184.69,573.91 174.54,577.12" fill="#fdc628" stroke="rgba(0,0,0,0.55)" stroke-width="0.45" stroke-linejoin="round"/>
<polygon points="165.01,571.67 174.54,577.12 184.69,573.91 175.16,568.46" fill="#fdc628" stroke="rgba(0,0,0,0.55)" stroke-width="0.45" stroke-linejoin="round"/>
<polygon points="176.93,670.64 186.46,676.08 186.46,597.46 176.93,592.01" fill="#fdc628" stroke="rgba(0,0,0,0.55)" stroke-width="0.45" stroke-linejoin="round"/>
<polygon points="186.46,676.08 196.61,672.87 196.61,594.25 186.46,597.46" fill="#fdc628" stroke="rgba(0,0,0,0.55)" stroke-width="0.45" stroke-linejoin="round"/>
<polygon points="176.93,592.01 186.46,597.46 196.61,594.25 187.07,588.81" fill="#fdc628" stroke="rgba(0,0,0,0.55)" stroke-width="0.45" stroke-linejoin="round"/>
<polygon points="188.84,677.44 198.38,682.89 198.38,617.51 188.84,612.07" fill="#fdc628" stroke="rgba(0,0,0,0.55)" stroke-width="0.45" stroke-linejoin="round"/>
<polygon points="198.38,682.89 208.52,679.68 208.52,614.3 198.38,617.51" fill="#fdc628" stroke="rgba(0,0,0,0.55)" stroke-width="0.45" stroke-linejoin="round"/>
<polygon points="188.84,612.07 198.38,617.51 208.52,614.3 198.99,608.86" fill="#fdc628" stroke="rgba(0,0,0,0.55)" stroke-width="0.45" stroke-linejoin="round"/>
<polygon points="200.76,684.25 210.29,689.69 210.29,632.96 200.76,627.51" fill="#fdc628" stroke="rgba(0,0,0,0.55)" stroke-width="0.45" stroke-linejoin="round"/>
<polygon points="210.29,689.69 220.44,686.49 220.44,629.75 210.29,632.96" fill="#fdc628" stroke="rgba(0,0,0,0.55)" stroke-width="0.45" stroke-linejoin="round"/>
<polygon points="200.76,627.51 210.29,632.96 220.44,629.75 210.91,624.31" fill="#fdc628" stroke="rgba(0,0,0,0.55)" stroke-width="0.45" stroke-linejoin="round"/>
<polygon points="212.68,691.06 222.21,696.5 222.21,643.51 212.68,638.06" fill="#fdc628" stroke="rgba(0,0,0,0.55)" stroke-width="0.45" stroke-linejoin="round"/>
<polygon points="222.21,696.5 232.36,693.29 232.36,640.3 222.21,643.51" fill="#fdc628" stroke="rgba(0,0,0,0.55)" stroke-width="0.45" stroke-linejoin="round"/>
<polygon points="212.68,638.06 222.21,643.51 232.36,640.3 222.82,634.86" fill="#fdc628" stroke="rgba(0,0,0,0.55)" stroke-width="0.45" stroke-linejoin="round"/>
<polygon points="128.49,654.23 138.03,659.68 138.03,593.44 128.49,587.99" fill="#e6af1c" stroke="rgba(0,0,0,0.55)" stroke-width="0.45" stroke-linejoin="round"/>
<polygon points="138.03,659.68 148.17,656.47 148.17,590.23 138.03,593.44" fill="#e6af1c" stroke="rgba(0,0,0,0.55)" stroke-width="0.45" stroke-linejoin="round"/>
<polygon points="128.49,587.99 138.03,593.44 148.17,590.23 138.64,584.78" fill="#e6af1c" stroke="rgba(0,0,0,0.55)" stroke-width="0.45" stroke-linejoin="round"/>
<polygon points="140.41,661.04 149.94,666.48 149.94,597.36 140.41,591.92" fill="#e6af1c" stroke="rgba(0,0,0,0.55)" stroke-width="0.45" stroke-linejoin="round"/>
<polygon points="149.94,666.48 160.09,663.27 160.09,594.15 149.94,597.36" fill="#e6af1c" stroke="rgba(0,0,0,0.55)" stroke-width="0.45" stroke-linejoin="round"/>
<polygon points="140.41,591.92 149.94,597.36 160.09,594.15 150.56,588.71" fill="#e6af1c" stroke="rgba(0,0,0,0.55)" stroke-width="0.45" stroke-linejoin="round"/>
<polygon points="152.33,667.84 161.86,673.29 161.86,577.38 152.33,571.94" fill="#e6af1c" stroke="rgba(0,0,0,0.55)" stroke-width="0.45" stroke-linejoin="round"/>
<polygon points="161.86,673.29 172.01,670.08 172.01,574.18 161.86,577.38" fill="#e6af1c" stroke="rgba(0,0,0,0.55)" stroke-width="0.45" stroke-linejoin="round"/>
<polygon points="152.33,571.94 161.86,577.38 172.01,574.18 162.47,568.73" fill="#e6af1c" stroke="rgba(0,0,0,0.55)" stroke-width="0.45" stroke-linejoin="round"/>
<polygon points="164.24,674.65 173.78,680.09 173.78,596.86 164.24,591.42" fill="#e6af1c" stroke="rgba(0,0,0,0.55)" stroke-width="0.45" stroke-linejoin="round"/>
<polygon points="173.78,680.09 183.92,676.88 183.92,593.65 173.78,596.86" fill="#e6af1c" stroke="rgba(0,0,0,0.55)" stroke-width="0.45" stroke-linejoin="round"/>
<polygon points="164.24,591.42 173.78,596.86 183.92,593.65 174.39,588.21" fill="#e6af1c" stroke="rgba(0,0,0,0.55)" stroke-width="0.45" stroke-linejoin="round"/>
<polygon points="176.16,681.45 185.69,686.9 185.69,627.28 176.16,621.84" fill="#e6af1c" stroke="rgba(0,0,0,0.55)" stroke-width="0.45" stroke-linejoin="round"/>
<polygon points="185.69,686.9 195.84,683.69 195.84,624.07 185.69,627.28" fill="#e6af1c" stroke="rgba(0,0,0,0.55)" stroke-width="0.45" stroke-linejoin="round"/>
<polygon points="176.16,621.84 185.69,627.28 195.84,624.07 186.31,618.63" fill="#e6af1c" stroke="rgba(0,0,0,0.55)" stroke-width="0.45" stroke-linejoin="round"/>
<polygon points="188.08,688.26 197.61,693.7 197.61,635.24 188.08,629.8" fill="#e6af1c" stroke="rgba(0,0,0,0.55)" stroke-width="0.45" stroke-linejoin="round"/>
<polygon points="197.61,693.7 207.76,690.5 207.76,632.03 197.61,635.24" fill="#e6af1c" stroke="rgba(0,0,0,0.55)" stroke-width="0.45" stroke-linejoin="round"/>
<polygon points="188.08,629.8 197.61,635.24 207.76,632.03 198.22,626.59" fill="#e6af1c" stroke="rgba(0,0,0,0.55)" stroke-width="0.45" stroke-linejoin="round"/>
<polygon points="199.99,695.07 209.53,700.51 209.53,647.23 199.99,641.79" fill="#e6af1c" stroke="rgba(0,0,0,0.55)" stroke-width="0.45" stroke-linejoin="round"/>
<polygon points="209.53,700.51 219.67,697.3 219.67,644.02 209.53,647.23" fill="#e6af1c" stroke="rgba(0,0,0,0.55)" stroke-width="0.45" stroke-linejoin="round"/>
<polygon points="199.99,641.79 209.53,647.23 219.67,644.02 210.14,638.58" fill="#e6af1c" stroke="rgba(0,0,0,0.55)" stroke-width="0.45" stroke-linejoin="round"/>
<polygon points="115.81,658.24 125.34,663.69 125.34,594.57 115.81,589.12" fill="#55c350" stroke="rgba(0,0,0,0.55)" stroke-width="0.45" stroke-linejoin="round"/>
<polygon points="125.34,663.69 135.49,660.48 135.49,591.36 125.34,594.57" fill="#55c350" stroke="rgba(0,0,0,0.55)" stroke-width="0.45" stroke-linejoin="round"/>
<polygon points="115.81,589.12 125.34,594.57 135.49,591.36 125.96,585.91" fill="#55c350" stroke="rgba(0,0,0,0.55)" stroke-width="0.45" stroke-linejoin="round"/>
<polygon points="127.73,665.05 137.26,670.49 137.26,595.61 127.73,590.17" fill="#55c350" stroke="rgba(0,0,0,0.55)" stroke-width="0.45" stroke-linejoin="round"/>
<polygon points="137.26,670.49 147.41,667.28 147.41,592.4 137.26,595.61" fill="#55c350" stroke="rgba(0,0,0,0.55)" stroke-width="0.45" stroke-linejoin="round"/>
<polygon points="127.73,590.17 137.26,595.61 147.41,592.4 137.87,586.96" fill="#55c350" stroke="rgba(0,0,0,0.55)" stroke-width="0.45" stroke-linejoin="round"/>
<polygon points="139.64,671.85 149.18,677.3 149.18,587.44 139.64,582" fill="#55c350" stroke="rgba(0,0,0,0.55)" stroke-width="0.45" stroke-linejoin="round"/>
<polygon points="149.18,677.3 159.32,674.09 159.32,584.23 149.18,587.44" fill="#55c350" stroke="rgba(0,0,0,0.55)" stroke-width="0.45" stroke-linejoin="round"/>
<polygon points="139.64,582 149.18,587.44 159.32,584.23 149.79,578.79" fill="#55c350" stroke="rgba(0,0,0,0.55)" stroke-width="0.45" stroke-linejoin="round"/>
<polygon points="151.56,678.66 161.09,684.1 161.09,589.64 151.56,584.19" fill="#55c350" stroke="rgba(0,0,0,0.55)" stroke-width="0.45" stroke-linejoin="round"/>
<polygon points="161.09,684.1 171.24,680.89 171.24,586.43 161.09,589.64" fill="#55c350" stroke="rgba(0,0,0,0.55)" stroke-width="0.45" stroke-linejoin="round"/>
<polygon points="151.56,584.19 161.09,589.64 171.24,586.43 161.71,580.99" fill="#55c350" stroke="rgba(0,0,0,0.55)" stroke-width="0.45" stroke-linejoin="round"/>
<polygon points="163.48,685.46 173.01,690.91 173.01,628.99 163.48,623.54" fill="#55c350" stroke="rgba(0,0,0,0.55)" stroke-width="0.45" stroke-linejoin="round"/>
<polygon points="173.01,690.91 183.16,687.7 183.16,625.78 173.01,628.99" fill="#55c350" stroke="rgba(0,0,0,0.55)" stroke-width="0.45" stroke-linejoin="round"/>
<polygon points="163.48,623.54 173.01,628.99 183.16,625.78 173.62,620.34" fill="#55c350" stroke="rgba(0,0,0,0.55)" stroke-width="0.45" stroke-linejoin="round"/>
<polygon points="175.39,692.27 184.93,697.71 184.93,638.67 175.39,633.23" fill="#55c350" stroke="rgba(0,0,0,0.55)" stroke-width="0.45" stroke-linejoin="round"/>
<polygon points="184.93,697.71 195.07,694.51 195.07,635.47 184.93,638.67" fill="#55c350" stroke="rgba(0,0,0,0.55)" stroke-width="0.45" stroke-linejoin="round"/>
<polygon points="175.39,633.23 184.93,638.67 195.07,635.47 185.54,630.02" fill="#55c350" stroke="rgba(0,0,0,0.55)" stroke-width="0.45" stroke-linejoin="round"/>
<polygon points="187.31,699.08 196.84,704.52 196.84,648.36 187.31,642.92" fill="#55c350" stroke="rgba(0,0,0,0.55)" stroke-width="0.45" stroke-linejoin="round"/>
<polygon points="196.84,704.52 206.99,701.31 206.99,645.15 196.84,648.36" fill="#55c350" stroke="rgba(0,0,0,0.55)" stroke-width="0.45" stroke-linejoin="round"/>
<polygon points="187.31,642.92 196.84,648.36 206.99,645.15 197.46,639.71" fill="#55c350" stroke="rgba(0,0,0,0.55)" stroke-width="0.45" stroke-linejoin="round"/>
<polygon points="103.13,662.25 112.66,667.7 112.66,587.06 103.13,581.61" fill="#22bf9e" stroke="rgba(0,0,0,0.55)" stroke-width="0.45" stroke-linejoin="round"/>
<polygon points="112.66,667.7 122.81,664.49 122.81,583.85 112.66,587.06" fill="#22bf9e" stroke="rgba(0,0,0,0.55)" stroke-width="0.45" stroke-linejoin="round"/>
<polygon points="103.13,581.61 112.66,587.06 122.81,583.85 113.27,578.4" fill="#22bf9e" stroke="rgba(0,0,0,0.55)" stroke-width="0.45" stroke-linejoin="round"/>
<polygon points="115.04,669.06 124.58,674.5 124.58,584.07 115.04,578.63" fill="#22bf9e" stroke="rgba(0,0,0,0.55)" stroke-width="0.45" stroke-linejoin="round"/>
<polygon points="124.58,674.5 134.72,671.29 134.72,580.86 124.58,584.07" fill="#22bf9e" stroke="rgba(0,0,0,0.55)" stroke-width="0.45" stroke-linejoin="round"/>
<polygon points="115.04,578.63 124.58,584.07 134.72,580.86 125.19,575.42" fill="#22bf9e" stroke="rgba(0,0,0,0.55)" stroke-width="0.45" stroke-linejoin="round"/>
<polygon points="126.96,675.86 136.49,681.31 136.49,588 126.96,582.55" fill="#22bf9e" stroke="rgba(0,0,0,0.55)" stroke-width="0.45" stroke-linejoin="round"/>
<polygon points="136.49,681.31 146.64,678.1 146.64,584.79 136.49,588" fill="#22bf9e" stroke="rgba(0,0,0,0.55)" stroke-width="0.45" stroke-linejoin="round"/>
<polygon points="126.96,582.55 136.49,588 146.64,584.79 137.11,579.34" fill="#22bf9e" stroke="rgba(0,0,0,0.55)" stroke-width="0.45" stroke-linejoin="round"/>
<polygon points="138.88,682.67 148.41,688.11 148.41,598.83 138.88,593.39" fill="#22bf9e" stroke="rgba(0,0,0,0.55)" stroke-width="0.45" stroke-linejoin="round"/>
<polygon points="148.41,688.11 158.56,684.91 158.56,595.63 148.41,598.83" fill="#22bf9e" stroke="rgba(0,0,0,0.55)" stroke-width="0.45" stroke-linejoin="round"/>
<polygon points="138.88,593.39 148.41,598.83 158.56,595.63 149.02,590.18" fill="#22bf9e" stroke="rgba(0,0,0,0.55)" stroke-width="0.45" stroke-linejoin="round"/>
<polygon points="150.79,689.47 160.33,694.92 160.33,628.68 150.79,623.23" fill="#22bf9e" stroke="rgba(0,0,0,0.55)" stroke-width="0.45" stroke-linejoin="round"/>
<polygon points="160.33,694.92 170.47,691.71 170.47,625.47 160.33,628.68" fill="#22bf9e" stroke="rgba(0,0,0,0.55)" stroke-width="0.45" stroke-linejoin="round"/>
<polygon points="150.79,623.23 160.33,628.68 170.47,625.47 160.94,620.03" fill="#22bf9e" stroke="rgba(0,0,0,0.55)" stroke-width="0.45" stroke-linejoin="round"/>
<polygon points="162.71,696.28 172.24,701.72 172.24,644.12 162.71,638.68" fill="#22bf9e" stroke="rgba(0,0,0,0.55)" stroke-width="0.45" stroke-linejoin="round"/>
<polygon points="172.24,701.72 182.39,698.52 182.39,640.92 172.24,644.12" fill="#22bf9e" stroke="rgba(0,0,0,0.55)" stroke-width="0.45" stroke-linejoin="round"/>
<polygon points="162.71,638.68 172.24,644.12 182.39,640.92 172.86,635.47" fill="#22bf9e" stroke="rgba(0,0,0,0.55)" stroke-width="0.45" stroke-linejoin="round"/>
<polygon points="174.62,703.09 184.16,708.53 184.16,648.05 174.62,642.61" fill="#22bf9e" stroke="rgba(0,0,0,0.55)" stroke-width="0.45" stroke-linejoin="round"/>
<polygon points="184.16,708.53 194.3,705.32 194.3,644.84 184.16,648.05" fill="#22bf9e" stroke="rgba(0,0,0,0.55)" stroke-width="0.45" stroke-linejoin="round"/>
<polygon points="174.62,642.61 184.16,648.05 194.3,644.84 184.77,639.4" fill="#22bf9e" stroke="rgba(0,0,0,0.55)" stroke-width="0.45" stroke-linejoin="round"/>
<polygon points="90.44,666.26 99.98,671.71 99.98,593.95 90.44,588.5" fill="#0bb0d4" stroke="rgba(0,0,0,0.55)" stroke-width="0.45" stroke-linejoin="round"/>
<polygon points="99.98,671.71 110.12,668.5 110.12,590.74 99.98,593.95" fill="#0bb0d4" stroke="rgba(0,0,0,0.55)" stroke-width="0.45" stroke-linejoin="round"/>
<polygon points="90.44,588.5 99.98,593.95 110.12,590.74 100.59,585.29" fill="#0bb0d4" stroke="rgba(0,0,0,0.55)" stroke-width="0.45" stroke-linejoin="round"/>
<polygon points="102.36,673.07 111.89,678.51 111.89,594.99 102.36,589.55" fill="#0bb0d4" stroke="rgba(0,0,0,0.55)" stroke-width="0.45" stroke-linejoin="round"/>
<polygon points="111.89,678.51 122.04,675.3 122.04,591.78 111.89,594.99" fill="#0bb0d4" stroke="rgba(0,0,0,0.55)" stroke-width="0.45" stroke-linejoin="round"/>
<polygon points="102.36,589.55 111.89,594.99 122.04,591.78 112.51,586.34" fill="#0bb0d4" stroke="rgba(0,0,0,0.55)" stroke-width="0.45" stroke-linejoin="round"/>
<polygon points="114.28,679.87 123.81,685.32 123.81,589.13 114.28,583.68" fill="#0bb0d4" stroke="rgba(0,0,0,0.55)" stroke-width="0.45" stroke-linejoin="round"/>
<polygon points="123.81,685.32 133.96,682.11 133.96,585.92 123.81,589.13" fill="#0bb0d4" stroke="rgba(0,0,0,0.55)" stroke-width="0.45" stroke-linejoin="round"/>
<polygon points="114.28,583.68 123.81,589.13 133.96,585.92 124.42,580.47" fill="#0bb0d4" stroke="rgba(0,0,0,0.55)" stroke-width="0.45" stroke-linejoin="round"/>
<polygon points="126.19,686.68 135.73,692.12 135.73,620.12 126.19,614.68" fill="#0bb0d4" stroke="rgba(0,0,0,0.55)" stroke-width="0.45" stroke-linejoin="round"/>
<polygon points="135.73,692.12 145.87,688.92 145.87,616.92 135.73,620.12" fill="#0bb0d4" stroke="rgba(0,0,0,0.55)" stroke-width="0.45" stroke-linejoin="round"/>
<polygon points="126.19,614.68 135.73,620.12 145.87,616.92 136.34,611.47" fill="#0bb0d4" stroke="rgba(0,0,0,0.55)" stroke-width="0.45" stroke-linejoin="round"/>
<polygon points="138.11,693.48 147.64,698.93 147.64,632.4 138.11,626.96" fill="#0bb0d4" stroke="rgba(0,0,0,0.55)" stroke-width="0.45" stroke-linejoin="round"/>
<polygon points="147.64,698.93 157.79,695.72 157.79,629.19 147.64,632.4" fill="#0bb0d4" stroke="rgba(0,0,0,0.55)" stroke-width="0.45" stroke-linejoin="round"/>
<polygon points="138.11,626.96 147.64,632.4 157.79,629.19 148.26,623.75" fill="#0bb0d4" stroke="rgba(0,0,0,0.55)" stroke-width="0.45" stroke-linejoin="round"/>
<polygon points="150.02,700.29 159.56,705.73 159.56,648.13 150.02,642.69" fill="#0bb0d4" stroke="rgba(0,0,0,0.55)" stroke-width="0.45" stroke-linejoin="round"/>
<polygon points="159.56,705.73 169.7,702.53 169.7,644.93 159.56,648.13" fill="#0bb0d4" stroke="rgba(0,0,0,0.55)" stroke-width="0.45" stroke-linejoin="round"/>
<polygon points="150.02,642.69 159.56,648.13 169.7,644.93 160.17,639.48" fill="#0bb0d4" stroke="rgba(0,0,0,0.55)" stroke-width="0.45" stroke-linejoin="round"/>
<polygon points="161.94,707.1 171.47,712.54 171.47,650.33 161.94,644.89" fill="#0bb0d4" stroke="rgba(0,0,0,0.55)" stroke-width="0.45" stroke-linejoin="round"/>
<polygon points="171.47,712.54 181.62,709.33 181.62,647.12 171.47,650.33" fill="#0bb0d4" stroke="rgba(0,0,0,0.55)" stroke-width="0.45" stroke-linejoin="round"/>
<polygon points="161.94,644.89 171.47,650.33 181.62,647.12 172.09,641.68" fill="#0bb0d4" stroke="rgba(0,0,0,0.55)" stroke-width="0.45" stroke-linejoin="round"/>
<polygon points="77.76,670.27 87.29,675.72 87.29,597.96 77.76,592.51" fill="#1e93e4" stroke="rgba(0,0,0,0.55)" stroke-width="0.45" stroke-linejoin="round"/>
<polygon points="87.29,675.72 97.44,672.51 97.44,594.75 87.29,597.96" fill="#1e93e4" stroke="rgba(0,0,0,0.55)" stroke-width="0.45" stroke-linejoin="round"/>
<polygon points="77.76,592.51 87.29,597.96 97.44,594.75 87.91,589.3" fill="#1e93e4" stroke="rgba(0,0,0,0.55)" stroke-width="0.45" stroke-linejoin="round"/>
<polygon points="89.68,677.08 99.21,682.52 99.21,596.12 89.68,590.68" fill="#1e93e4" stroke="rgba(0,0,0,0.55)" stroke-width="0.45" stroke-linejoin="round"/>
<polygon points="99.21,682.52 109.36,679.31 109.36,592.91 99.21,596.12" fill="#1e93e4" stroke="rgba(0,0,0,0.55)" stroke-width="0.45" stroke-linejoin="round"/>
<polygon points="89.68,590.68 99.21,596.12 109.36,592.91 99.82,587.47" fill="#1e93e4" stroke="rgba(0,0,0,0.55)" stroke-width="0.45" stroke-linejoin="round"/>
<polygon points="101.59,683.88 111.13,689.33 111.13,589.68 101.59,584.24" fill="#1e93e4" stroke="rgba(0,0,0,0.55)" stroke-width="0.45" stroke-linejoin="round"/>
<polygon points="111.13,689.33 121.27,686.12 121.27,586.47 111.13,589.68" fill="#1e93e4" stroke="rgba(0,0,0,0.55)" stroke-width="0.45" stroke-linejoin="round"/>
<polygon points="101.59,584.24 111.13,589.68 121.27,586.47 111.74,581.03" fill="#1e93e4" stroke="rgba(0,0,0,0.55)" stroke-width="0.45" stroke-linejoin="round"/>
<polygon points="113.51,690.69 123.04,696.13 123.04,617.51 113.51,612.07" fill="#1e93e4" stroke="rgba(0,0,0,0.55)" stroke-width="0.45" stroke-linejoin="round"/>
<polygon points="123.04,696.13 133.19,692.93 133.19,614.3 123.04,617.51" fill="#1e93e4" stroke="rgba(0,0,0,0.55)" stroke-width="0.45" stroke-linejoin="round"/>
<polygon points="113.51,612.07 123.04,617.51 133.19,614.3 123.66,608.86" fill="#1e93e4" stroke="rgba(0,0,0,0.55)" stroke-width="0.45" stroke-linejoin="round"/>
<polygon points="125.42,697.49 134.96,702.94 134.96,639.87 125.42,634.42" fill="#1e93e4" stroke="rgba(0,0,0,0.55)" stroke-width="0.45" stroke-linejoin="round"/>
<polygon points="134.96,702.94 145.1,699.73 145.1,636.66 134.96,639.87" fill="#1e93e4" stroke="rgba(0,0,0,0.55)" stroke-width="0.45" stroke-linejoin="round"/>
<polygon points="125.42,634.42 134.96,639.87 145.1,636.66 135.57,631.21" fill="#1e93e4" stroke="rgba(0,0,0,0.55)" stroke-width="0.45" stroke-linejoin="round"/>
<polygon points="137.34,704.3 146.87,709.75 146.87,655.31 137.34,649.87" fill="#1e93e4" stroke="rgba(0,0,0,0.55)" stroke-width="0.45" stroke-linejoin="round"/>
<polygon points="146.87,709.75 157.02,706.54 157.02,652.11 146.87,655.31" fill="#1e93e4" stroke="rgba(0,0,0,0.55)" stroke-width="0.45" stroke-linejoin="round"/>
<polygon points="137.34,649.87 146.87,655.31 157.02,652.11 147.49,646.66" fill="#1e93e4" stroke="rgba(0,0,0,0.55)" stroke-width="0.45" stroke-linejoin="round"/>
<polygon points="149.26,711.11 158.79,716.55 158.79,665.57 149.26,660.13" fill="#1e93e4" stroke="rgba(0,0,0,0.55)" stroke-width="0.45" stroke-linejoin="round"/>
<polygon points="158.79,716.55 168.94,713.34 168.94,662.37 158.79,665.57" fill="#1e93e4" stroke="rgba(0,0,0,0.55)" stroke-width="0.45" stroke-linejoin="round"/>
<polygon points="149.26,660.13 158.79,665.57 168.94,662.37 159.4,656.92" fill="#1e93e4" stroke="rgba(0,0,0,0.55)" stroke-width="0.45" stroke-linejoin="round"/>
<polygon points="65.08,674.28 74.61,679.73 74.61,608.3 65.08,602.86" fill="#2168f3" stroke="rgba(0,0,0,0.55)" stroke-width="0.45" stroke-linejoin="round"/>
<polygon points="74.61,679.73 84.76,676.52 84.76,605.09 74.61,608.3" fill="#2168f3" stroke="rgba(0,0,0,0.55)" stroke-width="0.45" stroke-linejoin="round"/>
<polygon points="65.08,602.86 74.61,608.3 84.76,605.09 75.22,599.65" fill="#2168f3" stroke="rgba(0,0,0,0.55)" stroke-width="0.45" stroke-linejoin="round"/>
<polygon points="76.99,681.09 86.53,686.53 86.53,604.74 76.99,599.3" fill="#2168f3" stroke="rgba(0,0,0,0.55)" stroke-width="0.45" stroke-linejoin="round"/>
<polygon points="86.53,686.53 96.67,683.32 96.67,601.53 86.53,604.74" fill="#2168f3" stroke="rgba(0,0,0,0.55)" stroke-width="0.45" stroke-linejoin="round"/>
<polygon points="76.99,599.3 86.53,604.74 96.67,601.53 87.14,596.09" fill="#2168f3" stroke="rgba(0,0,0,0.55)" stroke-width="0.45" stroke-linejoin="round"/>
<polygon points="88.91,687.89 98.44,693.34 98.44,602.62 88.91,597.17" fill="#2168f3" stroke="rgba(0,0,0,0.55)" stroke-width="0.45" stroke-linejoin="round"/>
<polygon points="98.44,693.34 108.59,690.13 108.59,599.41 98.44,602.62" fill="#2168f3" stroke="rgba(0,0,0,0.55)" stroke-width="0.45" stroke-linejoin="round"/>
<polygon points="88.91,597.17 98.44,602.62 108.59,599.41 99.06,593.97" fill="#2168f3" stroke="rgba(0,0,0,0.55)" stroke-width="0.45" stroke-linejoin="round"/>
<polygon points="100.82,694.7 110.36,700.14 110.36,629.87 100.82,624.43" fill="#2168f3" stroke="rgba(0,0,0,0.55)" stroke-width="0.45" stroke-linejoin="round"/>
<polygon points="110.36,700.14 120.5,696.94 120.5,626.66 110.36,629.87" fill="#2168f3" stroke="rgba(0,0,0,0.55)" stroke-width="0.45" stroke-linejoin="round"/>
<polygon points="100.82,624.43 110.36,629.87 120.5,626.66 110.97,621.22" fill="#2168f3" stroke="rgba(0,0,0,0.55)" stroke-width="0.45" stroke-linejoin="round"/>
<polygon points="112.74,701.51 122.27,706.95 122.27,660.01 112.74,654.56" fill="#2168f3" stroke="rgba(0,0,0,0.55)" stroke-width="0.45" stroke-linejoin="round"/>
<polygon points="122.27,706.95 132.42,703.74 132.42,656.8 122.27,660.01" fill="#2168f3" stroke="rgba(0,0,0,0.55)" stroke-width="0.45" stroke-linejoin="round"/>
<polygon points="112.74,654.56 122.27,660.01 132.42,656.8 122.89,651.35" fill="#2168f3" stroke="rgba(0,0,0,0.55)" stroke-width="0.45" stroke-linejoin="round"/>
<polygon points="124.66,708.31 134.19,713.76 134.19,656.73 124.66,651.29" fill="#2168f3" stroke="rgba(0,0,0,0.55)" stroke-width="0.45" stroke-linejoin="round"/>
<polygon points="134.19,713.76 144.34,710.55 144.34,653.52 134.19,656.73" fill="#2168f3" stroke="rgba(0,0,0,0.55)" stroke-width="0.45" stroke-linejoin="round"/>
<polygon points="124.66,651.29 134.19,656.73 144.34,653.52 134.8,648.08" fill="#2168f3" stroke="rgba(0,0,0,0.55)" stroke-width="0.45" stroke-linejoin="round"/>
<polygon points="136.57,715.12 146.11,720.56 146.11,696.37 136.57,690.92" fill="#2168f3" stroke="rgba(0,0,0,0.55)" stroke-width="0.45" stroke-linejoin="round"/>
<polygon points="146.11,720.56 156.25,717.35 156.25,693.16 146.11,696.37" fill="#2168f3" stroke="rgba(0,0,0,0.55)" stroke-width="0.45" stroke-linejoin="round"/>
<polygon points="136.57,690.92 146.11,696.37 156.25,693.16 146.72,687.72" fill="#2168f3" stroke="rgba(0,0,0,0.55)" stroke-width="0.45" stroke-linejoin="round"/>
<polygon points="52.39,678.29 61.93,683.74 61.93,615.19 52.39,609.75" fill="#4746ea" stroke="rgba(0,0,0,0.55)" stroke-width="0.45" stroke-linejoin="round"/>
<polygon points="61.93,683.74 72.07,680.53 72.07,611.98 61.93,615.19" fill="#4746ea" stroke="rgba(0,0,0,0.55)" stroke-width="0.45" stroke-linejoin="round"/>
<polygon points="52.39,609.75 61.93,615.19 72.07,611.98 62.54,606.54" fill="#4746ea" stroke="rgba(0,0,0,0.55)" stroke-width="0.45" stroke-linejoin="round"/>
<polygon points="64.31,685.1 73.84,690.54 73.84,610.77 64.31,605.32" fill="#4746ea" stroke="rgba(0,0,0,0.55)" stroke-width="0.45" stroke-linejoin="round"/>
<polygon points="73.84,690.54 83.99,687.33 83.99,607.56 73.84,610.77" fill="#4746ea" stroke="rgba(0,0,0,0.55)" stroke-width="0.45" stroke-linejoin="round"/>
<polygon points="64.31,605.32 73.84,610.77 83.99,607.56 74.46,602.11" fill="#4746ea" stroke="rgba(0,0,0,0.55)" stroke-width="0.45" stroke-linejoin="round"/>
<polygon points="76.22,691.9 85.76,697.35 85.76,614.98 76.22,609.54" fill="#4746ea" stroke="rgba(0,0,0,0.55)" stroke-width="0.45" stroke-linejoin="round"/>
<polygon points="85.76,697.35 95.9,694.14 95.9,611.77 85.76,614.98" fill="#4746ea" stroke="rgba(0,0,0,0.55)" stroke-width="0.45" stroke-linejoin="round"/>
<polygon points="76.22,609.54 85.76,614.98 95.9,611.77 86.37,606.33" fill="#4746ea" stroke="rgba(0,0,0,0.55)" stroke-width="0.45" stroke-linejoin="round"/>
<polygon points="88.14,698.71 97.67,704.15 97.67,641.37 88.14,635.93" fill="#4746ea" stroke="rgba(0,0,0,0.55)" stroke-width="0.45" stroke-linejoin="round"/>
<polygon points="97.67,704.15 107.82,700.95 107.82,638.16 97.67,641.37" fill="#4746ea" stroke="rgba(0,0,0,0.55)" stroke-width="0.45" stroke-linejoin="round"/>
<polygon points="88.14,635.93 97.67,641.37 107.82,638.16 98.29,632.72" fill="#4746ea" stroke="rgba(0,0,0,0.55)" stroke-width="0.45" stroke-linejoin="round"/>
<polygon points="100.06,705.52 109.59,710.96 109.59,668.05 100.06,662.6" fill="#4746ea" stroke="rgba(0,0,0,0.55)" stroke-width="0.45" stroke-linejoin="round"/>
<polygon points="109.59,710.96 119.74,707.75 119.74,664.84 109.59,668.05" fill="#4746ea" stroke="rgba(0,0,0,0.55)" stroke-width="0.45" stroke-linejoin="round"/>
<polygon points="100.06,662.6 109.59,668.05 119.74,664.84 110.2,659.4" fill="#4746ea" stroke="rgba(0,0,0,0.55)" stroke-width="0.45" stroke-linejoin="round"/>
<polygon points="111.97,712.32 121.51,717.77 121.51,672.84 111.97,667.39" fill="#4746ea" stroke="rgba(0,0,0,0.55)" stroke-width="0.45" stroke-linejoin="round"/>
<polygon points="121.51,717.77 131.65,714.56 131.65,669.63 121.51,672.84" fill="#4746ea" stroke="rgba(0,0,0,0.55)" stroke-width="0.45" stroke-linejoin="round"/>
<polygon points="111.97,667.39 121.51,672.84 131.65,669.63 122.12,664.18" fill="#4746ea" stroke="rgba(0,0,0,0.55)" stroke-width="0.45" stroke-linejoin="round"/>
<polygon points="123.89,719.13 133.42,724.57 133.42,704.41 123.89,698.97" fill="#4746ea" stroke="rgba(0,0,0,0.55)" stroke-width="0.45" stroke-linejoin="round"/>
<polygon points="133.42,724.57 143.57,721.36 143.57,701.2 133.42,704.41" fill="#4746ea" stroke="rgba(0,0,0,0.55)" stroke-width="0.45" stroke-linejoin="round"/>
<polygon points="123.89,698.97 133.42,704.41 143.57,701.2 134.04,695.76" fill="#4746ea" stroke="rgba(0,0,0,0.55)" stroke-width="0.45" stroke-linejoin="round"/>
<polygon points="39.71,682.3 49.24,687.75 49.24,644.84 39.71,639.39" fill="#4525b2" stroke="rgba(0,0,0,0.55)" stroke-width="0.45" stroke-linejoin="round"/>
<polygon points="49.24,687.75 59.39,684.54 59.39,641.63 49.24,644.84" fill="#4525b2" stroke="rgba(0,0,0,0.55)" stroke-width="0.45" stroke-linejoin="round"/>
<polygon points="39.71,639.39 49.24,644.84 59.39,641.63 49.86,636.18" fill="#4525b2" stroke="rgba(0,0,0,0.55)" stroke-width="0.45" stroke-linejoin="round"/>
<polygon points="51.62,689.11 61.16,694.55 61.16,625.14 51.62,619.7" fill="#4525b2" stroke="rgba(0,0,0,0.55)" stroke-width="0.45" stroke-linejoin="round"/>
<polygon points="61.16,694.55 71.3,691.34 71.3,621.94 61.16,625.14" fill="#4525b2" stroke="rgba(0,0,0,0.55)" stroke-width="0.45" stroke-linejoin="round"/>
<polygon points="51.62,619.7 61.16,625.14 71.3,621.94 61.77,616.49" fill="#4525b2" stroke="rgba(0,0,0,0.55)" stroke-width="0.45" stroke-linejoin="round"/>
<polygon points="63.54,695.91 73.07,701.36 73.07,630.22 63.54,624.78" fill="#4525b2" stroke="rgba(0,0,0,0.55)" stroke-width="0.45" stroke-linejoin="round"/>
<polygon points="73.07,701.36 83.22,698.15 83.22,627.01 73.07,630.22" fill="#4525b2" stroke="rgba(0,0,0,0.55)" stroke-width="0.45" stroke-linejoin="round"/>
<polygon points="63.54,624.78 73.07,630.22 83.22,627.01 73.69,621.57" fill="#4525b2" stroke="rgba(0,0,0,0.55)" stroke-width="0.45" stroke-linejoin="round"/>
<polygon points="75.46,702.72 84.99,708.16 84.99,660.36 75.46,654.91" fill="#4525b2" stroke="rgba(0,0,0,0.55)" stroke-width="0.45" stroke-linejoin="round"/>
<polygon points="84.99,708.16 95.14,704.96 95.14,657.15 84.99,660.36" fill="#4525b2" stroke="rgba(0,0,0,0.55)" stroke-width="0.45" stroke-linejoin="round"/>
<polygon points="75.46,654.91 84.99,660.36 95.14,657.15 85.6,651.7" fill="#4525b2" stroke="rgba(0,0,0,0.55)" stroke-width="0.45" stroke-linejoin="round"/>
<polygon points="87.37,709.53 96.91,714.97 96.91,687.61 87.37,682.17" fill="#4525b2" stroke="rgba(0,0,0,0.55)" stroke-width="0.45" stroke-linejoin="round"/>
<polygon points="96.91,714.97 107.05,711.76 107.05,684.4 96.91,687.61" fill="#4525b2" stroke="rgba(0,0,0,0.55)" stroke-width="0.45" stroke-linejoin="round"/>
<polygon points="87.37,682.17 96.91,687.61 107.05,684.4 97.52,678.96" fill="#4525b2" stroke="rgba(0,0,0,0.55)" stroke-width="0.45" stroke-linejoin="round"/>
<polygon points="99.29,716.33 108.82,721.78 108.82,686.06 99.29,680.62" fill="#4525b2" stroke="rgba(0,0,0,0.55)" stroke-width="0.45" stroke-linejoin="round"/>
<polygon points="108.82,721.78 118.97,718.57 118.97,682.86 108.82,686.06" fill="#4525b2" stroke="rgba(0,0,0,0.55)" stroke-width="0.45" stroke-linejoin="round"/>
<polygon points="99.29,680.62 108.82,686.06 118.97,682.86 109.44,677.41" fill="#4525b2" stroke="rgba(0,0,0,0.55)" stroke-width="0.45" stroke-linejoin="round"/>
<polygon points="111.21,723.14 120.74,728.58 120.74,704.1 111.21,698.66" fill="#4525b2" stroke="rgba(0,0,0,0.55)" stroke-width="0.45" stroke-linejoin="round"/>
<polygon points="120.74,728.58 130.89,725.37 130.89,700.89 120.74,704.1" fill="#4525b2" stroke="rgba(0,0,0,0.55)" stroke-width="0.45" stroke-linejoin="round"/>
<polygon points="111.21,698.66 120.74,704.1 130.89,700.89 121.35,695.45" fill="#4525b2" stroke="rgba(0,0,0,0.55)" stroke-width="0.45" stroke-linejoin="round"/>
<text x="26.8" y="680" font-size="7.4" text-anchor="end" fill="#262626">47.5</text>
<text x="26.8" y="651.2" font-size="7.4" text-anchor="end" fill="#262626">48.5</text>
<text x="26.8" y="622.4" font-size="7.4" text-anchor="end" fill="#262626">49.5</text>
<text x="26.8" y="593.6" font-size="7.4" text-anchor="end" fill="#262626">50.5</text>
<text x="26.8" y="564.8" font-size="7.4" text-anchor="end" fill="#262626">51.5</text>
<text x="39.08" y="696.32" font-size="7.4" text-anchor="end" fill="#262626">0.001</text>
<text x="50.85" y="703.05" font-size="7.4" text-anchor="end" fill="#262626">0.01</text>
<text x="62.62" y="709.77" font-size="7.4" text-anchor="end" fill="#262626">0.1</text>
<text x="74.4" y="716.5" font-size="7.4" text-anchor="end" fill="#262626">1</text>
<text x="86.17" y="723.22" font-size="7.4" text-anchor="end" fill="#262626">10</text>
<text x="97.95" y="729.95" font-size="7.4" text-anchor="end" fill="#262626">100</text>
<text x="109.72" y="736.67" font-size="7.4" text-anchor="end" fill="#262626">1000</text>
<text x="139.87" y="741.1" font-size="7.4" text-anchor="middle" fill="#262626">3</text>
<text x="152.56" y="737.09" font-size="7.4" text-anchor="middle" fill="#262626">6</text>
<text x="165.24" y="733.08" font-size="7.4" text-anchor="middle" fill="#262626">9</text>
<text x="177.92" y="729.07" font-size="7.4" text-anchor="middle" fill="#262626">12</text>
<text x="190.61" y="725.06" font-size="7.4" text-anchor="middle" fill="#262626">15</text>
<text x="203.29" y="721.04" font-size="7.4" text-anchor="middle" fill="#262626">18</text>
<text x="215.98" y="717.03" font-size="7.4" text-anchor="middle" fill="#262626">21</text>
<text x="228.66" y="713.02" font-size="7.4" text-anchor="middle" fill="#262626">24</text>
<text x="241.34" y="709.01" font-size="7.4" text-anchor="middle" fill="#262626">27</text>
<text x="254.03" y="705" font-size="7.4" text-anchor="middle" fill="#262626">30</text>
<text x="8" y="620" font-size="7.4" text-anchor="middle" fill="#262626" transform="rotate(-90 8 620)">Accuracy rate</text>
<text x="194" y="742.3" font-size="7.4" text-anchor="middle" fill="#262626" transform="rotate(-1.5 194 742.3)">Demension</text>
<text x="72" y="740" font-size="7.4" text-anchor="middle" fill="#262626">α</text>
</g>
<g>
<line x1="315.3" y1="677.8" x2="439.6" y2="638.5" stroke="#ebebeb" stroke-width="0.5"/>
<line x1="439.6" y1="638.5" x2="533.8" y2="692.3" stroke="#ebebeb" stroke-width="0.5"/>
<line x1="315.3" y1="649" x2="439.6" y2="609.7" stroke="#ebebeb" stroke-width="0.5"/>
<line x1="439.6" y1="609.7" x2="533.8" y2="663.5" stroke="#ebebeb" stroke-width="0.5"/>
<line x1="315.3" y1="620.2" x2="439.6" y2="580.9" stroke="#ebebeb" stroke-width="0.5"/>
<line x1="439.6" y1="580.9" x2="533.8" y2="634.7" stroke="#ebebeb" stroke-width="0.5"/>
<line x1="315.3" y1="591.4" x2="439.6" y2="552.1" stroke="#ebebeb" stroke-width="0.5"/>
<line x1="439.6" y1="552.1" x2="533.8" y2="605.9" stroke="#ebebeb" stroke-width="0.5"/>
<line x1="315.3" y1="562.6" x2="439.6" y2="523.3" stroke="#ebebeb" stroke-width="0.5"/>
<line x1="439.6" y1="523.3" x2="533.8" y2="577.1" stroke="#ebebeb" stroke-width="0.5"/>
<line x1="320.37" y1="676.2" x2="320.37" y2="561" stroke="#ebebeb" stroke-width="0.5"/>
<line x1="333.06" y1="672.19" x2="333.06" y2="556.99" stroke="#ebebeb" stroke-width="0.5"/>
<line x1="345.74" y1="668.18" x2="345.74" y2="552.98" stroke="#ebebeb" stroke-width="0.5"/>
<line x1="358.42" y1="664.17" x2="358.42" y2="548.97" stroke="#ebebeb" stroke-width="0.5"/>
<line x1="371.11" y1="660.16" x2="371.11" y2="544.96" stroke="#ebebeb" stroke-width="0.5"/>
<line x1="383.79" y1="656.14" x2="383.79" y2="540.94" stroke="#ebebeb" stroke-width="0.5"/>
<line x1="396.48" y1="652.13" x2="396.48" y2="536.93" stroke="#ebebeb" stroke-width="0.5"/>
<line x1="409.16" y1="648.12" x2="409.16" y2="532.92" stroke="#ebebeb" stroke-width="0.5"/>
<line x1="421.84" y1="644.11" x2="421.84" y2="528.91" stroke="#ebebeb" stroke-width="0.5"/>
<line x1="434.53" y1="640.1" x2="434.53" y2="524.9" stroke="#ebebeb" stroke-width="0.5"/>
<line x1="451.38" y1="645.23" x2="451.38" y2="530.02" stroke="#ebebeb" stroke-width="0.5"/>
<line x1="463.15" y1="651.95" x2="463.15" y2="536.75" stroke="#ebebeb" stroke-width="0.5"/>
<line x1="474.93" y1="658.67" x2="474.93" y2="543.47" stroke="#ebebeb" stroke-width="0.5"/>
<line x1="486.7" y1="665.4" x2="486.7" y2="550.2" stroke="#ebebeb" stroke-width="0.5"/>
<line x1="498.48" y1="672.12" x2="498.48" y2="556.92" stroke="#ebebeb" stroke-width="0.5"/>
<line x1="510.25" y1="678.85" x2="510.25" y2="563.65" stroke="#ebebeb" stroke-width="0.5"/>
<line x1="522.02" y1="685.58" x2="522.02" y2="570.38" stroke="#ebebeb" stroke-width="0.5"/>
<line x1="320.37" y1="676.2" x2="414.57" y2="730" stroke="#ebebeb" stroke-width="0.5"/>
<line x1="333.06" y1="672.19" x2="427.26" y2="725.99" stroke="#ebebeb" stroke-width="0.5"/>
<line x1="345.74" y1="668.18" x2="439.94" y2="721.98" stroke="#ebebeb" stroke-width="0.5"/>
<line x1="358.42" y1="664.17" x2="452.62" y2="717.97" stroke="#ebebeb" stroke-width="0.5"/>
<line x1="371.11" y1="660.16" x2="465.31" y2="713.96" stroke="#ebebeb" stroke-width="0.5"/>
<line x1="383.79" y1="656.14" x2="477.99" y2="709.94" stroke="#ebebeb" stroke-width="0.5"/>
<line x1="396.48" y1="652.13" x2="490.68" y2="705.93" stroke="#ebebeb" stroke-width="0.5"/>
<line x1="409.16" y1="648.12" x2="503.36" y2="701.92" stroke="#ebebeb" stroke-width="0.5"/>
<line x1="421.84" y1="644.11" x2="516.04" y2="697.91" stroke="#ebebeb" stroke-width="0.5"/>
<line x1="434.53" y1="640.1" x2="528.73" y2="693.9" stroke="#ebebeb" stroke-width="0.5"/>
<line x1="327.07" y1="684.52" x2="451.38" y2="645.23" stroke="#ebebeb" stroke-width="0.5"/>
<line x1="338.85" y1="691.25" x2="463.15" y2="651.95" stroke="#ebebeb" stroke-width="0.5"/>
<line x1="350.62" y1="697.97" x2="474.93" y2="658.67" stroke="#ebebeb" stroke-width="0.5"/>
<line x1="362.4" y1="704.7" x2="486.7" y2="665.4" stroke="#ebebeb" stroke-width="0.5"/>
<line x1="374.18" y1="711.42" x2="498.48" y2="672.12" stroke="#ebebeb" stroke-width="0.5"/>
<line x1="385.95" y1="718.15" x2="510.25" y2="678.85" stroke="#ebebeb" stroke-width="0.5"/>
<line x1="397.73" y1="724.88" x2="522.02" y2="685.58" stroke="#ebebeb" stroke-width="0.5"/>
<line x1="315.3" y1="677.8" x2="315.3" y2="562.6" stroke="#6a6a6a" stroke-width="0.55"/>
<line x1="315.3" y1="677.8" x2="409.5" y2="731.6" stroke="#6a6a6a" stroke-width="0.55"/>
<line x1="409.5" y1="731.6" x2="533.8" y2="692.3" stroke="#6a6a6a" stroke-width="0.55"/>
<line x1="315.3" y1="677.8" x2="312.3" y2="677.8" stroke="#6a6a6a" stroke-width="0.55"/>
<line x1="315.3" y1="649" x2="312.3" y2="649" stroke="#6a6a6a" stroke-width="0.55"/>
<line x1="315.3" y1="620.2" x2="312.3" y2="620.2" stroke="#6a6a6a" stroke-width="0.55"/>
<line x1="315.3" y1="591.4" x2="312.3" y2="591.4" stroke="#6a6a6a" stroke-width="0.55"/>
<line x1="315.3" y1="562.6" x2="312.3" y2="562.6" stroke="#6a6a6a" stroke-width="0.55"/>
<line x1="327.07" y1="684.52" x2="323.9" y2="685.53" stroke="#6a6a6a" stroke-width="0.55"/>
<line x1="338.85" y1="691.25" x2="335.68" y2="692.25" stroke="#6a6a6a" stroke-width="0.55"/>
<line x1="350.62" y1="697.97" x2="347.45" y2="698.98" stroke="#6a6a6a" stroke-width="0.55"/>
<line x1="362.4" y1="704.7" x2="359.23" y2="705.7" stroke="#6a6a6a" stroke-width="0.55"/>
<line x1="374.18" y1="711.42" x2="371" y2="712.43" stroke="#6a6a6a" stroke-width="0.55"/>
<line x1="385.95" y1="718.15" x2="382.78" y2="719.15" stroke="#6a6a6a" stroke-width="0.55"/>
<line x1="397.73" y1="724.88" x2="394.55" y2="725.88" stroke="#6a6a6a" stroke-width="0.55"/>
<line x1="414.57" y1="730" x2="417.52" y2="731.68" stroke="#6a6a6a" stroke-width="0.55"/>
<line x1="427.26" y1="725.99" x2="430.2" y2="727.67" stroke="#6a6a6a" stroke-width="0.55"/>
<line x1="439.94" y1="721.98" x2="442.88" y2="723.66" stroke="#6a6a6a" stroke-width="0.55"/>
<line x1="452.62" y1="717.97" x2="455.57" y2="719.65" stroke="#6a6a6a" stroke-width="0.55"/>
<line x1="465.31" y1="713.96" x2="468.25" y2="715.64" stroke="#6a6a6a" stroke-width="0.55"/>
<line x1="477.99" y1="709.94" x2="480.94" y2="711.63" stroke="#6a6a6a" stroke-width="0.55"/>
<line x1="490.68" y1="705.93" x2="493.62" y2="707.62" stroke="#6a6a6a" stroke-width="0.55"/>
<line x1="503.36" y1="701.92" x2="506.3" y2="703.61" stroke="#6a6a6a" stroke-width="0.55"/>
<line x1="516.04" y1="697.91" x2="518.99" y2="699.6" stroke="#6a6a6a" stroke-width="0.55"/>
<line x1="528.73" y1="693.9" x2="531.67" y2="695.59" stroke="#6a6a6a" stroke-width="0.55"/>
<polygon points="437.86,646.21 447.39,651.66 447.39,554.6 437.86,549.15" fill="#f6f417" stroke="rgba(0,0,0,0.55)" stroke-width="0.45" stroke-linejoin="round"/>
<polygon points="447.39,651.66 457.54,648.45 457.54,551.39 447.39,554.6" fill="#f6f417" stroke="rgba(0,0,0,0.55)" stroke-width="0.45" stroke-linejoin="round"/>
<polygon points="437.86,549.15 447.39,554.6 457.54,551.39 448.01,545.95" fill="#f6f417" stroke="rgba(0,0,0,0.55)" stroke-width="0.45" stroke-linejoin="round"/>
<polygon points="449.78,653.02 459.31,658.46 459.31,563.42 449.78,557.98" fill="#f6f417" stroke="rgba(0,0,0,0.55)" stroke-width="0.45" stroke-linejoin="round"/>
<polygon points="459.31,658.46 469.46,655.25 469.46,560.21 459.31,563.42" fill="#f6f417" stroke="rgba(0,0,0,0.55)" stroke-width="0.45" stroke-linejoin="round"/>
<polygon points="449.78,557.98 459.31,563.42 469.46,560.21 459.92,554.77" fill="#f6f417" stroke="rgba(0,0,0,0.55)" stroke-width="0.45" stroke-linejoin="round"/>
<polygon points="461.69,659.82 471.23,665.27 471.23,600.47 461.69,595.02" fill="#f6f417" stroke="rgba(0,0,0,0.55)" stroke-width="0.45" stroke-linejoin="round"/>
<polygon points="471.23,665.27 481.37,662.06 481.37,597.26 471.23,600.47" fill="#f6f417" stroke="rgba(0,0,0,0.55)" stroke-width="0.45" stroke-linejoin="round"/>
<polygon points="461.69,595.02 471.23,600.47 481.37,597.26 471.84,591.81" fill="#f6f417" stroke="rgba(0,0,0,0.55)" stroke-width="0.45" stroke-linejoin="round"/>
<polygon points="473.61,666.63 483.14,672.07 483.14,605.83 473.61,600.39" fill="#f6f417" stroke="rgba(0,0,0,0.55)" stroke-width="0.45" stroke-linejoin="round"/>
<polygon points="483.14,672.07 493.29,668.86 493.29,602.62 483.14,605.83" fill="#f6f417" stroke="rgba(0,0,0,0.55)" stroke-width="0.45" stroke-linejoin="round"/>
<polygon points="473.61,600.39 483.14,605.83 493.29,602.62 483.76,597.18" fill="#f6f417" stroke="rgba(0,0,0,0.55)" stroke-width="0.45" stroke-linejoin="round"/>
<polygon points="485.53,673.43 495.06,678.88 495.06,608.89 485.53,603.45" fill="#f6f417" stroke="rgba(0,0,0,0.55)" stroke-width="0.45" stroke-linejoin="round"/>
<polygon points="495.06,678.88 505.21,675.67 505.21,605.69 495.06,608.89" fill="#f6f417" stroke="rgba(0,0,0,0.55)" stroke-width="0.45" stroke-linejoin="round"/>
<polygon points="485.53,603.45 495.06,608.89 505.21,605.69 495.67,600.24" fill="#f6f417" stroke="rgba(0,0,0,0.55)" stroke-width="0.45" stroke-linejoin="round"/>
<polygon points="497.44,680.24 506.98,685.68 506.98,615.12 497.44,609.68" fill="#f6f417" stroke="rgba(0,0,0,0.55)" stroke-width="0.45" stroke-linejoin="round"/>
<polygon points="506.98,685.68 517.12,682.48 517.12,611.92 506.98,615.12" fill="#f6f417" stroke="rgba(0,0,0,0.55)" stroke-width="0.45" stroke-linejoin="round"/>
<polygon points="497.44,609.68 506.98,615.12 517.12,611.92 507.59,606.47" fill="#f6f417" stroke="rgba(0,0,0,0.55)" stroke-width="0.45" stroke-linejoin="round"/>
<polygon points="509.36,687.05 518.89,692.49 518.89,631.72 509.36,626.28" fill="#f6f417" stroke="rgba(0,0,0,0.55)" stroke-width="0.45" stroke-linejoin="round"/>
<polygon points="518.89,692.49 529.04,689.28 529.04,628.51 518.89,631.72" fill="#f6f417" stroke="rgba(0,0,0,0.55)" stroke-width="0.45" stroke-linejoin="round"/>
<polygon points="509.36,626.28 518.89,631.72 529.04,628.51 519.51,623.07" fill="#f6f417" stroke="rgba(0,0,0,0.55)" stroke-width="0.45" stroke-linejoin="round"/>
<polygon points="425.18,650.22 434.71,655.67 434.71,563.22 425.18,557.77" fill="#fdc628" stroke="rgba(0,0,0,0.55)" stroke-width="0.45" stroke-linejoin="round"/>
<polygon points="434.71,655.67 444.86,652.46 444.86,560.01 434.71,563.22" fill="#fdc628" stroke="rgba(0,0,0,0.55)" stroke-width="0.45" stroke-linejoin="round"/>
<polygon points="425.18,557.77 434.71,563.22 444.86,560.01 435.32,554.56" fill="#fdc628" stroke="rgba(0,0,0,0.55)" stroke-width="0.45" stroke-linejoin="round"/>
<polygon points="437.09,657.03 446.63,662.47 446.63,571.46 437.09,566.02" fill="#fdc628" stroke="rgba(0,0,0,0.55)" stroke-width="0.45" stroke-linejoin="round"/>
<polygon points="446.63,662.47 456.77,659.26 456.77,568.26 446.63,571.46" fill="#fdc628" stroke="rgba(0,0,0,0.55)" stroke-width="0.45" stroke-linejoin="round"/>
<polygon points="437.09,566.02 446.63,571.46 456.77,568.26 447.24,562.81" fill="#fdc628" stroke="rgba(0,0,0,0.55)" stroke-width="0.45" stroke-linejoin="round"/>
<polygon points="449.01,663.83 458.54,669.28 458.54,588.64 449.01,583.19" fill="#fdc628" stroke="rgba(0,0,0,0.55)" stroke-width="0.45" stroke-linejoin="round"/>
<polygon points="458.54,669.28 468.69,666.07 468.69,585.43 458.54,588.64" fill="#fdc628" stroke="rgba(0,0,0,0.55)" stroke-width="0.45" stroke-linejoin="round"/>
<polygon points="449.01,583.19 458.54,588.64 468.69,585.43 459.16,579.98" fill="#fdc628" stroke="rgba(0,0,0,0.55)" stroke-width="0.45" stroke-linejoin="round"/>
<polygon points="460.93,670.64 470.46,676.08 470.46,602.35 460.93,596.91" fill="#fdc628" stroke="rgba(0,0,0,0.55)" stroke-width="0.45" stroke-linejoin="round"/>
<polygon points="470.46,676.08 480.61,672.87 480.61,599.15 470.46,602.35" fill="#fdc628" stroke="rgba(0,0,0,0.55)" stroke-width="0.45" stroke-linejoin="round"/>
<polygon points="460.93,596.91 470.46,602.35 480.61,599.15 471.07,593.7" fill="#fdc628" stroke="rgba(0,0,0,0.55)" stroke-width="0.45" stroke-linejoin="round"/>
<polygon points="472.84,677.44 482.38,682.89 482.38,620.97 472.84,615.52" fill="#fdc628" stroke="rgba(0,0,0,0.55)" stroke-width="0.45" stroke-linejoin="round"/>
<polygon points="482.38,682.89 492.52,679.68 492.52,617.76 482.38,620.97" fill="#fdc628" stroke="rgba(0,0,0,0.55)" stroke-width="0.45" stroke-linejoin="round"/>
<polygon points="472.84,615.52 482.38,620.97 492.52,617.76 482.99,612.32" fill="#fdc628" stroke="rgba(0,0,0,0.55)" stroke-width="0.45" stroke-linejoin="round"/>
<polygon points="484.76,684.25 494.29,689.69 494.29,629.21 484.76,623.77" fill="#fdc628" stroke="rgba(0,0,0,0.55)" stroke-width="0.45" stroke-linejoin="round"/>
<polygon points="494.29,689.69 504.44,686.49 504.44,626.01 494.29,629.21" fill="#fdc628" stroke="rgba(0,0,0,0.55)" stroke-width="0.45" stroke-linejoin="round"/>
<polygon points="484.76,623.77 494.29,629.21 504.44,626.01 494.91,620.56" fill="#fdc628" stroke="rgba(0,0,0,0.55)" stroke-width="0.45" stroke-linejoin="round"/>
<polygon points="496.68,691.06 506.21,696.5 506.21,638.9 496.68,633.46" fill="#fdc628" stroke="rgba(0,0,0,0.55)" stroke-width="0.45" stroke-linejoin="round"/>
<polygon points="506.21,696.5 516.36,693.29 516.36,635.69 506.21,638.9" fill="#fdc628" stroke="rgba(0,0,0,0.55)" stroke-width="0.45" stroke-linejoin="round"/>
<polygon points="496.68,633.46 506.21,638.9 516.36,635.69 506.82,630.25" fill="#fdc628" stroke="rgba(0,0,0,0.55)" stroke-width="0.45" stroke-linejoin="round"/>
<polygon points="412.49,654.23 422.03,659.68 422.03,562.91 412.49,557.46" fill="#e6af1c" stroke="rgba(0,0,0,0.55)" stroke-width="0.45" stroke-linejoin="round"/>
<polygon points="422.03,659.68 432.17,656.47 432.17,559.7 422.03,562.91" fill="#e6af1c" stroke="rgba(0,0,0,0.55)" stroke-width="0.45" stroke-linejoin="round"/>
<polygon points="412.49,557.46 422.03,562.91 432.17,559.7 422.64,554.26" fill="#e6af1c" stroke="rgba(0,0,0,0.55)" stroke-width="0.45" stroke-linejoin="round"/>
<polygon points="424.41,661.04 433.94,666.48 433.94,580.08 424.41,574.64" fill="#e6af1c" stroke="rgba(0,0,0,0.55)" stroke-width="0.45" stroke-linejoin="round"/>
<polygon points="433.94,666.48 444.09,663.27 444.09,576.87 433.94,580.08" fill="#e6af1c" stroke="rgba(0,0,0,0.55)" stroke-width="0.45" stroke-linejoin="round"/>
<polygon points="424.41,574.64 433.94,580.08 444.09,576.87 434.56,571.43" fill="#e6af1c" stroke="rgba(0,0,0,0.55)" stroke-width="0.45" stroke-linejoin="round"/>
<polygon points="436.33,667.84 445.86,673.29 445.86,596.68 436.33,591.23" fill="#e6af1c" stroke="rgba(0,0,0,0.55)" stroke-width="0.45" stroke-linejoin="round"/>
<polygon points="445.86,673.29 456.01,670.08 456.01,593.47 445.86,596.68" fill="#e6af1c" stroke="rgba(0,0,0,0.55)" stroke-width="0.45" stroke-linejoin="round"/>
<polygon points="436.33,591.23 445.86,596.68 456.01,593.47 446.47,588.03" fill="#e6af1c" stroke="rgba(0,0,0,0.55)" stroke-width="0.45" stroke-linejoin="round"/>
<polygon points="448.24,674.65 457.78,680.09 457.78,610.97 448.24,605.53" fill="#e6af1c" stroke="rgba(0,0,0,0.55)" stroke-width="0.45" stroke-linejoin="round"/>
<polygon points="457.78,680.09 467.92,676.88 467.92,607.76 457.78,610.97" fill="#e6af1c" stroke="rgba(0,0,0,0.55)" stroke-width="0.45" stroke-linejoin="round"/>
<polygon points="448.24,605.53 457.78,610.97 467.92,607.76 458.39,602.32" fill="#e6af1c" stroke="rgba(0,0,0,0.55)" stroke-width="0.45" stroke-linejoin="round"/>
<polygon points="460.16,681.45 469.69,686.9 469.69,614.61 460.16,609.17" fill="#e6af1c" stroke="rgba(0,0,0,0.55)" stroke-width="0.45" stroke-linejoin="round"/>
<polygon points="469.69,686.9 479.84,683.69 479.84,611.4 469.69,614.61" fill="#e6af1c" stroke="rgba(0,0,0,0.55)" stroke-width="0.45" stroke-linejoin="round"/>
<polygon points="460.16,609.17 469.69,614.61 479.84,611.4 470.31,605.96" fill="#e6af1c" stroke="rgba(0,0,0,0.55)" stroke-width="0.45" stroke-linejoin="round"/>
<polygon points="472.08,688.26 481.61,693.7 481.61,634.09 472.08,628.64" fill="#e6af1c" stroke="rgba(0,0,0,0.55)" stroke-width="0.45" stroke-linejoin="round"/>
<polygon points="481.61,693.7 491.76,690.5 491.76,630.88 481.61,634.09" fill="#e6af1c" stroke="rgba(0,0,0,0.55)" stroke-width="0.45" stroke-linejoin="round"/>
<polygon points="472.08,628.64 481.61,634.09 491.76,630.88 482.22,625.44" fill="#e6af1c" stroke="rgba(0,0,0,0.55)" stroke-width="0.45" stroke-linejoin="round"/>
<polygon points="483.99,695.07 493.53,700.51 493.53,643.77 483.99,638.33" fill="#e6af1c" stroke="rgba(0,0,0,0.55)" stroke-width="0.45" stroke-linejoin="round"/>
<polygon points="493.53,700.51 503.67,697.3 503.67,640.57 493.53,643.77" fill="#e6af1c" stroke="rgba(0,0,0,0.55)" stroke-width="0.45" stroke-linejoin="round"/>
<polygon points="483.99,638.33 493.53,643.77 503.67,640.57 494.14,635.12" fill="#e6af1c" stroke="rgba(0,0,0,0.55)" stroke-width="0.45" stroke-linejoin="round"/>
<polygon points="399.81,658.24 409.34,663.69 409.34,572.97 399.81,567.52" fill="#55c350" stroke="rgba(0,0,0,0.55)" stroke-width="0.45" stroke-linejoin="round"/>
<polygon points="409.34,663.69 419.49,660.48 419.49,569.76 409.34,572.97" fill="#55c350" stroke="rgba(0,0,0,0.55)" stroke-width="0.45" stroke-linejoin="round"/>
<polygon points="399.81,567.52 409.34,572.97 419.49,569.76 409.96,564.31" fill="#55c350" stroke="rgba(0,0,0,0.55)" stroke-width="0.45" stroke-linejoin="round"/>
<polygon points="411.73,665.05 421.26,670.49 421.26,575.16 411.73,569.72" fill="#55c350" stroke="rgba(0,0,0,0.55)" stroke-width="0.45" stroke-linejoin="round"/>
<polygon points="421.26,670.49 431.41,667.28 431.41,571.96 421.26,575.16" fill="#55c350" stroke="rgba(0,0,0,0.55)" stroke-width="0.45" stroke-linejoin="round"/>
<polygon points="411.73,569.72 421.26,575.16 431.41,571.96 421.87,566.51" fill="#55c350" stroke="rgba(0,0,0,0.55)" stroke-width="0.45" stroke-linejoin="round"/>
<polygon points="423.64,671.85 433.18,677.3 433.18,601.55 423.64,596.11" fill="#55c350" stroke="rgba(0,0,0,0.55)" stroke-width="0.45" stroke-linejoin="round"/>
<polygon points="433.18,677.3 443.32,674.09 443.32,598.35 433.18,601.55" fill="#55c350" stroke="rgba(0,0,0,0.55)" stroke-width="0.45" stroke-linejoin="round"/>
<polygon points="423.64,596.11 433.18,601.55 443.32,598.35 433.79,592.9" fill="#55c350" stroke="rgba(0,0,0,0.55)" stroke-width="0.45" stroke-linejoin="round"/>
<polygon points="435.56,678.66 445.09,684.1 445.09,618.73 435.56,613.28" fill="#55c350" stroke="rgba(0,0,0,0.55)" stroke-width="0.45" stroke-linejoin="round"/>
<polygon points="445.09,684.1 455.24,680.89 455.24,615.52 445.09,618.73" fill="#55c350" stroke="rgba(0,0,0,0.55)" stroke-width="0.45" stroke-linejoin="round"/>
<polygon points="435.56,613.28 445.09,618.73 455.24,615.52 445.71,610.07" fill="#55c350" stroke="rgba(0,0,0,0.55)" stroke-width="0.45" stroke-linejoin="round"/>
<polygon points="447.48,685.46 457.01,690.91 457.01,619.77 447.48,614.33" fill="#55c350" stroke="rgba(0,0,0,0.55)" stroke-width="0.45" stroke-linejoin="round"/>
<polygon points="457.01,690.91 467.16,687.7 467.16,616.56 457.01,619.77" fill="#55c350" stroke="rgba(0,0,0,0.55)" stroke-width="0.45" stroke-linejoin="round"/>
<polygon points="447.48,614.33 457.01,619.77 467.16,616.56 457.62,611.12" fill="#55c350" stroke="rgba(0,0,0,0.55)" stroke-width="0.45" stroke-linejoin="round"/>
<polygon points="459.39,692.27 468.93,697.71 468.93,640.98 459.39,635.53" fill="#55c350" stroke="rgba(0,0,0,0.55)" stroke-width="0.45" stroke-linejoin="round"/>
<polygon points="468.93,697.71 479.07,694.51 479.07,637.77 468.93,640.98" fill="#55c350" stroke="rgba(0,0,0,0.55)" stroke-width="0.45" stroke-linejoin="round"/>
<polygon points="459.39,635.53 468.93,640.98 479.07,637.77 469.54,632.33" fill="#55c350" stroke="rgba(0,0,0,0.55)" stroke-width="0.45" stroke-linejoin="round"/>
<polygon points="471.31,699.08 480.84,704.52 480.84,648.36 471.31,642.92" fill="#55c350" stroke="rgba(0,0,0,0.55)" stroke-width="0.45" stroke-linejoin="round"/>
<polygon points="480.84,704.52 490.99,701.31 490.99,645.15 480.84,648.36" fill="#55c350" stroke="rgba(0,0,0,0.55)" stroke-width="0.45" stroke-linejoin="round"/>
<polygon points="471.31,642.92 480.84,648.36 490.99,645.15 481.46,639.71" fill="#55c350" stroke="rgba(0,0,0,0.55)" stroke-width="0.45" stroke-linejoin="round"/>
<polygon points="387.13,662.25 396.66,667.7 396.66,581.58 387.13,576.14" fill="#22bf9e" stroke="rgba(0,0,0,0.55)" stroke-width="0.45" stroke-linejoin="round"/>
<polygon points="396.66,667.7 406.81,664.49 406.81,578.38 396.66,581.58" fill="#22bf9e" stroke="rgba(0,0,0,0.55)" stroke-width="0.45" stroke-linejoin="round"/>
<polygon points="387.13,576.14 396.66,581.58 406.81,578.38 397.27,572.93" fill="#22bf9e" stroke="rgba(0,0,0,0.55)" stroke-width="0.45" stroke-linejoin="round"/>
<polygon points="399.04,669.06 408.58,674.5 408.58,580.9 399.04,575.46" fill="#22bf9e" stroke="rgba(0,0,0,0.55)" stroke-width="0.45" stroke-linejoin="round"/>
<polygon points="408.58,674.5 418.72,671.29 418.72,577.69 408.58,580.9" fill="#22bf9e" stroke="rgba(0,0,0,0.55)" stroke-width="0.45" stroke-linejoin="round"/>
<polygon points="399.04,575.46 408.58,580.9 418.72,577.69 409.19,572.25" fill="#22bf9e" stroke="rgba(0,0,0,0.55)" stroke-width="0.45" stroke-linejoin="round"/>
<polygon points="410.96,675.86 420.49,681.31 420.49,610.75 410.96,605.3" fill="#22bf9e" stroke="rgba(0,0,0,0.55)" stroke-width="0.45" stroke-linejoin="round"/>
<polygon points="420.49,681.31 430.64,678.1 430.64,607.54 420.49,610.75" fill="#22bf9e" stroke="rgba(0,0,0,0.55)" stroke-width="0.45" stroke-linejoin="round"/>
<polygon points="410.96,605.3 420.49,610.75 430.64,607.54 421.11,602.09" fill="#22bf9e" stroke="rgba(0,0,0,0.55)" stroke-width="0.45" stroke-linejoin="round"/>
<polygon points="422.88,682.67 432.41,688.11 432.41,628.21 422.88,622.76" fill="#22bf9e" stroke="rgba(0,0,0,0.55)" stroke-width="0.45" stroke-linejoin="round"/>
<polygon points="432.41,688.11 442.56,684.91 442.56,625 432.41,628.21" fill="#22bf9e" stroke="rgba(0,0,0,0.55)" stroke-width="0.45" stroke-linejoin="round"/>
<polygon points="422.88,622.76 432.41,628.21 442.56,625 433.02,619.56" fill="#22bf9e" stroke="rgba(0,0,0,0.55)" stroke-width="0.45" stroke-linejoin="round"/>
<polygon points="434.79,689.47 444.33,694.92 444.33,629.26 434.79,623.81" fill="#22bf9e" stroke="rgba(0,0,0,0.55)" stroke-width="0.45" stroke-linejoin="round"/>
<polygon points="444.33,694.92 454.47,691.71 454.47,626.05 444.33,629.26" fill="#22bf9e" stroke="rgba(0,0,0,0.55)" stroke-width="0.45" stroke-linejoin="round"/>
<polygon points="434.79,623.81 444.33,629.26 454.47,626.05 444.94,620.6" fill="#22bf9e" stroke="rgba(0,0,0,0.55)" stroke-width="0.45" stroke-linejoin="round"/>
<polygon points="446.71,696.28 456.24,701.72 456.24,651.04 446.71,645.59" fill="#22bf9e" stroke="rgba(0,0,0,0.55)" stroke-width="0.45" stroke-linejoin="round"/>
<polygon points="456.24,701.72 466.39,698.52 466.39,647.83 456.24,651.04" fill="#22bf9e" stroke="rgba(0,0,0,0.55)" stroke-width="0.45" stroke-linejoin="round"/>
<polygon points="446.71,645.59 456.24,651.04 466.39,647.83 456.86,642.38" fill="#22bf9e" stroke="rgba(0,0,0,0.55)" stroke-width="0.45" stroke-linejoin="round"/>
<polygon points="458.62,703.09 468.16,708.53 468.16,652.08 458.62,646.64" fill="#22bf9e" stroke="rgba(0,0,0,0.55)" stroke-width="0.45" stroke-linejoin="round"/>
<polygon points="468.16,708.53 478.3,705.32 478.3,648.87 468.16,652.08" fill="#22bf9e" stroke="rgba(0,0,0,0.55)" stroke-width="0.45" stroke-linejoin="round"/>
<polygon points="458.62,646.64 468.16,652.08 478.3,648.87 468.77,643.43" fill="#22bf9e" stroke="rgba(0,0,0,0.55)" stroke-width="0.45" stroke-linejoin="round"/>
<polygon points="374.44,666.26 383.98,671.71 383.98,575.51 374.44,570.07" fill="#0bb0d4" stroke="rgba(0,0,0,0.55)" stroke-width="0.45" stroke-linejoin="round"/>
<polygon points="383.98,671.71 394.12,668.5 394.12,572.31 383.98,575.51" fill="#0bb0d4" stroke="rgba(0,0,0,0.55)" stroke-width="0.45" stroke-linejoin="round"/>
<polygon points="374.44,570.07 383.98,575.51 394.12,572.31 384.59,566.86" fill="#0bb0d4" stroke="rgba(0,0,0,0.55)" stroke-width="0.45" stroke-linejoin="round"/>
<polygon points="386.36,673.07 395.89,678.51 395.89,584.62 386.36,579.18" fill="#0bb0d4" stroke="rgba(0,0,0,0.55)" stroke-width="0.45" stroke-linejoin="round"/>
<polygon points="395.89,678.51 406.04,675.3 406.04,581.42 395.89,584.62" fill="#0bb0d4" stroke="rgba(0,0,0,0.55)" stroke-width="0.45" stroke-linejoin="round"/>
<polygon points="386.36,579.18 395.89,584.62 406.04,581.42 396.51,575.97" fill="#0bb0d4" stroke="rgba(0,0,0,0.55)" stroke-width="0.45" stroke-linejoin="round"/>
<polygon points="398.28,679.87 407.81,685.32 407.81,615.91 398.28,610.47" fill="#0bb0d4" stroke="rgba(0,0,0,0.55)" stroke-width="0.45" stroke-linejoin="round"/>
<polygon points="407.81,685.32 417.96,682.11 417.96,612.7 407.81,615.91" fill="#0bb0d4" stroke="rgba(0,0,0,0.55)" stroke-width="0.45" stroke-linejoin="round"/>
<polygon points="398.28,610.47 407.81,615.91 417.96,612.7 408.42,607.26" fill="#0bb0d4" stroke="rgba(0,0,0,0.55)" stroke-width="0.45" stroke-linejoin="round"/>
<polygon points="410.19,686.68 419.73,692.12 419.73,631.93 410.19,626.49" fill="#0bb0d4" stroke="rgba(0,0,0,0.55)" stroke-width="0.45" stroke-linejoin="round"/>
<polygon points="419.73,692.12 429.87,688.92 429.87,628.72 419.73,631.93" fill="#0bb0d4" stroke="rgba(0,0,0,0.55)" stroke-width="0.45" stroke-linejoin="round"/>
<polygon points="410.19,626.49 419.73,631.93 429.87,628.72 420.34,623.28" fill="#0bb0d4" stroke="rgba(0,0,0,0.55)" stroke-width="0.45" stroke-linejoin="round"/>
<polygon points="422.11,693.48 431.64,698.93 431.64,639.03 422.11,633.58" fill="#0bb0d4" stroke="rgba(0,0,0,0.55)" stroke-width="0.45" stroke-linejoin="round"/>
<polygon points="431.64,698.93 441.79,695.72 441.79,635.82 431.64,639.03" fill="#0bb0d4" stroke="rgba(0,0,0,0.55)" stroke-width="0.45" stroke-linejoin="round"/>
<polygon points="422.11,633.58 431.64,639.03 441.79,635.82 432.26,630.37" fill="#0bb0d4" stroke="rgba(0,0,0,0.55)" stroke-width="0.45" stroke-linejoin="round"/>
<polygon points="434.02,700.29 443.56,705.73 443.56,668.29 434.02,662.85" fill="#0bb0d4" stroke="rgba(0,0,0,0.55)" stroke-width="0.45" stroke-linejoin="round"/>
<polygon points="443.56,705.73 453.7,702.53 453.7,665.09 443.56,668.29" fill="#0bb0d4" stroke="rgba(0,0,0,0.55)" stroke-width="0.45" stroke-linejoin="round"/>
<polygon points="434.02,662.85 443.56,668.29 453.7,665.09 444.17,659.64" fill="#0bb0d4" stroke="rgba(0,0,0,0.55)" stroke-width="0.45" stroke-linejoin="round"/>
<polygon points="445.94,707.1 455.47,712.54 455.47,654.65 445.94,649.21" fill="#0bb0d4" stroke="rgba(0,0,0,0.55)" stroke-width="0.45" stroke-linejoin="round"/>
<polygon points="455.47,712.54 465.62,709.33 465.62,651.44 455.47,654.65" fill="#0bb0d4" stroke="rgba(0,0,0,0.55)" stroke-width="0.45" stroke-linejoin="round"/>
<polygon points="445.94,649.21 455.47,654.65 465.62,651.44 456.09,646" fill="#0bb0d4" stroke="rgba(0,0,0,0.55)" stroke-width="0.45" stroke-linejoin="round"/>
<polygon points="361.76,670.27 371.29,675.72 371.29,575.78 361.76,570.34" fill="#1e93e4" stroke="rgba(0,0,0,0.55)" stroke-width="0.45" stroke-linejoin="round"/>
<polygon points="371.29,675.72 381.44,672.51 381.44,572.57 371.29,575.78" fill="#1e93e4" stroke="rgba(0,0,0,0.55)" stroke-width="0.45" stroke-linejoin="round"/>
<polygon points="361.76,570.34 371.29,575.78 381.44,572.57 371.91,567.13" fill="#1e93e4" stroke="rgba(0,0,0,0.55)" stroke-width="0.45" stroke-linejoin="round"/>
<polygon points="373.68,677.08 383.21,682.52 383.21,592.09 373.68,586.65" fill="#1e93e4" stroke="rgba(0,0,0,0.55)" stroke-width="0.45" stroke-linejoin="round"/>
<polygon points="383.21,682.52 393.36,679.31 393.36,588.88 383.21,592.09" fill="#1e93e4" stroke="rgba(0,0,0,0.55)" stroke-width="0.45" stroke-linejoin="round"/>
<polygon points="373.68,586.65 383.21,592.09 393.36,588.88 383.82,583.44" fill="#1e93e4" stroke="rgba(0,0,0,0.55)" stroke-width="0.45" stroke-linejoin="round"/>
<polygon points="385.59,683.88 395.13,689.33 395.13,623.09 385.59,617.64" fill="#1e93e4" stroke="rgba(0,0,0,0.55)" stroke-width="0.45" stroke-linejoin="round"/>
<polygon points="395.13,689.33 405.27,686.12 405.27,619.88 395.13,623.09" fill="#1e93e4" stroke="rgba(0,0,0,0.55)" stroke-width="0.45" stroke-linejoin="round"/>
<polygon points="385.59,617.64 395.13,623.09 405.27,619.88 395.74,614.44" fill="#1e93e4" stroke="rgba(0,0,0,0.55)" stroke-width="0.45" stroke-linejoin="round"/>
<polygon points="397.51,690.69 407.04,696.13 407.04,635.65 397.51,630.21" fill="#1e93e4" stroke="rgba(0,0,0,0.55)" stroke-width="0.45" stroke-linejoin="round"/>
<polygon points="407.04,696.13 417.19,692.93 417.19,632.45 407.04,635.65" fill="#1e93e4" stroke="rgba(0,0,0,0.55)" stroke-width="0.45" stroke-linejoin="round"/>
<polygon points="397.51,630.21 407.04,635.65 417.19,632.45 407.66,627" fill="#1e93e4" stroke="rgba(0,0,0,0.55)" stroke-width="0.45" stroke-linejoin="round"/>
<polygon points="409.42,697.49 418.96,702.94 418.96,648.22 409.42,642.77" fill="#1e93e4" stroke="rgba(0,0,0,0.55)" stroke-width="0.45" stroke-linejoin="round"/>
<polygon points="418.96,702.94 429.1,699.73 429.1,645.01 418.96,648.22" fill="#1e93e4" stroke="rgba(0,0,0,0.55)" stroke-width="0.45" stroke-linejoin="round"/>
<polygon points="409.42,642.77 418.96,648.22 429.1,645.01 419.57,639.57" fill="#1e93e4" stroke="rgba(0,0,0,0.55)" stroke-width="0.45" stroke-linejoin="round"/>
<polygon points="421.34,704.3 430.87,709.75 430.87,635.44 421.34,630" fill="#1e93e4" stroke="rgba(0,0,0,0.55)" stroke-width="0.45" stroke-linejoin="round"/>
<polygon points="430.87,709.75 441.02,706.54 441.02,632.23 430.87,635.44" fill="#1e93e4" stroke="rgba(0,0,0,0.55)" stroke-width="0.45" stroke-linejoin="round"/>
<polygon points="421.34,630 430.87,635.44 441.02,632.23 431.49,626.79" fill="#1e93e4" stroke="rgba(0,0,0,0.55)" stroke-width="0.45" stroke-linejoin="round"/>
<polygon points="433.26,711.11 442.79,716.55 442.79,665 433.26,659.55" fill="#1e93e4" stroke="rgba(0,0,0,0.55)" stroke-width="0.45" stroke-linejoin="round"/>
<polygon points="442.79,716.55 452.94,713.34 452.94,661.79 442.79,665" fill="#1e93e4" stroke="rgba(0,0,0,0.55)" stroke-width="0.45" stroke-linejoin="round"/>
<polygon points="433.26,659.55 442.79,665 452.94,661.79 443.4,656.35" fill="#1e93e4" stroke="rgba(0,0,0,0.55)" stroke-width="0.45" stroke-linejoin="round"/>
<polygon points="349.08,674.28 358.61,679.73 358.61,602.54 349.08,597.1" fill="#2168f3" stroke="rgba(0,0,0,0.55)" stroke-width="0.45" stroke-linejoin="round"/>
<polygon points="358.61,679.73 368.76,676.52 368.76,599.33 358.61,602.54" fill="#2168f3" stroke="rgba(0,0,0,0.55)" stroke-width="0.45" stroke-linejoin="round"/>
<polygon points="349.08,597.1 358.61,602.54 368.76,599.33 359.22,593.89" fill="#2168f3" stroke="rgba(0,0,0,0.55)" stroke-width="0.45" stroke-linejoin="round"/>
<polygon points="360.99,681.09 370.53,686.53 370.53,596.39 360.99,590.94" fill="#2168f3" stroke="rgba(0,0,0,0.55)" stroke-width="0.45" stroke-linejoin="round"/>
<polygon points="370.53,686.53 380.67,683.32 380.67,593.18 370.53,596.39" fill="#2168f3" stroke="rgba(0,0,0,0.55)" stroke-width="0.45" stroke-linejoin="round"/>
<polygon points="360.99,590.94 370.53,596.39 380.67,593.18 371.14,587.74" fill="#2168f3" stroke="rgba(0,0,0,0.55)" stroke-width="0.45" stroke-linejoin="round"/>
<polygon points="372.91,687.89 382.44,693.34 382.44,618.46 372.91,613.01" fill="#2168f3" stroke="rgba(0,0,0,0.55)" stroke-width="0.45" stroke-linejoin="round"/>
<polygon points="382.44,693.34 392.59,690.13 392.59,615.25 382.44,618.46" fill="#2168f3" stroke="rgba(0,0,0,0.55)" stroke-width="0.45" stroke-linejoin="round"/>
<polygon points="372.91,613.01 382.44,618.46 392.59,615.25 383.06,609.81" fill="#2168f3" stroke="rgba(0,0,0,0.55)" stroke-width="0.45" stroke-linejoin="round"/>
<polygon points="384.82,694.7 394.36,700.14 394.36,643.41 384.82,637.96" fill="#2168f3" stroke="rgba(0,0,0,0.55)" stroke-width="0.45" stroke-linejoin="round"/>
<polygon points="394.36,700.14 404.5,696.94 404.5,640.2 394.36,643.41" fill="#2168f3" stroke="rgba(0,0,0,0.55)" stroke-width="0.45" stroke-linejoin="round"/>
<polygon points="384.82,637.96 394.36,643.41 404.5,640.2 394.97,634.76" fill="#2168f3" stroke="rgba(0,0,0,0.55)" stroke-width="0.45" stroke-linejoin="round"/>
<polygon points="396.74,701.51 406.27,706.95 406.27,643.88 396.74,638.43" fill="#2168f3" stroke="rgba(0,0,0,0.55)" stroke-width="0.45" stroke-linejoin="round"/>
<polygon points="406.27,706.95 416.42,703.74 416.42,640.67 406.27,643.88" fill="#2168f3" stroke="rgba(0,0,0,0.55)" stroke-width="0.45" stroke-linejoin="round"/>
<polygon points="396.74,638.43 406.27,643.88 416.42,640.67 406.89,635.22" fill="#2168f3" stroke="rgba(0,0,0,0.55)" stroke-width="0.45" stroke-linejoin="round"/>
<polygon points="408.66,708.31 418.19,713.76 418.19,652.99 408.66,647.54" fill="#2168f3" stroke="rgba(0,0,0,0.55)" stroke-width="0.45" stroke-linejoin="round"/>
<polygon points="418.19,713.76 428.34,710.55 428.34,649.78 418.19,652.99" fill="#2168f3" stroke="rgba(0,0,0,0.55)" stroke-width="0.45" stroke-linejoin="round"/>
<polygon points="408.66,647.54 418.19,652.99 428.34,649.78 418.8,644.33" fill="#2168f3" stroke="rgba(0,0,0,0.55)" stroke-width="0.45" stroke-linejoin="round"/>
<polygon points="420.57,715.12 430.11,720.56 430.11,711.35 420.57,705.9" fill="#2168f3" stroke="rgba(0,0,0,0.55)" stroke-width="0.45" stroke-linejoin="round"/>
<polygon points="430.11,720.56 440.25,717.35 440.25,708.14 430.11,711.35" fill="#2168f3" stroke="rgba(0,0,0,0.55)" stroke-width="0.45" stroke-linejoin="round"/>
<polygon points="420.57,705.9 430.11,711.35 440.25,708.14 430.72,702.69" fill="#2168f3" stroke="rgba(0,0,0,0.55)" stroke-width="0.45" stroke-linejoin="round"/>
<polygon points="336.39,678.29 345.93,683.74 345.93,601.08 336.39,595.64" fill="#4746ea" stroke="rgba(0,0,0,0.55)" stroke-width="0.45" stroke-linejoin="round"/>
<polygon points="345.93,683.74 356.07,680.53 356.07,597.87 345.93,601.08" fill="#4746ea" stroke="rgba(0,0,0,0.55)" stroke-width="0.45" stroke-linejoin="round"/>
<polygon points="336.39,595.64 345.93,601.08 356.07,597.87 346.54,592.43" fill="#4746ea" stroke="rgba(0,0,0,0.55)" stroke-width="0.45" stroke-linejoin="round"/>
<polygon points="348.31,685.1 357.84,690.54 357.84,610.19 348.31,604.75" fill="#4746ea" stroke="rgba(0,0,0,0.55)" stroke-width="0.45" stroke-linejoin="round"/>
<polygon points="357.84,690.54 367.99,687.33 367.99,606.98 357.84,610.19" fill="#4746ea" stroke="rgba(0,0,0,0.55)" stroke-width="0.45" stroke-linejoin="round"/>
<polygon points="348.31,604.75 357.84,610.19 367.99,606.98 358.46,601.54" fill="#4746ea" stroke="rgba(0,0,0,0.55)" stroke-width="0.45" stroke-linejoin="round"/>
<polygon points="360.22,691.9 369.76,697.35 369.76,630.53 360.22,625.09" fill="#4746ea" stroke="rgba(0,0,0,0.55)" stroke-width="0.45" stroke-linejoin="round"/>
<polygon points="369.76,697.35 379.9,694.14 379.9,627.32 369.76,630.53" fill="#4746ea" stroke="rgba(0,0,0,0.55)" stroke-width="0.45" stroke-linejoin="round"/>
<polygon points="360.22,625.09 369.76,630.53 379.9,627.32 370.37,621.88" fill="#4746ea" stroke="rgba(0,0,0,0.55)" stroke-width="0.45" stroke-linejoin="round"/>
<polygon points="372.14,698.71 381.67,704.15 381.67,660.95 372.14,655.51" fill="#4746ea" stroke="rgba(0,0,0,0.55)" stroke-width="0.45" stroke-linejoin="round"/>
<polygon points="381.67,704.15 391.82,700.95 391.82,657.75 381.67,660.95" fill="#4746ea" stroke="rgba(0,0,0,0.55)" stroke-width="0.45" stroke-linejoin="round"/>
<polygon points="372.14,655.51 381.67,660.95 391.82,657.75 382.29,652.3" fill="#4746ea" stroke="rgba(0,0,0,0.55)" stroke-width="0.45" stroke-linejoin="round"/>
<polygon points="384.06,705.52 393.59,710.96 393.59,662.29 384.06,656.84" fill="#4746ea" stroke="rgba(0,0,0,0.55)" stroke-width="0.45" stroke-linejoin="round"/>
<polygon points="393.59,710.96 403.74,707.75 403.74,659.08 393.59,662.29" fill="#4746ea" stroke="rgba(0,0,0,0.55)" stroke-width="0.45" stroke-linejoin="round"/>
<polygon points="384.06,656.84 393.59,662.29 403.74,659.08 394.2,653.64" fill="#4746ea" stroke="rgba(0,0,0,0.55)" stroke-width="0.45" stroke-linejoin="round"/>
<polygon points="395.97,712.32 405.51,717.77 405.51,653.83 395.97,648.39" fill="#4746ea" stroke="rgba(0,0,0,0.55)" stroke-width="0.45" stroke-linejoin="round"/>
<polygon points="405.51,717.77 415.65,714.56 415.65,650.62 405.51,653.83" fill="#4746ea" stroke="rgba(0,0,0,0.55)" stroke-width="0.45" stroke-linejoin="round"/>
<polygon points="395.97,648.39 405.51,653.83 415.65,650.62 406.12,645.18" fill="#4746ea" stroke="rgba(0,0,0,0.55)" stroke-width="0.45" stroke-linejoin="round"/>
<polygon points="407.89,719.13 417.42,724.57 417.42,708.44 407.89,703" fill="#4746ea" stroke="rgba(0,0,0,0.55)" stroke-width="0.45" stroke-linejoin="round"/>
<polygon points="417.42,724.57 427.57,721.36 427.57,705.24 417.42,708.44" fill="#4746ea" stroke="rgba(0,0,0,0.55)" stroke-width="0.45" stroke-linejoin="round"/>
<polygon points="407.89,703 417.42,708.44 427.57,705.24 418.04,699.79" fill="#4746ea" stroke="rgba(0,0,0,0.55)" stroke-width="0.45" stroke-linejoin="round"/>
<polygon points="323.71,682.3 333.24,687.75 333.24,622.95 323.71,617.5" fill="#4525b2" stroke="rgba(0,0,0,0.55)" stroke-width="0.45" stroke-linejoin="round"/>
<polygon points="333.24,687.75 343.39,684.54 343.39,619.74 333.24,622.95" fill="#4525b2" stroke="rgba(0,0,0,0.55)" stroke-width="0.45" stroke-linejoin="round"/>
<polygon points="323.71,617.5 333.24,622.95 343.39,619.74 333.86,614.29" fill="#4525b2" stroke="rgba(0,0,0,0.55)" stroke-width="0.45" stroke-linejoin="round"/>
<polygon points="335.62,689.11 345.16,694.55 345.16,625.14 335.62,619.7" fill="#4525b2" stroke="rgba(0,0,0,0.55)" stroke-width="0.45" stroke-linejoin="round"/>
<polygon points="345.16,694.55 355.3,691.34 355.3,621.94 345.16,625.14" fill="#4525b2" stroke="rgba(0,0,0,0.55)" stroke-width="0.45" stroke-linejoin="round"/>
<polygon points="335.62,619.7 345.16,625.14 355.3,621.94 345.77,616.49" fill="#4525b2" stroke="rgba(0,0,0,0.55)" stroke-width="0.45" stroke-linejoin="round"/>
<polygon points="347.54,695.91 357.07,701.36 357.07,654.41 347.54,648.97" fill="#4525b2" stroke="rgba(0,0,0,0.55)" stroke-width="0.45" stroke-linejoin="round"/>
<polygon points="357.07,701.36 367.22,698.15 367.22,651.21 357.07,654.41" fill="#4525b2" stroke="rgba(0,0,0,0.55)" stroke-width="0.45" stroke-linejoin="round"/>
<polygon points="347.54,648.97 357.07,654.41 367.22,651.21 357.69,645.76" fill="#4525b2" stroke="rgba(0,0,0,0.55)" stroke-width="0.45" stroke-linejoin="round"/>
<polygon points="359.46,702.72 368.99,708.16 368.99,671.01 359.46,665.57" fill="#4525b2" stroke="rgba(0,0,0,0.55)" stroke-width="0.45" stroke-linejoin="round"/>
<polygon points="368.99,708.16 379.14,704.96 379.14,667.8 368.99,671.01" fill="#4525b2" stroke="rgba(0,0,0,0.55)" stroke-width="0.45" stroke-linejoin="round"/>
<polygon points="359.46,665.57 368.99,671.01 379.14,667.8 369.6,662.36" fill="#4525b2" stroke="rgba(0,0,0,0.55)" stroke-width="0.45" stroke-linejoin="round"/>
<polygon points="371.37,709.53 380.91,714.97 380.91,676.09 371.37,670.65" fill="#4525b2" stroke="rgba(0,0,0,0.55)" stroke-width="0.45" stroke-linejoin="round"/>
<polygon points="380.91,714.97 391.05,711.76 391.05,672.88 380.91,676.09" fill="#4525b2" stroke="rgba(0,0,0,0.55)" stroke-width="0.45" stroke-linejoin="round"/>
<polygon points="371.37,670.65 380.91,676.09 391.05,672.88 381.52,667.44" fill="#4525b2" stroke="rgba(0,0,0,0.55)" stroke-width="0.45" stroke-linejoin="round"/>
<polygon points="383.29,716.33 392.82,721.78 392.82,683.76 383.29,678.32" fill="#4525b2" stroke="rgba(0,0,0,0.55)" stroke-width="0.45" stroke-linejoin="round"/>
<polygon points="392.82,721.78 402.97,718.57 402.97,680.55 392.82,683.76" fill="#4525b2" stroke="rgba(0,0,0,0.55)" stroke-width="0.45" stroke-linejoin="round"/>
<polygon points="383.29,678.32 392.82,683.76 402.97,680.55 393.44,675.11" fill="#4525b2" stroke="rgba(0,0,0,0.55)" stroke-width="0.45" stroke-linejoin="round"/>
<polygon points="395.21,723.14 404.74,728.58 404.74,723.97 395.21,718.53" fill="#4525b2" stroke="rgba(0,0,0,0.55)" stroke-width="0.45" stroke-linejoin="round"/>
<polygon points="404.74,728.58 414.89,725.37 414.89,720.77 404.74,723.97" fill="#4525b2" stroke="rgba(0,0,0,0.55)" stroke-width="0.45" stroke-linejoin="round"/>
<polygon points="395.21,718.53 404.74,723.97 414.89,720.77 405.35,715.32" fill="#4525b2" stroke="rgba(0,0,0,0.55)" stroke-width="0.45" stroke-linejoin="round"/>
<text x="310.8" y="680" font-size="7.4" text-anchor="end" fill="#262626">47.5</text>
<text x="310.8" y="651.2" font-size="7.4" text-anchor="end" fill="#262626">48.5</text>
<text x="310.8" y="622.4" font-size="7.4" text-anchor="end" fill="#262626">49.5</text>
<text x="310.8" y="593.6" font-size="7.4" text-anchor="end" fill="#262626">50.5</text>
<text x="310.8" y="564.8" font-size="7.4" text-anchor="end" fill="#262626">51.5</text>
<text x="323.07" y="696.32" font-size="7.4" text-anchor="end" fill="#262626">0.001</text>
<text x="334.85" y="703.05" font-size="7.4" text-anchor="end" fill="#262626">0.01</text>
<text x="346.62" y="709.77" font-size="7.4" text-anchor="end" fill="#262626">0.1</text>
<text x="358.4" y="716.5" font-size="7.4" text-anchor="end" fill="#262626">1</text>
<text x="370.18" y="723.22" font-size="7.4" text-anchor="end" fill="#262626">10</text>
<text x="381.95" y="729.95" font-size="7.4" text-anchor="end" fill="#262626">100</text>
<text x="393.73" y="736.67" font-size="7.4" text-anchor="end" fill="#262626">1000</text>
<text x="423.87" y="741.1" font-size="7.4" text-anchor="middle" fill="#262626">3</text>
<text x="436.56" y="737.09" font-size="7.4" text-anchor="middle" fill="#262626">6</text>
<text x="449.24" y="733.08" font-size="7.4" text-anchor="middle" fill="#262626">9</text>
<text x="461.92" y="729.07" font-size="7.4" text-anchor="middle" fill="#262626">12</text>
<text x="474.61" y="725.06" font-size="7.4" text-anchor="middle" fill="#262626">15</text>
<text x="487.29" y="721.04" font-size="7.4" text-anchor="middle" fill="#262626">18</text>
<text x="499.98" y="717.03" font-size="7.4" text-anchor="middle" fill="#262626">21</text>
<text x="512.66" y="713.02" font-size="7.4" text-anchor="middle" fill="#262626">24</text>
<text x="525.34" y="709.01" font-size="7.4" text-anchor="middle" fill="#262626">27</text>
<text x="538.03" y="705" font-size="7.4" text-anchor="middle" fill="#262626">30</text>
<text x="292" y="620" font-size="7.4" text-anchor="middle" fill="#262626" transform="rotate(-90 292 620)">Accuracy rate</text>
<text x="478" y="742.3" font-size="7.4" text-anchor="middle" fill="#262626" transform="rotate(-1.5 478 742.3)">Demension</text>
<text x="356" y="740" font-size="7.4" text-anchor="middle" fill="#262626">β</text>
</g>
<text transform="translate(63 250.5) scale(1.153 1)" font-size="12.6" fill="#111" stroke="#111" stroke-width="0.12"><tspan font-style="italic">α</tspan> on Libras Movement</text>
<text transform="translate(349 250.5) scale(1.148 1)" font-size="12.6" fill="#111" stroke="#111" stroke-width="0.12"><tspan font-style="italic">β</tspan> on Libras Movement</text>
<text transform="translate(62.8 508.5) scale(1.141 1)" font-size="12.6" fill="#111" stroke="#111" stroke-width="0.12"><tspan font-style="italic">θ</tspan> on Libras Movement</text>
<text transform="translate(349.9 508.5) scale(1.148 1)" font-size="12.6" fill="#111" stroke="#111" stroke-width="0.12"><tspan font-style="italic">λ</tspan> on Libras Movement</text>
<text transform="translate(90.8 768.5) scale(1.182 1)" font-size="12.6" fill="#111" stroke="#111" stroke-width="0.12"><tspan font-style="italic">α</tspan> on Landsat</text>
<text transform="translate(377.6 768.5) scale(1.139 1)" font-size="12.6" fill="#111" stroke="#111" stroke-width="0.12"><tspan font-style="italic">β</tspan> on Landsat</text>
</svg>
</body></html>
